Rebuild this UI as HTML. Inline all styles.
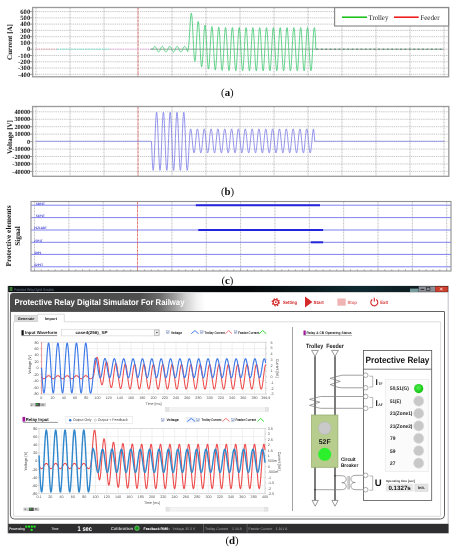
<!DOCTYPE html>
<html><head><meta charset="utf-8"><title>Protective Relay Figure</title>
<style>html,body{margin:0;padding:0;background:#fff;}body{width:455px;height:550px;overflow:hidden;}svg{display:block;}</style></head><body>
<svg width="455" height="550" viewBox="0 0 455 550" text-rendering="geometricPrecision">
<line x1="36" y1="7.5" x2="36" y2="76.8" stroke="#9a9a9a" stroke-width="0.6" stroke-dasharray="2 1"/>
<line x1="70" y1="7.5" x2="70" y2="76.8" stroke="#9a9a9a" stroke-width="0.6" stroke-dasharray="2 1"/>
<line x1="104" y1="7.5" x2="104" y2="76.8" stroke="#9a9a9a" stroke-width="0.6" stroke-dasharray="2 1"/>
<line x1="138" y1="7.5" x2="138" y2="76.8" stroke="#9a9a9a" stroke-width="0.6" stroke-dasharray="2 1"/>
<line x1="172" y1="7.5" x2="172" y2="76.8" stroke="#9a9a9a" stroke-width="0.6" stroke-dasharray="2 1"/>
<line x1="206" y1="7.5" x2="206" y2="76.8" stroke="#9a9a9a" stroke-width="0.6" stroke-dasharray="2 1"/>
<line x1="240" y1="7.5" x2="240" y2="76.8" stroke="#9a9a9a" stroke-width="0.6" stroke-dasharray="2 1"/>
<line x1="274" y1="7.5" x2="274" y2="76.8" stroke="#9a9a9a" stroke-width="0.6" stroke-dasharray="2 1"/>
<line x1="308" y1="7.5" x2="308" y2="76.8" stroke="#9a9a9a" stroke-width="0.6" stroke-dasharray="2 1"/>
<line x1="342" y1="7.5" x2="342" y2="76.8" stroke="#9a9a9a" stroke-width="0.6" stroke-dasharray="2 1"/>
<line x1="376" y1="7.5" x2="376" y2="76.8" stroke="#9a9a9a" stroke-width="0.6" stroke-dasharray="2 1"/>
<line x1="410" y1="7.5" x2="410" y2="76.8" stroke="#9a9a9a" stroke-width="0.6" stroke-dasharray="2 1"/>
<line x1="444" y1="7.5" x2="444" y2="76.8" stroke="#9a9a9a" stroke-width="0.6" stroke-dasharray="2 1"/>
<line x1="32.6" y1="11.6" x2="448.6" y2="11.6" stroke="#a2a2a2" stroke-width="0.6" stroke-dasharray="1.3 0.8"/>
<line x1="32.6" y1="17.87" x2="448.6" y2="17.87" stroke="#a2a2a2" stroke-width="0.6" stroke-dasharray="1.3 0.8"/>
<line x1="32.6" y1="24.14" x2="448.6" y2="24.14" stroke="#a2a2a2" stroke-width="0.6" stroke-dasharray="1.3 0.8"/>
<line x1="32.6" y1="30.41" x2="448.6" y2="30.41" stroke="#a2a2a2" stroke-width="0.6" stroke-dasharray="1.3 0.8"/>
<line x1="32.6" y1="36.68" x2="448.6" y2="36.68" stroke="#a2a2a2" stroke-width="0.6" stroke-dasharray="1.3 0.8"/>
<line x1="32.6" y1="42.95" x2="448.6" y2="42.95" stroke="#a2a2a2" stroke-width="0.6" stroke-dasharray="1.3 0.8"/>
<line x1="32.6" y1="49.22" x2="448.6" y2="49.22" stroke="#a2a2a2" stroke-width="0.6" stroke-dasharray="1.3 0.8"/>
<line x1="32.6" y1="55.49" x2="448.6" y2="55.49" stroke="#a2a2a2" stroke-width="0.6" stroke-dasharray="1.3 0.8"/>
<line x1="32.6" y1="61.76" x2="448.6" y2="61.76" stroke="#a2a2a2" stroke-width="0.6" stroke-dasharray="1.3 0.8"/>
<line x1="32.6" y1="68.03" x2="448.6" y2="68.03" stroke="#a2a2a2" stroke-width="0.6" stroke-dasharray="1.3 0.8"/>
<line x1="32.6" y1="74.3" x2="448.6" y2="74.3" stroke="#a2a2a2" stroke-width="0.6" stroke-dasharray="1.3 0.8"/>
<line x1="30" y1="11.6" x2="32.6" y2="11.6" stroke="#555" stroke-width="0.6" />
<line x1="30" y1="17.87" x2="32.6" y2="17.87" stroke="#555" stroke-width="0.6" />
<line x1="30" y1="24.14" x2="32.6" y2="24.14" stroke="#555" stroke-width="0.6" />
<line x1="30" y1="30.41" x2="32.6" y2="30.41" stroke="#555" stroke-width="0.6" />
<line x1="30" y1="36.68" x2="32.6" y2="36.68" stroke="#555" stroke-width="0.6" />
<line x1="30" y1="42.95" x2="32.6" y2="42.95" stroke="#555" stroke-width="0.6" />
<line x1="30" y1="49.22" x2="32.6" y2="49.22" stroke="#555" stroke-width="0.6" />
<line x1="30" y1="55.49" x2="32.6" y2="55.49" stroke="#555" stroke-width="0.6" />
<line x1="30" y1="61.76" x2="32.6" y2="61.76" stroke="#555" stroke-width="0.6" />
<line x1="30" y1="68.03" x2="32.6" y2="68.03" stroke="#555" stroke-width="0.6" />
<line x1="30" y1="74.3" x2="32.6" y2="74.3" stroke="#555" stroke-width="0.6" />
<text x="30.2" y="13.8" font-size="6.6" text-anchor="end" font-weight="bold" fill="#222" font-family="'Liberation Serif', 'DejaVu Serif', serif" >600</text>
<text x="30.2" y="20.07" font-size="6.6" text-anchor="end" font-weight="bold" fill="#222" font-family="'Liberation Serif', 'DejaVu Serif', serif" >500</text>
<text x="30.2" y="26.34" font-size="6.6" text-anchor="end" font-weight="bold" fill="#222" font-family="'Liberation Serif', 'DejaVu Serif', serif" >400</text>
<text x="30.2" y="32.61" font-size="6.6" text-anchor="end" font-weight="bold" fill="#222" font-family="'Liberation Serif', 'DejaVu Serif', serif" >300</text>
<text x="30.2" y="38.88" font-size="6.6" text-anchor="end" font-weight="bold" fill="#222" font-family="'Liberation Serif', 'DejaVu Serif', serif" >200</text>
<text x="30.2" y="45.15" font-size="6.6" text-anchor="end" font-weight="bold" fill="#222" font-family="'Liberation Serif', 'DejaVu Serif', serif" >100</text>
<text x="30.2" y="51.42" font-size="6.6" text-anchor="end" font-weight="bold" fill="#222" font-family="'Liberation Serif', 'DejaVu Serif', serif" >0</text>
<text x="30.2" y="57.69" font-size="6.6" text-anchor="end" font-weight="bold" fill="#222" font-family="'Liberation Serif', 'DejaVu Serif', serif" >-100</text>
<text x="30.2" y="63.96" font-size="6.6" text-anchor="end" font-weight="bold" fill="#222" font-family="'Liberation Serif', 'DejaVu Serif', serif" >-200</text>
<text x="30.2" y="70.23" font-size="6.6" text-anchor="end" font-weight="bold" fill="#222" font-family="'Liberation Serif', 'DejaVu Serif', serif" >-300</text>
<text x="30.2" y="76.5" font-size="6.6" text-anchor="end" font-weight="bold" fill="#222" font-family="'Liberation Serif', 'DejaVu Serif', serif" >-400</text>
<text x="0" y="0" font-size="7" text-anchor="middle" font-weight="bold" fill="#111" font-family="'Liberation Serif', 'DejaVu Serif', serif" transform="translate(12.2 42) rotate(-90)">Current [A]</text>
<line x1="150" y1="49.2" x2="444" y2="49.2" stroke="#8c8c8c" stroke-width="0.7" />
<line x1="138" y1="7.5" x2="138" y2="76.8" stroke="#ee6060" stroke-width="0.75" stroke-dasharray="3 1"/>
<line x1="36" y1="49.2" x2="57" y2="49.2" stroke="#e890a0" stroke-width="0.8" stroke-dasharray="1.5 1"/>
<line x1="57" y1="49.2" x2="110" y2="49.2" stroke="#70e0c8" stroke-width="0.9" stroke-dasharray="2 0.8"/>
<line x1="110" y1="49.2" x2="151" y2="49.2" stroke="#f0a0e8" stroke-width="0.8" stroke-dasharray="1.5 1"/>
<path d="M151 49.2L151.2 49.2L151.4 49.2L151.6 49.2L151.8 49.2L152 49.2L152.2 49.2L152.4 49.2L152.6 49.2L152.8 49.2L153 49.2L153.2 48.73L153.4 48.27L153.6 47.84L153.8 47.45L154 47.11L154.2 46.83L154.4 46.61L154.6 46.47L154.8 46.4L155 46.42L155.2 46.51L155.4 46.68L155.6 46.92L155.8 47.23L156 47.59L156.2 48L156.4 48.44L156.6 48.91L156.8 49.38L157 49.84L157.2 50.29L157.4 50.71L157.6 51.08L157.8 51.4L158 51.66L158.2 51.85L158.4 51.97L158.6 52L158.8 51.96L159 51.83L159.2 51.63L159.4 51.37L159.6 51.04L159.8 50.66L160 50.24L160.2 49.79L160.4 49.32L160.6 48.85L160.8 48.39L161 47.95L161.2 47.54L161.4 47.19L161.6 46.89L161.8 46.66L162 46.5L162.2 46.41L162.4 46.41L162.6 46.48L162.8 46.63L163 46.86L163.2 47.15L163.4 47.5L163.6 47.89L163.8 48.33L164 48.79L164.2 49.26L164.4 49.73L164.6 50.18L164.8 50.61L165 50.99L165.2 51.33L165.4 51.6L165.6 51.81L165.8 51.94L166 52L166.2 51.97L166.4 51.87L166.6 51.69L166.8 51.44L167 51.13L167.2 50.76L167.4 50.35L167.6 49.9L167.8 49.44L168 48.96L168.2 48.5L168.4 48.05L168.6 47.64L168.8 47.27L169 46.96L169.2 46.71L169.4 46.53L169.6 46.43L169.8 46.4L170 46.46L170.2 46.59L170.4 46.8L170.6 47.07L170.8 47.41L171 47.79L171.2 48.22L171.4 48.67L171.6 49.14L171.8 49.61L172 50.07L172.2 50.51L172.4 50.9L172.6 51.25L172.8 51.54L173 51.77L173.2 51.92L173.4 51.99L173.6 51.99L173.8 51.9L174 51.74L174.2 51.51L174.4 51.21L174.6 50.86L174.8 50.45L175 50.01L175.2 49.55L175.4 49.08L175.6 48.61L175.8 48.16L176 47.74L176.2 47.36L176.4 47.03L176.6 46.77L176.8 46.57L177 46.44L177.2 46.4L177.4 46.43L177.6 46.55L177.8 46.74L178 47L178.2 47.32L178.4 47.69L178.6 48.11L178.8 48.56L179 49.02L179.2 49.49L179.4 49.96L179.6 50.4L179.8 50.81L180 51.17L180.2 51.48L180.4 51.72L180.6 51.89L180.8 51.98L181 52L181.2 51.93L181.4 51.79L181.6 51.57L181.8 51.29L182 50.95L182.2 50.56L182.4 50.13L182.6 49.67L182.8 49.2L183 48.73L183.2 48.27L183.4 47.84L183.6 47.45L183.8 47.11L184 46.83L184.2 46.61L184.4 46.47L184.6 46.4L184.8 46.42L185 46.51L185.2 46.68L185.4 46.92L185.6 47.23L185.8 47.59L186 48L186.2 48.44L186.4 48.91L186.6 49.38L186.8 49.84L187 50.29L187.2 50.71L187.4 51.08L187.6 51.4L187.8 51.66L188 48.8L188.2 48.92L188.4 48.32L188.6 47.02L188.8 45.1L189 42.63L189.2 39.72L189.4 36.47L189.6 33.02L189.8 29.5L190 26.04L190.2 22.77L190.4 19.82L190.6 17.29L190.8 15.3L191 13.93L191.2 13.22L191.4 13.22L191.6 13.94L191.8 15.36L192 17.46L192.2 20.18L192.4 23.42L192.6 27.1L192.8 31.1L193 35.29L193.2 39.55L193.4 43.74L193.6 47.73L193.8 51.39L194 54.62L194.2 57.3L194.4 59.36L194.6 60.74L194.8 61.39L195 61.32L195.2 60.51L195.4 59.02L195.6 56.9L195.8 54.22L196 51.09L196.2 47.62L196.4 43.93L196.6 40.15L196.8 36.42L197 32.87L197.2 29.63L197.4 26.8L197.6 24.5L197.8 22.81L198 21.78L198.2 21.46L198.4 21.87L198.6 22.99L198.8 24.8L199 27.23L199.2 30.22L199.4 33.66L199.6 37.44L199.8 41.44L200 45.53L200.2 49.58L200.4 53.45L200.6 57.01L200.8 60.15L201 62.78L201.2 64.79L201.4 66.13L201.6 66.76L201.8 66.66L202 65.84L202.2 64.32L202.4 62.16L202.6 59.44L202.8 56.25L203 52.71L203.2 48.93L203.4 45.05L203.6 41.19L203.8 37.5L204 34.1L204.2 31.11L204.4 28.63L204.6 26.74L204.8 25.52L205 25.01L205.2 25.22L205.4 26.15L205.6 27.77L205.8 30.04L206 32.87L206.2 36.17L206.4 39.83L206.6 43.73L206.8 47.75L207 51.74L207.2 55.57L207.4 59.12L207.6 62.27L207.8 64.92L208 66.96L208.2 68.35L208.4 69.03L208.6 68.98L208.8 68.21L209 66.74L209.2 64.62L209.4 61.92L209.6 58.75L209.8 55.2L210 51.4L210.2 47.48L210.4 43.57L210.6 39.8L210.8 36.31L211 33.2L211.2 30.6L211.4 28.58L211.6 27.21L211.8 26.55L212 26.62L212.2 27.4L212.4 28.89L212.6 31.03L212.8 33.75L213 36.95L213.2 40.53L213.4 44.38L213.6 48.35L213.8 52.33L214 56.16L214.2 59.74L214.4 62.93L214.6 65.62L214.8 67.74L215 69.2L215.2 69.97L215.4 70L215.6 69.31L215.8 67.92L216 65.87L216.2 63.24L216.4 60.1L216.6 56.59L216.8 52.79L217 48.86L217.2 44.92L217.4 41.1L217.6 37.54L217.8 34.35L218 31.65L218.2 29.52L218.4 28.04L218.6 27.25L218.8 27.19L219 27.86L219.2 29.23L219.4 31.26L219.6 33.88L219.8 37L220 40.52L220.2 44.32L220.4 48.27L220.6 52.24L220.8 56.09L221 59.7L221.2 62.94L221.4 65.71L221.6 67.91L221.8 69.46L222 70.32L222.2 70.46L222.4 69.86L222.6 68.56L222.8 66.6L223 64.04L223.2 60.97L223.4 57.49L223.6 53.72L223.8 49.79L224 45.84L224.2 41.99L224.4 38.37L224.6 35.11L224.8 32.32L225 30.09L225.2 28.5L225.4 27.6L225.6 27.42L225.8 27.97L226 29.23L226.2 31.16L226.4 33.69L226.6 36.74L226.8 40.2L227 43.96L227.2 47.89L227.4 51.86L227.6 55.74L227.8 59.39L228 62.68L228.2 65.52L228.4 67.81L228.6 69.46L228.8 70.42L229 70.66L229.2 70.17L229.4 68.97L229.6 67.1L229.8 64.62L230 61.61L230.2 58.18L230.4 54.45L230.6 50.53L230.8 46.57L231 42.69L231.2 39.03L231.4 35.7L231.6 32.83L231.8 30.51L232 28.82L232.2 27.81L232.4 27.52L232.6 27.96L232.8 29.11L233 30.94L233.2 33.38L233.4 36.36L233.6 39.76L233.8 43.48L234 47.39L234.2 51.36L234.4 55.26L234.6 58.95L234.8 62.3L235 65.21L235.2 67.58L235.4 69.33L235.6 70.4L235.8 70.74L236 70.36L236.2 69.26L236.4 67.49L236.6 65.09L236.8 62.16L237 58.79L237.2 55.09L237.4 51.19L237.6 47.22L237.8 43.32L238 39.61L238.2 36.23L238.4 33.28L238.6 30.87L238.8 29.08L239 27.96L239.2 27.56L239.4 27.89L239.6 28.94L239.8 30.67L240 33.02L240.2 35.92L240.4 39.27L240.6 42.95L240.8 46.84L241 50.81L241.2 54.72L241.4 58.45L241.6 61.86L241.8 64.85L242 67.3L242.2 69.14L242.4 70.31L242.6 70.77L242.8 70.5L243 69.5L243.2 67.83L243.4 65.52L243.6 62.66L243.8 59.34L244 55.68L244.2 51.81L244.4 47.84L244.6 43.92L244.8 40.18L245 36.74L245.2 33.72L245.4 31.22L245.6 29.33L245.8 28.11L246 27.6L246.2 27.82L246.4 28.76L246.6 30.39L246.8 32.65L247 35.48L247.2 38.76L247.4 42.4L247.6 46.27L247.8 50.23L248 54.16L248.2 57.92L248.4 61.39L248.6 64.44L248.8 66.98L249 68.92L249.2 70.2L249.4 70.76L249.6 70.6L249.8 69.71L250 68.13L250.2 65.91L250.4 63.13L250.6 59.88L250.8 56.26L251 52.41L251.2 48.45L251.4 44.51L251.6 40.73L251.8 37.24L252 34.15L252.2 31.57L252.4 29.58L252.6 28.26L252.8 27.64L253 27.75L253.2 28.58L253.4 30.11L253.6 32.28L253.8 35.03L254 38.25L254.2 41.84L254.4 45.68L254.6 49.64L254.8 53.59L255 57.38L255.2 60.9L255.4 64.02L255.6 66.65L255.8 68.68L256 70.06L256.2 70.73L256.4 70.67L256.6 69.9L256.8 68.42L257 66.29L257.2 63.59L257.4 60.4L257.6 56.83L257.8 53L258 49.05L258.2 45.1L258.4 41.29L258.6 37.74L258.8 34.59L259 31.92L259.2 29.84L259.4 28.41L259.6 27.69L259.8 27.69L260 28.41L260.2 29.84L260.4 31.92L260.6 34.59L260.8 37.74L261 41.29L261.2 45.1L261.4 49.05L261.6 53L261.8 56.83L262 60.4L262.2 63.59L262.4 66.29L262.6 68.42L262.8 69.9L263 70.68L263.2 70.73L263.4 70.06L263.6 68.68L263.8 66.65L264 64.03L264.2 60.9L264.4 57.38L264.6 53.59L264.8 49.65L265 45.69L265.2 41.85L265.4 38.26L265.6 35.03L265.8 32.29L266 30.12L266.2 28.59L266.4 27.75L266.6 27.64L266.8 28.26L267 29.59L267.2 31.57L267.4 34.16L267.6 37.25L267.8 40.74L268 44.52L268.2 48.45L268.4 52.42L268.6 56.27L268.8 59.88L269 63.14L269.2 65.92L269.4 68.14L269.6 69.72L269.8 70.61L270 70.77L270.2 70.21L270.4 68.93L270.6 67L270.8 64.46L271 61.4L271.2 57.93L271.4 54.17L271.6 50.24L271.8 46.28L272 42.41L272.2 38.77L272.4 35.49L272.6 32.67L272.8 30.4L273 28.77L273.2 27.83L273.4 27.61L273.6 28.12L273.8 29.34L274 31.24L274.2 33.73L274.4 36.75L274.6 40.19L274.8 43.94L275 47.86L275.2 51.83L275.4 55.7L275.6 59.36L275.8 62.68L276 65.54L276.2 67.85L276.4 69.53L276.6 70.52L276.8 70.79L277 70.34L277.2 69.17L277.4 67.33L277.6 64.87L277.8 61.89L278 58.48L278.2 54.75L278.4 50.84L278.6 46.87L278.8 42.98L279 39.3L279.2 35.96L279.4 33.06L279.6 30.7L279.8 28.98L280 27.93L280.2 27.6L280.4 28L280.6 29.12L280.8 30.91L281 33.32L281.2 36.27L281.4 39.66L281.6 43.36L281.8 47.27L282 51.23L282.2 55.13L282.4 58.83L282.6 62.21L282.8 65.14L283 67.54L283.2 69.32L283.4 70.42L283.6 70.8L283.8 70.45L284 69.39L284.2 67.64L284.4 65.28L284.6 62.37L284.8 59.01L285 55.32L285.2 51.43L285.4 47.46L285.6 43.55L285.8 39.83L286 36.43L286.2 33.46L286.4 31.02L286.6 29.19L286.8 28.04L287 27.6L287.2 27.9L287.4 28.91L287.6 30.6L287.8 32.93L288 35.8L288.2 39.12L288.4 42.79L288.6 46.67L288.8 50.64L289 54.56L289.2 58.3L289.4 61.73L289.6 64.73L289.8 67.22L290 69.09L290.2 70.3L290.4 70.79L290.6 70.55L290.8 69.59L291 67.95L291.2 65.67L291.4 62.83L291.6 59.54L291.8 55.89L292 52.02L292.2 48.06L292.4 44.13L292.6 40.38L292.8 36.92L293 33.87L293.2 31.35L293.4 29.42L293.6 28.17L293.8 27.62L294 27.81L294.2 28.71L294.4 30.31L294.6 32.54L294.8 35.34L295 38.6L295.2 42.22L295.4 46.08L295.6 50.04L295.8 53.98L296 57.75L296.2 61.24L296.4 64.31L296.6 66.88L296.8 68.85L297 70.16L297.2 70.76L297.4 70.63L297.6 69.78L297.8 68.24L298 66.05L298.2 63.29L298.4 60.06L298.6 56.46L298.8 52.61L299 48.65L299.2 44.71L299.4 40.92L299.6 37.41L299.8 34.3L300 31.69L300.2 29.67L300.4 28.31L300.6 27.66L300.8 27.73L301 28.53L301.2 30.02L301.4 32.17L301.6 34.89L301.8 38.09L302 41.66L302.2 45.49L302.4 49.45L302.6 53.4L302.8 57.2L303 60.74L303.2 63.88L303.4 66.53L303.6 68.6L303.8 70.01L304 70.72L304.2 70.7L304.4 69.96L304.6 68.51L304.8 66.41L305 63.74L305.2 60.57L305.4 57.02L305.6 53.2L305.8 49.25L306 45.3L306.2 41.48L306.4 37.92L306.6 34.74L306.8 32.05L307 29.93L307.2 28.47L307.4 27.71L307.6 27.67L307.8 28.36L308 29.76L308.2 31.81L308.4 34.44L308.6 37.58L308.8 41.11L309 44.91L309.2 48.85L309.4 52.81L309.6 56.64L309.8 60.23L310 63.44L310.2 66.17L310.4 68.33L310.6 69.84L310.8 70.66L311 70.75L311.2 70.11L311.4 68.77L311.6 66.77L311.8 64.17L312 61.07L312.2 57.57L312.4 53.78L312.6 49.85L312.8 45.88L313 42.04L313.2 38.43L313.4 35.19L313.6 32.41L313.8 30.21L314 28.65L314.2 27.78L314.4 27.63L314.6 28.21L314.8 29.51L315 31.46L315.2 34.01L315.4 37.08L315.6 40.56L315.8 49.2L316 49.2L316.2 49.2L316.4 49.2L316.6 49.2" fill="none" stroke="#30c466" stroke-width="0.75"/>
<line x1="316.5" y1="49.2" x2="444" y2="49.2" stroke="#3a8a5a" stroke-width="1" stroke-dasharray="1.8 2.6"/>
<rect x="32.6" y="7.5" width="416" height="69.3" fill="none" stroke="#999999" stroke-width="1.3" />
<rect x="334.6" y="7.6" width="114" height="18.4" fill="#fff" stroke="#8c8c8c" stroke-width="1.2" />
<line x1="342" y1="17.2" x2="367" y2="17.2" stroke="#10c010" stroke-width="1.5" />
<text x="368.5" y="19.8" font-size="7.4" text-anchor="start" font-weight="normal" fill="#222" font-family="'Liberation Serif', 'DejaVu Serif', serif"  textLength="19.8" lengthAdjust="spacingAndGlyphs">Trolley</text>
<line x1="394" y1="17.2" x2="418.7" y2="17.2" stroke="#ee1010" stroke-width="1.5" />
<text x="420.3" y="19.8" font-size="7.4" text-anchor="start" font-weight="normal" fill="#222" font-family="'Liberation Serif', 'DejaVu Serif', serif"  textLength="19.2" lengthAdjust="spacingAndGlyphs">Feeder</text>
<text x="227.4" y="95.9" font-size="10.8" text-anchor="middle" font-weight="normal" fill="#111" font-family="'Liberation Serif', 'DejaVu Serif', serif" >(<tspan font-weight="bold">a</tspan>)</text>
<line x1="36" y1="106.5" x2="36" y2="176.3" stroke="#9a9a9a" stroke-width="0.6" stroke-dasharray="2 1"/>
<line x1="70" y1="106.5" x2="70" y2="176.3" stroke="#9a9a9a" stroke-width="0.6" stroke-dasharray="2 1"/>
<line x1="104" y1="106.5" x2="104" y2="176.3" stroke="#9a9a9a" stroke-width="0.6" stroke-dasharray="2 1"/>
<line x1="138" y1="106.5" x2="138" y2="176.3" stroke="#9a9a9a" stroke-width="0.6" stroke-dasharray="2 1"/>
<line x1="172" y1="106.5" x2="172" y2="176.3" stroke="#9a9a9a" stroke-width="0.6" stroke-dasharray="2 1"/>
<line x1="206" y1="106.5" x2="206" y2="176.3" stroke="#9a9a9a" stroke-width="0.6" stroke-dasharray="2 1"/>
<line x1="240" y1="106.5" x2="240" y2="176.3" stroke="#9a9a9a" stroke-width="0.6" stroke-dasharray="2 1"/>
<line x1="274" y1="106.5" x2="274" y2="176.3" stroke="#9a9a9a" stroke-width="0.6" stroke-dasharray="2 1"/>
<line x1="308" y1="106.5" x2="308" y2="176.3" stroke="#9a9a9a" stroke-width="0.6" stroke-dasharray="2 1"/>
<line x1="342" y1="106.5" x2="342" y2="176.3" stroke="#9a9a9a" stroke-width="0.6" stroke-dasharray="2 1"/>
<line x1="376" y1="106.5" x2="376" y2="176.3" stroke="#9a9a9a" stroke-width="0.6" stroke-dasharray="2 1"/>
<line x1="410" y1="106.5" x2="410" y2="176.3" stroke="#9a9a9a" stroke-width="0.6" stroke-dasharray="2 1"/>
<line x1="444" y1="106.5" x2="444" y2="176.3" stroke="#9a9a9a" stroke-width="0.6" stroke-dasharray="2 1"/>
<line x1="32.6" y1="111.8" x2="448.8" y2="111.8" stroke="#a2a2a2" stroke-width="0.6" stroke-dasharray="1.3 0.8"/>
<line x1="30" y1="111.8" x2="32.6" y2="111.8" stroke="#555" stroke-width="0.6" />
<line x1="32.6" y1="119.25" x2="448.8" y2="119.25" stroke="#a2a2a2" stroke-width="0.6" stroke-dasharray="1.3 0.8"/>
<line x1="30" y1="119.25" x2="32.6" y2="119.25" stroke="#555" stroke-width="0.6" />
<line x1="32.6" y1="126.7" x2="448.8" y2="126.7" stroke="#a2a2a2" stroke-width="0.6" stroke-dasharray="1.3 0.8"/>
<line x1="30" y1="126.7" x2="32.6" y2="126.7" stroke="#555" stroke-width="0.6" />
<line x1="32.6" y1="134.15" x2="448.8" y2="134.15" stroke="#a2a2a2" stroke-width="0.6" stroke-dasharray="1.3 0.8"/>
<line x1="30" y1="134.15" x2="32.6" y2="134.15" stroke="#555" stroke-width="0.6" />
<line x1="32.6" y1="141.6" x2="448.8" y2="141.6" stroke="#a2a2a2" stroke-width="0.6" stroke-dasharray="1.3 0.8"/>
<line x1="30" y1="141.6" x2="32.6" y2="141.6" stroke="#555" stroke-width="0.6" />
<line x1="32.6" y1="149.05" x2="448.8" y2="149.05" stroke="#a2a2a2" stroke-width="0.6" stroke-dasharray="1.3 0.8"/>
<line x1="30" y1="149.05" x2="32.6" y2="149.05" stroke="#555" stroke-width="0.6" />
<line x1="32.6" y1="156.5" x2="448.8" y2="156.5" stroke="#a2a2a2" stroke-width="0.6" stroke-dasharray="1.3 0.8"/>
<line x1="30" y1="156.5" x2="32.6" y2="156.5" stroke="#555" stroke-width="0.6" />
<line x1="32.6" y1="163.95" x2="448.8" y2="163.95" stroke="#a2a2a2" stroke-width="0.6" stroke-dasharray="1.3 0.8"/>
<line x1="30" y1="163.95" x2="32.6" y2="163.95" stroke="#555" stroke-width="0.6" />
<line x1="32.6" y1="171.4" x2="448.8" y2="171.4" stroke="#a2a2a2" stroke-width="0.6" stroke-dasharray="1.3 0.8"/>
<line x1="30" y1="171.4" x2="32.6" y2="171.4" stroke="#555" stroke-width="0.6" />
<text x="30.2" y="113.9" font-size="6.3" text-anchor="end" font-weight="bold" fill="#222" font-family="'Liberation Serif', 'DejaVu Serif', serif" >40000</text>
<text x="30.2" y="121.35" font-size="6.3" text-anchor="end" font-weight="bold" fill="#222" font-family="'Liberation Serif', 'DejaVu Serif', serif" >30000</text>
<text x="30.2" y="128.8" font-size="6.3" text-anchor="end" font-weight="bold" fill="#222" font-family="'Liberation Serif', 'DejaVu Serif', serif" >20000</text>
<text x="30.2" y="136.25" font-size="6.3" text-anchor="end" font-weight="bold" fill="#222" font-family="'Liberation Serif', 'DejaVu Serif', serif" >10000</text>
<text x="30.2" y="143.7" font-size="6.3" text-anchor="end" font-weight="bold" fill="#222" font-family="'Liberation Serif', 'DejaVu Serif', serif" >0</text>
<text x="30.2" y="151.15" font-size="6.3" text-anchor="end" font-weight="bold" fill="#222" font-family="'Liberation Serif', 'DejaVu Serif', serif" >-10000</text>
<text x="30.2" y="158.6" font-size="6.3" text-anchor="end" font-weight="bold" fill="#222" font-family="'Liberation Serif', 'DejaVu Serif', serif" >-20000</text>
<text x="30.2" y="166.05" font-size="6.3" text-anchor="end" font-weight="bold" fill="#222" font-family="'Liberation Serif', 'DejaVu Serif', serif" >-30000</text>
<text x="30.2" y="173.5" font-size="6.3" text-anchor="end" font-weight="bold" fill="#222" font-family="'Liberation Serif', 'DejaVu Serif', serif" >-40000</text>
<text x="0" y="0" font-size="7" text-anchor="middle" font-weight="bold" fill="#111" font-family="'Liberation Serif', 'DejaVu Serif', serif" transform="translate(12.2 137) rotate(-90)">Voltage [V]</text>
<line x1="138" y1="106.5" x2="138" y2="176.3" stroke="#ee6060" stroke-width="0.75" stroke-dasharray="3 1"/>
<path d="M36 141.3L36.2 141.3L36.4 141.3L36.6 141.3L36.8 141.3L37 141.3L37.2 141.3L37.4 141.3L37.6 141.3L37.8 141.3L38 141.3L38.2 141.3L38.4 141.3L38.6 141.3L38.8 141.3L39 141.3L39.2 141.3L39.4 141.3L39.6 141.3L39.8 141.3L40 141.3L40.2 141.3L40.4 141.3L40.6 141.3L40.8 141.3L41 141.3L41.2 141.3L41.4 141.3L41.6 141.3L41.8 141.3L42 141.3L42.2 141.3L42.4 141.3L42.6 141.3L42.8 141.3L43 141.3L43.2 141.3L43.4 141.3L43.6 141.3L43.8 141.3L44 141.3L44.2 141.3L44.4 141.3L44.6 141.3L44.8 141.3L45 141.3L45.2 141.3L45.4 141.3L45.6 141.3L45.8 141.3L46 141.3L46.2 141.3L46.4 141.3L46.6 141.3L46.8 141.3L47 141.3L47.2 141.3L47.4 141.3L47.6 141.3L47.8 141.3L48 141.3L48.2 141.3L48.4 141.3L48.6 141.3L48.8 141.3L49 141.3L49.2 141.3L49.4 141.3L49.6 141.3L49.8 141.3L50 141.3L50.2 141.3L50.4 141.3L50.6 141.3L50.8 141.3L51 141.3L51.2 141.3L51.4 141.3L51.6 141.3L51.8 141.3L52 141.3L52.2 141.3L52.4 141.3L52.6 141.3L52.8 141.3L53 141.3L53.2 141.3L53.4 141.3L53.6 141.3L53.8 141.3L54 141.3L54.2 141.3L54.4 141.3L54.6 141.3L54.8 141.3L55 141.3L55.2 141.3L55.4 141.3L55.6 141.3L55.8 141.3L56 141.3L56.2 141.3L56.4 141.3L56.6 141.3L56.8 141.3L57 141.3L57.2 141.3L57.4 141.3L57.6 141.3L57.8 141.3L58 141.3L58.2 141.3L58.4 141.3L58.6 141.3L58.8 141.3L59 141.3L59.2 141.3L59.4 141.3L59.6 141.3L59.8 141.3L60 141.3L60.2 141.3L60.4 141.3L60.6 141.3L60.8 141.3L61 141.3L61.2 141.3L61.4 141.3L61.6 141.3L61.8 141.3L62 141.3L62.2 141.3L62.4 141.3L62.6 141.3L62.8 141.3L63 141.3L63.2 141.3L63.4 141.3L63.6 141.3L63.8 141.3L64 141.3L64.2 141.3L64.4 141.3L64.6 141.3L64.8 141.3L65 141.3L65.2 141.3L65.4 141.3L65.6 141.3L65.8 141.3L66 141.3L66.2 141.3L66.4 141.3L66.6 141.3L66.8 141.3L67 141.3L67.2 141.3L67.4 141.3L67.6 141.3L67.8 141.3L68 141.3L68.2 141.3L68.4 141.3L68.6 141.3L68.8 141.3L69 141.3L69.2 141.3L69.4 141.3L69.6 141.3L69.8 141.3L70 141.3L70.2 141.3L70.4 141.3L70.6 141.3L70.8 141.3L71 141.3L71.2 141.3L71.4 141.3L71.6 141.3L71.8 141.3L72 141.3L72.2 141.3L72.4 141.3L72.6 141.3L72.8 141.3L73 141.3L73.2 141.3L73.4 141.3L73.6 141.3L73.8 141.3L74 141.3L74.2 141.3L74.4 141.3L74.6 141.3L74.8 141.3L75 141.3L75.2 141.3L75.4 141.3L75.6 141.3L75.8 141.3L76 141.3L76.2 141.3L76.4 141.3L76.6 141.3L76.8 141.3L77 141.3L77.2 141.3L77.4 141.3L77.6 141.3L77.8 141.3L78 141.3L78.2 141.3L78.4 141.3L78.6 141.3L78.8 141.3L79 141.3L79.2 141.3L79.4 141.3L79.6 141.3L79.8 141.3L80 141.3L80.2 141.3L80.4 141.3L80.6 141.3L80.8 141.3L81 141.3L81.2 141.3L81.4 141.3L81.6 141.3L81.8 141.3L82 141.3L82.2 141.3L82.4 141.3L82.6 141.3L82.8 141.3L83 141.3L83.2 141.3L83.4 141.3L83.6 141.3L83.8 141.3L84 141.3L84.2 141.3L84.4 141.3L84.6 141.3L84.8 141.3L85 141.3L85.2 141.3L85.4 141.3L85.6 141.3L85.8 141.3L86 141.3L86.2 141.3L86.4 141.3L86.6 141.3L86.8 141.3L87 141.3L87.2 141.3L87.4 141.3L87.6 141.3L87.8 141.3L88 141.3L88.2 141.3L88.4 141.3L88.6 141.3L88.8 141.3L89 141.3L89.2 141.3L89.4 141.3L89.6 141.3L89.8 141.3L90 141.3L90.2 141.3L90.4 141.3L90.6 141.3L90.8 141.3L91 141.3L91.2 141.3L91.4 141.3L91.6 141.3L91.8 141.3L92 141.3L92.2 141.3L92.4 141.3L92.6 141.3L92.8 141.3L93 141.3L93.2 141.3L93.4 141.3L93.6 141.3L93.8 141.3L94 141.3L94.2 141.3L94.4 141.3L94.6 141.3L94.8 141.3L95 141.3L95.2 141.3L95.4 141.3L95.6 141.3L95.8 141.3L96 141.3L96.2 141.3L96.4 141.3L96.6 141.3L96.8 141.3L97 141.3L97.2 141.3L97.4 141.3L97.6 141.3L97.8 141.3L98 141.3L98.2 141.3L98.4 141.3L98.6 141.3L98.8 141.3L99 141.3L99.2 141.3L99.4 141.3L99.6 141.3L99.8 141.3L100 141.3L100.2 141.3L100.4 141.3L100.6 141.3L100.8 141.3L101 141.3L101.2 141.3L101.4 141.3L101.6 141.3L101.8 141.3L102 141.3L102.2 141.3L102.4 141.3L102.6 141.3L102.8 141.3L103 141.3L103.2 141.3L103.4 141.3L103.6 141.3L103.8 141.3L104 141.3L104.2 141.3L104.4 141.3L104.6 141.3L104.8 141.3L105 141.3L105.2 141.3L105.4 141.3L105.6 141.3L105.8 141.3L106 141.3L106.2 141.3L106.4 141.3L106.6 141.3L106.8 141.3L107 141.3L107.2 141.3L107.4 141.3L107.6 141.3L107.8 141.3L108 141.3L108.2 141.3L108.4 141.3L108.6 141.3L108.8 141.3L109 141.3L109.2 141.3L109.4 141.3L109.6 141.3L109.8 141.3L110 141.3L110.2 141.3L110.4 141.3L110.6 141.3L110.8 141.3L111 141.3L111.2 141.3L111.4 141.3L111.6 141.3L111.8 141.3L112 141.3L112.2 141.3L112.4 141.3L112.6 141.3L112.8 141.3L113 141.3L113.2 141.3L113.4 141.3L113.6 141.3L113.8 141.3L114 141.3L114.2 141.3L114.4 141.3L114.6 141.3L114.8 141.3L115 141.3L115.2 141.3L115.4 141.3L115.6 141.3L115.8 141.3L116 141.3L116.2 141.3L116.4 141.3L116.6 141.3L116.8 141.3L117 141.3L117.2 141.3L117.4 141.3L117.6 141.3L117.8 141.3L118 141.3L118.2 141.3L118.4 141.3L118.6 141.3L118.8 141.3L119 141.3L119.2 141.3L119.4 141.3L119.6 141.3L119.8 141.3L120 141.3L120.2 141.3L120.4 141.3L120.6 141.3L120.8 141.3L121 141.3L121.2 141.3L121.4 141.3L121.6 141.3L121.8 141.3L122 141.3L122.2 141.3L122.4 141.3L122.6 141.3L122.8 141.3L123 141.3L123.2 141.3L123.4 141.3L123.6 141.3L123.8 141.3L124 141.3L124.2 141.3L124.4 141.3L124.6 141.3L124.8 141.3L125 141.3L125.2 141.3L125.4 141.3L125.6 141.3L125.8 141.3L126 141.3L126.2 141.3L126.4 141.3L126.6 141.3L126.8 141.3L127 141.3L127.2 141.3L127.4 141.3L127.6 141.3L127.8 141.3L128 141.3L128.2 141.3L128.4 141.3L128.6 141.3L128.8 141.3L129 141.3L129.2 141.3L129.4 141.3L129.6 141.3L129.8 141.3L130 141.3L130.2 141.3L130.4 141.3L130.6 141.3L130.8 141.3L131 141.3L131.2 141.3L131.4 141.3L131.6 141.3L131.8 141.3L132 141.3L132.2 141.3L132.4 141.3L132.6 141.3L132.8 141.3L133 141.3L133.2 141.3L133.4 141.3L133.6 141.3L133.8 141.3L134 141.3L134.2 141.3L134.4 141.3L134.6 141.3L134.8 141.3L135 141.3L135.2 141.3L135.4 141.3L135.6 141.3L135.8 141.3L136 141.3L136.2 141.3L136.4 141.3L136.6 141.3L136.8 141.3L137 141.3L137.2 141.3L137.4 141.3L137.6 141.3L137.8 141.3L138 141.3L138.2 141.3L138.4 141.3L138.6 141.3L138.8 141.3L139 141.3L139.2 141.3L139.4 141.3L139.6 141.3L139.8 141.3L140 141.3L140.2 141.3L140.4 141.3L140.6 141.3L140.8 141.3L141 141.3L141.2 141.3L141.4 141.3L141.6 141.3L141.8 141.3L142 141.3L142.2 141.3L142.4 141.3L142.6 141.3L142.8 141.3L143 141.3L143.2 141.3L143.4 141.3L143.6 141.3L143.8 141.3L144 141.3L144.2 141.3L144.4 141.3L144.6 141.3L144.8 141.3L145 141.3L145.2 141.3L145.4 141.3L145.6 141.3L145.8 141.3L146 141.3L146.2 141.3L146.4 141.3L146.6 141.3L146.8 141.3L147 141.3L147.2 141.3L147.4 141.3L147.6 141.3L147.8 141.3L148 141.3L148.2 141.3L148.4 141.3L148.6 141.3L148.8 141.3L149 141.3L149.2 141.3L149.4 141.3L149.6 141.3L149.8 141.3L150 141.3L150.2 141.3L150.4 141.3L150.6 141.3L150.8 141.3L151 141.3L151.2 141.3L151.4 141.3L151.6 143.98L151.8 149.24L152 154.23L152.2 158.78L152.4 162.73L152.6 165.96L152.8 168.34L153 169.81L153.2 170.3L153.4 169.81L153.6 168.34L153.8 165.96L154 162.73L154.2 158.78L154.4 154.23L154.6 149.24L154.8 143.98L155 138.62L155.2 133.36L155.4 128.37L155.6 123.82L155.8 119.87L156 116.64L156.2 114.26L156.4 112.79L156.6 112.3L156.8 112.79L157 114.26L157.2 116.64L157.4 119.87L157.6 123.82L157.8 128.37L158 133.36L158.2 138.62L158.4 143.98L158.6 149.24L158.8 154.23L159 158.78L159.2 162.73L159.4 165.96L159.6 168.34L159.8 169.81L160 170.3L160.2 169.81L160.4 168.34L160.6 165.96L160.8 162.73L161 158.78L161.2 154.23L161.4 149.24L161.6 143.98L161.8 138.62L162 133.36L162.2 128.37L162.4 123.82L162.6 119.87L162.8 116.64L163 114.26L163.2 112.79L163.4 112.3L163.6 112.79L163.8 114.26L164 116.64L164.2 119.87L164.4 123.82L164.6 128.37L164.8 133.36L165 138.62L165.2 143.98L165.4 149.24L165.6 154.23L165.8 158.78L166 162.73L166.2 165.96L166.4 168.34L166.6 169.81L166.8 170.3L167 169.81L167.2 168.34L167.4 165.96L167.6 162.73L167.8 158.78L168 154.23L168.2 149.24L168.4 143.98L168.6 138.62L168.8 133.36L169 128.37L169.2 123.82L169.4 119.87L169.6 116.64L169.8 114.26L170 112.79L170.2 112.3L170.4 112.79L170.6 114.26L170.8 116.64L171 119.87L171.2 123.82L171.4 128.37L171.6 133.36L171.8 138.62L172 143.98L172.2 149.24L172.4 154.23L172.6 158.78L172.8 162.73L173 165.96L173.2 168.34L173.4 169.81L173.6 170.3L173.8 169.81L174 168.34L174.2 165.96L174.4 162.73L174.6 158.78L174.8 154.23L175 149.24L175.2 143.98L175.4 138.62L175.6 133.36L175.8 128.37L176 123.82L176.2 119.87L176.4 116.64L176.6 114.26L176.8 112.79L177 112.3L177.2 112.79L177.4 114.26L177.6 116.64L177.8 119.87L178 123.82L178.2 128.37L178.4 133.36L178.6 138.62L178.8 143.98L179 149.24L179.2 154.23L179.4 158.78L179.6 162.73L179.8 165.96L180 168.34L180.2 169.81L180.4 170.3L180.6 169.81L180.8 168.34L181 165.96L181.2 162.73L181.4 158.78L181.6 154.23L181.8 149.24L182 143.98L182.2 138.62L182.4 133.36L182.6 128.37L182.8 123.82L183 119.87L183.2 116.64L183.4 114.26L183.6 112.79L183.8 112.3L184 112.79L184.2 114.26L184.4 116.64L184.6 119.87L184.8 123.82L185 128.37L185.2 133.36L185.4 138.62L185.6 143.98L185.8 149.24L186 154.23L186.2 158.78L186.4 162.73L186.6 165.96L186.8 168.34L187 169.81L187.2 170.3L187.4 169.95L187.6 168.9L187.8 167.2L188 164.9L188.2 162.07L188.4 158.83L188.6 155.26L188.8 151.51L189 147.69L189.2 143.94L189.4 140.37L189.6 137.13L189.8 134.3L190 132L190.2 130.3L190.4 129.25L190.6 128.9L190.8 129.1L191 129.7L191.2 130.68L191.4 132L191.6 133.62L191.8 135.49L192 137.54L192.2 139.7L192.4 141.91L192.6 144.07L192.8 146.14L193 148.02L193.2 149.67L193.4 151.02L193.6 152.03L193.8 152.66L194 152.9L194.2 152.73L194.4 152.17L194.6 151.22L194.8 149.93L195 148.33L195.2 146.48L195.4 144.45L195.6 142.29L195.8 140.09L196 137.91L196.2 135.84L196.4 133.93L196.6 132.26L196.8 130.89L197 129.85L197.2 129.18L197.4 128.91L197.6 129.04L197.8 129.57L198 130.48L198.2 131.75L198.4 133.32L198.6 135.15L198.8 137.17L199 139.32L199.2 141.52L199.4 143.7L199.6 145.79L199.8 147.71L200 149.4L200.2 150.81L200.4 151.88L200.6 152.58L200.8 152.89L201 152.79L201.2 152.29L201.4 151.41L201.6 150.18L201.8 148.63L202 146.82L202.2 144.81L202.4 142.67L202.6 140.47L202.8 138.29L203 136.19L203.2 134.25L203.4 132.54L203.6 131.11L203.8 130L204 129.27L204.2 128.92L204.4 128.99L204.6 129.45L204.8 130.3L205 131.5L205.2 133.02L205.4 134.81L205.6 136.81L205.8 138.94L206 141.13L206.2 143.32L206.4 145.43L206.6 147.39L206.8 149.12L207 150.58L207.2 151.72L207.4 152.48L207.6 152.86L207.8 152.84L208 152.41L208.2 151.59L208.4 150.42L208.6 148.92L208.8 147.15L209 145.18L209.2 143.05L209.4 140.86L209.6 138.67L209.8 136.55L210 134.58L210.2 132.82L210.4 131.33L210.6 130.17L210.8 129.37L211 128.96L211.2 128.95L211.4 129.34L211.6 130.12L211.8 131.27L212 132.74L212.2 134.48L212.4 136.45L212.6 138.56L212.8 140.75L213 142.94L213.2 145.07L213.4 147.06L213.6 148.84L213.8 150.35L214 151.54L214.2 152.38L214.4 152.82L214.6 152.87L214.8 152.51L215 151.76L215.2 150.65L215.4 149.2L215.6 147.48L215.8 145.53L216 143.43L216.2 141.24L216.4 139.05L216.6 136.91L216.8 134.91L217 133.11L217.2 131.57L217.4 130.35L217.6 129.48L217.8 129L218 128.92L218.2 129.24L218.4 129.96L218.6 131.04L218.8 132.46L219 134.16L219.2 136.09L219.4 138.18L219.6 140.36L219.8 142.56L220 144.71L220.2 146.72L220.4 148.54L220.6 150.11L220.8 151.36L221 152.26L221.2 152.77L221.4 152.89L221.6 152.6L221.8 151.92L222 150.87L222.2 149.48L222.4 147.8L222.6 145.89L222.8 143.81L223 141.63L223.2 139.43L223.4 137.28L223.6 135.25L223.8 133.41L224 131.82L224.2 130.54L224.4 129.61L224.6 129.05L224.8 128.9L225 129.16L225.2 129.8L225.4 130.83L225.6 132.19L225.8 133.84L226 135.74L226.2 137.81L226.4 139.98L226.6 142.18L226.8 144.34L227 146.38L227.2 148.24L227.4 149.85L227.6 151.16L227.8 152.13L228 152.71L228.2 152.9L228.4 152.68L228.6 152.07L228.8 151.08L229 149.74L229.2 148.11L229.4 146.24L229.6 144.18L229.8 142.02L230 139.81L230.2 137.65L230.4 135.59L230.6 133.71L230.8 132.08L231 130.74L231.2 129.74L231.4 129.12L231.6 128.9L231.8 129.08L232 129.66L232.2 130.62L232.4 131.93L232.6 133.54L232.8 135.39L233 137.43L233.2 139.59L233.4 141.8L233.6 143.97L233.8 146.04L234 147.93L234.2 149.59L234.4 150.96L234.6 151.99L234.8 152.64L235 152.9L235.2 152.75L235.4 152.2L235.6 151.28L235.8 150L236 148.42L236.2 146.58L236.4 144.55L236.6 142.4L236.8 140.2L237 138.02L237.2 135.94L237.4 134.02L237.6 132.34L237.8 130.95L238 129.89L238.2 129.2L238.4 128.91L238.6 129.02L238.8 129.53L239 130.43L239.2 131.68L239.4 133.23L239.6 135.05L239.8 137.07L240 139.21L240.2 141.41L240.4 143.59L240.6 145.69L240.8 147.62L241 149.32L241.2 150.74L241.4 151.83L241.6 152.55L241.8 152.88L242 152.8L242.2 152.33L242.4 151.46L242.6 150.25L242.8 148.71L243 146.92L243.2 144.92L243.4 142.78L243.6 140.58L243.8 138.4L244 136.29L244.2 134.34L244.4 132.62L244.6 131.17L244.8 130.05L245 129.3L245.2 128.93L245.4 128.97L245.6 129.42L245.8 130.25L246 131.43L246.2 132.94L246.4 134.72L246.6 136.7L246.8 138.83L247 141.02L247.2 143.22L247.4 145.33L247.6 147.29L247.8 149.04L248 150.52L248.2 151.67L248.4 152.45L248.6 152.85L248.8 152.85L249 152.44L249.2 151.64L249.4 150.48L249.6 149L249.8 147.25L250 145.28L250.2 143.16L250.4 140.97L250.6 138.77L250.8 136.65L251 134.67L251.2 132.9L251.4 131.4L251.6 130.22L251.8 129.4L252 128.97L252.2 128.94L252.4 129.31L252.6 130.07L252.8 131.2L253 132.66L253.2 134.39L253.4 136.34L253.6 138.45L253.8 140.64L254 142.84L254.2 144.97L254.4 146.96L254.6 148.75L254.8 150.28L255 151.49L255.2 152.34L255.4 152.81L255.6 152.88L255.8 152.54L256 151.81L256.2 150.71L256.4 149.28L256.6 147.57L256.8 145.64L257 143.54L257.2 141.35L257.4 139.16L257.6 137.01L257.8 135L258 133.19L258.2 131.64L258.4 130.4L258.6 129.52L258.8 129.01L259 128.91L259.2 129.22L259.4 129.91L259.6 130.98L259.8 132.38L260 134.07L260.2 135.99L260.4 138.07L260.6 140.25L260.8 142.45L261 144.6L261.2 146.63L261.4 148.46L261.6 150.04L261.8 151.3L262 152.22L262.2 152.76L262.4 152.89L262.6 152.63L262.8 151.96L263 150.93L263.2 149.55L263.4 147.89L263.6 145.99L263.8 143.91L264 141.74L264.2 139.54L264.4 137.38L264.6 135.34L264.8 133.49L265 131.89L265.2 130.59L265.4 129.64L265.6 129.07L265.8 128.9L266 129.13L266.2 129.76L266.4 130.77L266.6 132.11L266.8 133.76L267 135.64L267.2 137.7L267.4 139.87L267.6 142.07L267.8 144.23L268 146.29L268.2 148.15L268.4 149.78L268.6 151.11L268.8 152.09L269 152.69L269.2 152.9L269.4 152.7L269.6 152.11L269.8 151.13L270 149.82L270.2 148.2L270.4 146.33L270.6 144.29L270.8 142.13L271 139.92L271.2 137.75L271.4 135.69L271.6 133.8L271.8 132.15L272 130.8L272.2 129.78L272.4 129.14L272.6 128.9L272.8 129.06L273 129.62L273.2 130.57L273.4 131.85L273.6 133.45L273.8 135.29L274 137.33L274.2 139.48L274.4 141.69L274.6 143.86L274.8 145.94L275 147.84L275.2 149.52L275.4 150.9L275.6 151.94L275.8 152.62L276 152.89L276.2 152.77L276.4 152.24L276.6 151.33L276.8 150.07L277 148.5L277.2 146.68L277.4 144.66L277.6 142.51L277.8 140.31L278 138.13L278.2 136.04L278.4 134.11L278.6 132.42L278.8 131.01L279 129.93L279.2 129.23L279.4 128.92L279.6 129.01L279.8 129.5L280 130.37L280.2 131.61L280.4 133.15L280.6 134.96L280.8 136.96L281 139.1L281.2 141.3L281.4 143.49L281.6 145.58L281.8 147.53L282 149.24L282.2 150.68L282.4 151.79L282.6 152.53L282.8 152.87L283 152.82L283.2 152.36L283.4 151.52L283.6 150.32L283.8 148.8L284 147.01L284.2 145.02L284.4 142.89L284.6 140.69L284.8 138.5L285 136.39L285.2 134.44L285.4 132.7L285.6 131.23L285.8 130.1L286 129.32L286.2 128.94L286.4 128.96L286.6 129.38L286.8 130.19L287 131.37L287.2 132.86L287.4 134.62L287.6 136.6L287.8 138.72L288 140.91L288.2 143.11L288.4 145.23L288.6 147.2L288.8 148.96L289 150.45L289.2 151.62L289.4 152.42L289.6 152.84L289.8 152.86L290 152.47L290.2 151.69L290.4 150.55L290.6 149.08L290.8 147.34L291 145.38L291.2 143.27L291.4 141.08L291.6 138.88L291.8 136.75L292 134.77L292.2 132.98L292.4 131.47L292.6 130.27L292.8 129.43L293 128.98L293.2 128.93L293.4 129.28L293.6 130.03L293.8 131.14L294 132.58L294.2 134.3L294.4 136.24L294.6 138.34L294.8 140.53L295 142.73L295.2 144.86L295.4 146.87L295.6 148.67L295.8 150.21L296 151.44L296.2 152.31L296.4 152.8L296.6 152.88L296.8 152.57L297 151.85L297.2 150.77L297.4 149.36L297.6 147.66L297.8 145.74L298 143.65L298.2 141.47L298.4 139.26L298.6 137.12L298.8 135.1L299 133.28L299.2 131.71L299.4 130.46L299.6 129.55L299.8 129.03L300 128.91L300.2 129.19L300.4 129.87L300.6 130.92L300.8 132.3L301 133.98L301.2 135.89L301.4 137.97L301.6 140.14L301.8 142.34L302 144.5L302.2 146.53L302.4 148.37L302.6 149.96L302.8 151.25L303 152.18L303.2 152.74L303.4 152.9L303.6 152.65L303.8 152.01L304 150.99L304.2 149.63L304.4 147.98L304.6 146.09L304.8 144.02L305 141.85L305.2 139.65L305.4 137.49L305.6 135.44L305.8 133.58L306 131.96L306.2 130.65L306.4 129.68L306.6 129.09L306.8 128.9L307 129.11L307.2 129.72L307.4 130.71L307.6 132.04L307.8 133.67L308 135.54L308.2 137.59L308.4 139.76L308.6 141.96L308.8 144.13L309 146.19L309.2 148.07L309.4 149.71L309.6 151.05L309.8 152.05L310 152.67L310.2 152.9L310.4 152.72L310.6 152.15L310.8 151.19L311 149.89L311.2 148.29L311.4 146.43L311.6 144.39L311.8 142.23L312 140.03L312.2 137.86L312.4 135.79L312.6 133.89L312.8 132.23L313 130.86L313.2 129.83L313.4 129.17L313.6 128.9L313.8 130.97L314 133.03L314.2 135.1L314.4 137.17L314.6 139.23L314.8 141.3L315 141.3L315.2 141.3L315.4 141.3L315.6 141.3L315.8 141.3L316 141.3L316.2 141.3L316.4 141.3L316.6 141.3L316.8 141.3L317 141.3L317.2 141.3L317.4 141.3L317.6 141.3L317.8 141.3L318 141.3L318.2 141.3L318.4 141.3L318.6 141.3L318.8 141.3L319 141.3L319.2 141.3L319.4 141.3L319.6 141.3L319.8 141.3L320 141.3L320.2 141.3L320.4 141.3L320.6 141.3L320.8 141.3L321 141.3L321.2 141.3L321.4 141.3L321.6 141.3L321.8 141.3L322 141.3L322.2 141.3L322.4 141.3L322.6 141.3L322.8 141.3L323 141.3L323.2 141.3L323.4 141.3L323.6 141.3L323.8 141.3L324 141.3L324.2 141.3L324.4 141.3L324.6 141.3L324.8 141.3L325 141.3L325.2 141.3L325.4 141.3L325.6 141.3L325.8 141.3L326 141.3L326.2 141.3L326.4 141.3L326.6 141.3L326.8 141.3L327 141.3L327.2 141.3L327.4 141.3L327.6 141.3L327.8 141.3L328 141.3L328.2 141.3L328.4 141.3L328.6 141.3L328.8 141.3L329 141.3L329.2 141.3L329.4 141.3L329.6 141.3L329.8 141.3L330 141.3L330.2 141.3L330.4 141.3L330.6 141.3L330.8 141.3L331 141.3L331.2 141.3L331.4 141.3L331.6 141.3L331.8 141.3L332 141.3L332.2 141.3L332.4 141.3L332.6 141.3L332.8 141.3L333 141.3L333.2 141.3L333.4 141.3L333.6 141.3L333.8 141.3L334 141.3L334.2 141.3L334.4 141.3L334.6 141.3L334.8 141.3L335 141.3L335.2 141.3L335.4 141.3L335.6 141.3L335.8 141.3L336 141.3L336.2 141.3L336.4 141.3L336.6 141.3L336.8 141.3L337 141.3L337.2 141.3L337.4 141.3L337.6 141.3L337.8 141.3L338 141.3L338.2 141.3L338.4 141.3L338.6 141.3L338.8 141.3L339 141.3L339.2 141.3L339.4 141.3L339.6 141.3L339.8 141.3L340 141.3L340.2 141.3L340.4 141.3L340.6 141.3L340.8 141.3L341 141.3L341.2 141.3L341.4 141.3L341.6 141.3L341.8 141.3L342 141.3L342.2 141.3L342.4 141.3L342.6 141.3L342.8 141.3L343 141.3L343.2 141.3L343.4 141.3L343.6 141.3L343.8 141.3L344 141.3L344.2 141.3L344.4 141.3L344.6 141.3L344.8 141.3L345 141.3L345.2 141.3L345.4 141.3L345.6 141.3L345.8 141.3L346 141.3L346.2 141.3L346.4 141.3L346.6 141.3L346.8 141.3L347 141.3L347.2 141.3L347.4 141.3L347.6 141.3L347.8 141.3L348 141.3L348.2 141.3L348.4 141.3L348.6 141.3L348.8 141.3L349 141.3L349.2 141.3L349.4 141.3L349.6 141.3L349.8 141.3L350 141.3L350.2 141.3L350.4 141.3L350.6 141.3L350.8 141.3L351 141.3L351.2 141.3L351.4 141.3L351.6 141.3L351.8 141.3L352 141.3L352.2 141.3L352.4 141.3L352.6 141.3L352.8 141.3L353 141.3L353.2 141.3L353.4 141.3L353.6 141.3L353.8 141.3L354 141.3L354.2 141.3L354.4 141.3L354.6 141.3L354.8 141.3L355 141.3L355.2 141.3L355.4 141.3L355.6 141.3L355.8 141.3L356 141.3L356.2 141.3L356.4 141.3L356.6 141.3L356.8 141.3L357 141.3L357.2 141.3L357.4 141.3L357.6 141.3L357.8 141.3L358 141.3L358.2 141.3L358.4 141.3L358.6 141.3L358.8 141.3L359 141.3L359.2 141.3L359.4 141.3L359.6 141.3L359.8 141.3L360 141.3L360.2 141.3L360.4 141.3L360.6 141.3L360.8 141.3L361 141.3L361.2 141.3L361.4 141.3L361.6 141.3L361.8 141.3L362 141.3L362.2 141.3L362.4 141.3L362.6 141.3L362.8 141.3L363 141.3L363.2 141.3L363.4 141.3L363.6 141.3L363.8 141.3L364 141.3L364.2 141.3L364.4 141.3L364.6 141.3L364.8 141.3L365 141.3L365.2 141.3L365.4 141.3L365.6 141.3L365.8 141.3L366 141.3L366.2 141.3L366.4 141.3L366.6 141.3L366.8 141.3L367 141.3L367.2 141.3L367.4 141.3L367.6 141.3L367.8 141.3L368 141.3L368.2 141.3L368.4 141.3L368.6 141.3L368.8 141.3L369 141.3L369.2 141.3L369.4 141.3L369.6 141.3L369.8 141.3L370 141.3L370.2 141.3L370.4 141.3L370.6 141.3L370.8 141.3L371 141.3L371.2 141.3L371.4 141.3L371.6 141.3L371.8 141.3L372 141.3L372.2 141.3L372.4 141.3L372.6 141.3L372.8 141.3L373 141.3L373.2 141.3L373.4 141.3L373.6 141.3L373.8 141.3L374 141.3L374.2 141.3L374.4 141.3L374.6 141.3L374.8 141.3L375 141.3L375.2 141.3L375.4 141.3L375.6 141.3L375.8 141.3L376 141.3L376.2 141.3L376.4 141.3L376.6 141.3L376.8 141.3L377 141.3L377.2 141.3L377.4 141.3L377.6 141.3L377.8 141.3L378 141.3L378.2 141.3L378.4 141.3L378.6 141.3L378.8 141.3L379 141.3L379.2 141.3L379.4 141.3L379.6 141.3L379.8 141.3L380 141.3L380.2 141.3L380.4 141.3L380.6 141.3L380.8 141.3L381 141.3L381.2 141.3L381.4 141.3L381.6 141.3L381.8 141.3L382 141.3L382.2 141.3L382.4 141.3L382.6 141.3L382.8 141.3L383 141.3L383.2 141.3L383.4 141.3L383.6 141.3L383.8 141.3L384 141.3L384.2 141.3L384.4 141.3L384.6 141.3L384.8 141.3L385 141.3L385.2 141.3L385.4 141.3L385.6 141.3L385.8 141.3L386 141.3L386.2 141.3L386.4 141.3L386.6 141.3L386.8 141.3L387 141.3L387.2 141.3L387.4 141.3L387.6 141.3L387.8 141.3L388 141.3L388.2 141.3L388.4 141.3L388.6 141.3L388.8 141.3L389 141.3L389.2 141.3L389.4 141.3L389.6 141.3L389.8 141.3L390 141.3L390.2 141.3L390.4 141.3L390.6 141.3L390.8 141.3L391 141.3L391.2 141.3L391.4 141.3L391.6 141.3L391.8 141.3L392 141.3L392.2 141.3L392.4 141.3L392.6 141.3L392.8 141.3L393 141.3L393.2 141.3L393.4 141.3L393.6 141.3L393.8 141.3L394 141.3L394.2 141.3L394.4 141.3L394.6 141.3L394.8 141.3L395 141.3L395.2 141.3L395.4 141.3L395.6 141.3L395.8 141.3L396 141.3L396.2 141.3L396.4 141.3L396.6 141.3L396.8 141.3L397 141.3L397.2 141.3L397.4 141.3L397.6 141.3L397.8 141.3L398 141.3L398.2 141.3L398.4 141.3L398.6 141.3L398.8 141.3L399 141.3L399.2 141.3L399.4 141.3L399.6 141.3L399.8 141.3L400 141.3L400.2 141.3L400.4 141.3L400.6 141.3L400.8 141.3L401 141.3L401.2 141.3L401.4 141.3L401.6 141.3L401.8 141.3L402 141.3L402.2 141.3L402.4 141.3L402.6 141.3L402.8 141.3L403 141.3L403.2 141.3L403.4 141.3L403.6 141.3L403.8 141.3L404 141.3L404.2 141.3L404.4 141.3L404.6 141.3L404.8 141.3L405 141.3L405.2 141.3L405.4 141.3L405.6 141.3L405.8 141.3L406 141.3L406.2 141.3L406.4 141.3L406.6 141.3L406.8 141.3L407 141.3L407.2 141.3L407.4 141.3L407.6 141.3L407.8 141.3L408 141.3L408.2 141.3L408.4 141.3L408.6 141.3L408.8 141.3L409 141.3L409.2 141.3L409.4 141.3L409.6 141.3L409.8 141.3L410 141.3L410.2 141.3L410.4 141.3L410.6 141.3L410.8 141.3L411 141.3L411.2 141.3L411.4 141.3L411.6 141.3L411.8 141.3L412 141.3L412.2 141.3L412.4 141.3L412.6 141.3L412.8 141.3L413 141.3L413.2 141.3L413.4 141.3L413.6 141.3L413.8 141.3L414 141.3L414.2 141.3L414.4 141.3L414.6 141.3L414.8 141.3L415 141.3L415.2 141.3L415.4 141.3L415.6 141.3L415.8 141.3L416 141.3L416.2 141.3L416.4 141.3L416.6 141.3L416.8 141.3L417 141.3L417.2 141.3L417.4 141.3L417.6 141.3L417.8 141.3L418 141.3L418.2 141.3L418.4 141.3L418.6 141.3L418.8 141.3L419 141.3L419.2 141.3L419.4 141.3L419.6 141.3L419.8 141.3L420 141.3L420.2 141.3L420.4 141.3L420.6 141.3L420.8 141.3L421 141.3L421.2 141.3L421.4 141.3L421.6 141.3L421.8 141.3L422 141.3L422.2 141.3L422.4 141.3L422.6 141.3L422.8 141.3L423 141.3L423.2 141.3L423.4 141.3L423.6 141.3L423.8 141.3L424 141.3L424.2 141.3L424.4 141.3L424.6 141.3L424.8 141.3L425 141.3L425.2 141.3L425.4 141.3L425.6 141.3L425.8 141.3L426 141.3L426.2 141.3L426.4 141.3L426.6 141.3L426.8 141.3L427 141.3L427.2 141.3L427.4 141.3L427.6 141.3L427.8 141.3L428 141.3L428.2 141.3L428.4 141.3L428.6 141.3L428.8 141.3L429 141.3L429.2 141.3L429.4 141.3L429.6 141.3L429.8 141.3L430 141.3L430.2 141.3L430.4 141.3L430.6 141.3L430.8 141.3L431 141.3L431.2 141.3L431.4 141.3L431.6 141.3L431.8 141.3L432 141.3L432.2 141.3L432.4 141.3L432.6 141.3L432.8 141.3L433 141.3L433.2 141.3L433.4 141.3L433.6 141.3L433.8 141.3L434 141.3L434.2 141.3L434.4 141.3L434.6 141.3L434.8 141.3L435 141.3L435.2 141.3L435.4 141.3L435.6 141.3L435.8 141.3L436 141.3L436.2 141.3L436.4 141.3L436.6 141.3L436.8 141.3L437 141.3L437.2 141.3L437.4 141.3L437.6 141.3L437.8 141.3L438 141.3L438.2 141.3L438.4 141.3L438.6 141.3L438.8 141.3L439 141.3L439.2 141.3L439.4 141.3L439.6 141.3L439.8 141.3L440 141.3L440.2 141.3L440.4 141.3L440.6 141.3L440.8 141.3L441 141.3L441.2 141.3L441.4 141.3L441.6 141.3L441.8 141.3L442 141.3L442.2 141.3L442.4 141.3L442.6 141.3L442.8 141.3L443 141.3L443.2 141.3L443.4 141.3L443.6 141.3L443.8 141.3L444 141.3L444.2 141.3L444.4 141.3" fill="none" stroke="#7070e6" stroke-width="0.75"/>
<rect x="32.6" y="106.5" width="416.2" height="69.8" fill="none" stroke="#999999" stroke-width="1.3" />
<text x="227.5" y="194.8" font-size="10.8" text-anchor="middle" font-weight="normal" fill="#111" font-family="'Liberation Serif', 'DejaVu Serif', serif" >(<tspan font-weight="bold">b</tspan>)</text>
<line x1="34.5" y1="201.5" x2="34.5" y2="271" stroke="#9a9a9a" stroke-width="0.6" stroke-dasharray="2 1"/>
<line x1="68.85" y1="201.5" x2="68.85" y2="271" stroke="#9a9a9a" stroke-width="0.6" stroke-dasharray="2 1"/>
<line x1="103.2" y1="201.5" x2="103.2" y2="271" stroke="#9a9a9a" stroke-width="0.6" stroke-dasharray="2 1"/>
<line x1="137.55" y1="201.5" x2="137.55" y2="271" stroke="#9a9a9a" stroke-width="0.6" stroke-dasharray="2 1"/>
<line x1="171.9" y1="201.5" x2="171.9" y2="271" stroke="#9a9a9a" stroke-width="0.6" stroke-dasharray="2 1"/>
<line x1="206.25" y1="201.5" x2="206.25" y2="271" stroke="#9a9a9a" stroke-width="0.6" stroke-dasharray="2 1"/>
<line x1="240.6" y1="201.5" x2="240.6" y2="271" stroke="#9a9a9a" stroke-width="0.6" stroke-dasharray="2 1"/>
<line x1="274.95" y1="201.5" x2="274.95" y2="271" stroke="#9a9a9a" stroke-width="0.6" stroke-dasharray="2 1"/>
<line x1="309.3" y1="201.5" x2="309.3" y2="271" stroke="#9a9a9a" stroke-width="0.6" stroke-dasharray="2 1"/>
<line x1="343.65" y1="201.5" x2="343.65" y2="271" stroke="#9a9a9a" stroke-width="0.6" stroke-dasharray="2 1"/>
<line x1="378" y1="201.5" x2="378" y2="271" stroke="#9a9a9a" stroke-width="0.6" stroke-dasharray="2 1"/>
<line x1="412.35" y1="201.5" x2="412.35" y2="271" stroke="#9a9a9a" stroke-width="0.6" stroke-dasharray="2 1"/>
<line x1="446.7" y1="201.5" x2="446.7" y2="271" stroke="#9a9a9a" stroke-width="0.6" stroke-dasharray="2 1"/>
<line x1="31" y1="205.2" x2="451" y2="205.2" stroke="#8080f0" stroke-width="1" />
<text x="36.1" y="204.5" font-size="3.3" text-anchor="start" font-weight="bold" fill="#3030d0" font-family="'Liberation Sans', 'DejaVu Sans', sans-serif"  textLength="8.8" lengthAdjust="spacingAndGlyphs">50P1T</text>
<line x1="31" y1="217.6" x2="451" y2="217.6" stroke="#8080f0" stroke-width="1" />
<text x="36.1" y="216.9" font-size="3.3" text-anchor="start" font-weight="bold" fill="#3030d0" font-family="'Liberation Sans', 'DejaVu Sans', sans-serif"  textLength="8.8" lengthAdjust="spacingAndGlyphs">51P1T</text>
<line x1="31" y1="230" x2="451" y2="230" stroke="#8080f0" stroke-width="1" />
<text x="34" y="229.3" font-size="3.3" text-anchor="start" font-weight="bold" fill="#3030d0" font-family="'Liberation Sans', 'DejaVu Sans', sans-serif"  textLength="12.7" lengthAdjust="spacingAndGlyphs">21Z1ABT</text>
<line x1="31" y1="242.3" x2="451" y2="242.3" stroke="#8080f0" stroke-width="1" />
<text x="34" y="241.6" font-size="3.3" text-anchor="start" font-weight="bold" fill="#3030d0" font-family="'Liberation Sans', 'DejaVu Sans', sans-serif"  textLength="8.6" lengthAdjust="spacingAndGlyphs">27P1T</text>
<line x1="31" y1="254.4" x2="451" y2="254.4" stroke="#8080f0" stroke-width="1" />
<text x="34.5" y="253.7" font-size="3.3" text-anchor="start" font-weight="bold" fill="#3030d0" font-family="'Liberation Sans', 'DejaVu Sans', sans-serif"  textLength="6.8" lengthAdjust="spacingAndGlyphs">59P1</text>
<line x1="31" y1="266.8" x2="451" y2="266.8" stroke="#8080f0" stroke-width="1" />
<text x="34.5" y="266.1" font-size="3.3" text-anchor="start" font-weight="bold" fill="#3030d0" font-family="'Liberation Sans', 'DejaVu Sans', sans-serif"  textLength="8.6" lengthAdjust="spacingAndGlyphs">52P1T</text>
<line x1="137.5" y1="201.5" x2="137.5" y2="271" stroke="#ee6060" stroke-width="0.75" stroke-dasharray="3 1"/>
<line x1="34.5" y1="269.4" x2="34.5" y2="271" stroke="#555" stroke-width="0.5" />
<line x1="41.37" y1="269.4" x2="41.37" y2="271" stroke="#555" stroke-width="0.5" />
<line x1="48.24" y1="269.4" x2="48.24" y2="271" stroke="#555" stroke-width="0.5" />
<line x1="55.11" y1="269.4" x2="55.11" y2="271" stroke="#555" stroke-width="0.5" />
<line x1="61.98" y1="269.4" x2="61.98" y2="271" stroke="#555" stroke-width="0.5" />
<line x1="68.85" y1="269.4" x2="68.85" y2="271" stroke="#555" stroke-width="0.5" />
<line x1="75.72" y1="269.4" x2="75.72" y2="271" stroke="#555" stroke-width="0.5" />
<line x1="82.59" y1="269.4" x2="82.59" y2="271" stroke="#555" stroke-width="0.5" />
<line x1="89.46" y1="269.4" x2="89.46" y2="271" stroke="#555" stroke-width="0.5" />
<line x1="96.33" y1="269.4" x2="96.33" y2="271" stroke="#555" stroke-width="0.5" />
<line x1="103.2" y1="269.4" x2="103.2" y2="271" stroke="#555" stroke-width="0.5" />
<line x1="110.07" y1="269.4" x2="110.07" y2="271" stroke="#555" stroke-width="0.5" />
<line x1="116.94" y1="269.4" x2="116.94" y2="271" stroke="#555" stroke-width="0.5" />
<line x1="123.81" y1="269.4" x2="123.81" y2="271" stroke="#555" stroke-width="0.5" />
<line x1="130.68" y1="269.4" x2="130.68" y2="271" stroke="#555" stroke-width="0.5" />
<line x1="137.55" y1="269.4" x2="137.55" y2="271" stroke="#555" stroke-width="0.5" />
<line x1="144.42" y1="269.4" x2="144.42" y2="271" stroke="#555" stroke-width="0.5" />
<line x1="151.29" y1="269.4" x2="151.29" y2="271" stroke="#555" stroke-width="0.5" />
<line x1="158.16" y1="269.4" x2="158.16" y2="271" stroke="#555" stroke-width="0.5" />
<line x1="165.03" y1="269.4" x2="165.03" y2="271" stroke="#555" stroke-width="0.5" />
<line x1="171.9" y1="269.4" x2="171.9" y2="271" stroke="#555" stroke-width="0.5" />
<line x1="178.77" y1="269.4" x2="178.77" y2="271" stroke="#555" stroke-width="0.5" />
<line x1="185.64" y1="269.4" x2="185.64" y2="271" stroke="#555" stroke-width="0.5" />
<line x1="192.51" y1="269.4" x2="192.51" y2="271" stroke="#555" stroke-width="0.5" />
<line x1="199.38" y1="269.4" x2="199.38" y2="271" stroke="#555" stroke-width="0.5" />
<line x1="206.25" y1="269.4" x2="206.25" y2="271" stroke="#555" stroke-width="0.5" />
<line x1="213.12" y1="269.4" x2="213.12" y2="271" stroke="#555" stroke-width="0.5" />
<line x1="219.99" y1="269.4" x2="219.99" y2="271" stroke="#555" stroke-width="0.5" />
<line x1="226.86" y1="269.4" x2="226.86" y2="271" stroke="#555" stroke-width="0.5" />
<line x1="233.73" y1="269.4" x2="233.73" y2="271" stroke="#555" stroke-width="0.5" />
<line x1="240.6" y1="269.4" x2="240.6" y2="271" stroke="#555" stroke-width="0.5" />
<line x1="247.47" y1="269.4" x2="247.47" y2="271" stroke="#555" stroke-width="0.5" />
<line x1="254.34" y1="269.4" x2="254.34" y2="271" stroke="#555" stroke-width="0.5" />
<line x1="261.21" y1="269.4" x2="261.21" y2="271" stroke="#555" stroke-width="0.5" />
<line x1="268.08" y1="269.4" x2="268.08" y2="271" stroke="#555" stroke-width="0.5" />
<line x1="274.95" y1="269.4" x2="274.95" y2="271" stroke="#555" stroke-width="0.5" />
<line x1="281.82" y1="269.4" x2="281.82" y2="271" stroke="#555" stroke-width="0.5" />
<line x1="288.69" y1="269.4" x2="288.69" y2="271" stroke="#555" stroke-width="0.5" />
<line x1="295.56" y1="269.4" x2="295.56" y2="271" stroke="#555" stroke-width="0.5" />
<line x1="302.43" y1="269.4" x2="302.43" y2="271" stroke="#555" stroke-width="0.5" />
<line x1="309.3" y1="269.4" x2="309.3" y2="271" stroke="#555" stroke-width="0.5" />
<line x1="316.17" y1="269.4" x2="316.17" y2="271" stroke="#555" stroke-width="0.5" />
<line x1="323.04" y1="269.4" x2="323.04" y2="271" stroke="#555" stroke-width="0.5" />
<line x1="329.91" y1="269.4" x2="329.91" y2="271" stroke="#555" stroke-width="0.5" />
<line x1="336.78" y1="269.4" x2="336.78" y2="271" stroke="#555" stroke-width="0.5" />
<line x1="343.65" y1="269.4" x2="343.65" y2="271" stroke="#555" stroke-width="0.5" />
<line x1="350.52" y1="269.4" x2="350.52" y2="271" stroke="#555" stroke-width="0.5" />
<line x1="357.39" y1="269.4" x2="357.39" y2="271" stroke="#555" stroke-width="0.5" />
<line x1="364.26" y1="269.4" x2="364.26" y2="271" stroke="#555" stroke-width="0.5" />
<line x1="371.13" y1="269.4" x2="371.13" y2="271" stroke="#555" stroke-width="0.5" />
<line x1="378" y1="269.4" x2="378" y2="271" stroke="#555" stroke-width="0.5" />
<line x1="384.87" y1="269.4" x2="384.87" y2="271" stroke="#555" stroke-width="0.5" />
<line x1="391.74" y1="269.4" x2="391.74" y2="271" stroke="#555" stroke-width="0.5" />
<line x1="398.61" y1="269.4" x2="398.61" y2="271" stroke="#555" stroke-width="0.5" />
<line x1="405.48" y1="269.4" x2="405.48" y2="271" stroke="#555" stroke-width="0.5" />
<line x1="412.35" y1="269.4" x2="412.35" y2="271" stroke="#555" stroke-width="0.5" />
<line x1="419.22" y1="269.4" x2="419.22" y2="271" stroke="#555" stroke-width="0.5" />
<line x1="426.09" y1="269.4" x2="426.09" y2="271" stroke="#555" stroke-width="0.5" />
<line x1="432.96" y1="269.4" x2="432.96" y2="271" stroke="#555" stroke-width="0.5" />
<line x1="439.83" y1="269.4" x2="439.83" y2="271" stroke="#555" stroke-width="0.5" />
<line x1="446.7" y1="269.4" x2="446.7" y2="271" stroke="#555" stroke-width="0.5" />
<line x1="195.8" y1="205.2" x2="320" y2="205.2" stroke="#2424dc" stroke-width="2" />
<line x1="198.3" y1="230" x2="323.1" y2="230" stroke="#2424dc" stroke-width="2" />
<line x1="310.8" y1="242.3" x2="323.1" y2="242.3" stroke="#2424dc" stroke-width="2" />
<rect x="31" y="201.5" width="420" height="69.5" fill="none" stroke="#909090" stroke-width="1.1" />
<text x="0" y="0" font-size="7.4" text-anchor="middle" font-weight="bold" fill="#111" font-family="'Liberation Serif', 'DejaVu Serif', serif" transform="translate(11 236) rotate(-90)">Protective elements</text>
<text x="0" y="0" font-size="7.4" text-anchor="middle" font-weight="bold" fill="#111" font-family="'Liberation Serif', 'DejaVu Serif', serif" transform="translate(20 236) rotate(-90)">Signal</text>
<text x="227.4" y="283.6" font-size="10.8" text-anchor="middle" font-weight="normal" fill="#111" font-family="'Liberation Serif', 'DejaVu Serif', serif" >(<tspan font-weight="bold">c</tspan>)</text>
<defs><linearGradient id="hdr" x1="0" y1="0" x2="1" y2="0"><stop offset="0" stop-color="#484848"/><stop offset="0.30" stop-color="#4e4e4e"/><stop offset="0.345" stop-color="#6a6a6a"/><stop offset="0.38" stop-color="#a0a0a0"/><stop offset="0.405" stop-color="#d0d0d0"/><stop offset="0.43" stop-color="#f2f2f2"/><stop offset="0.45" stop-color="#ffffff"/><stop offset="1" stop-color="#ffffff"/></linearGradient><linearGradient id="tb" x1="0" y1="0" x2="1" y2="0"><stop offset="0" stop-color="#0c1014"/><stop offset="0.55" stop-color="#05080a"/><stop offset="0.8" stop-color="#0e2a30"/><stop offset="1" stop-color="#101418"/></linearGradient><radialGradient id="ledg" cx="0.45" cy="0.4" r="0.6"><stop offset="0" stop-color="#50f050"/><stop offset="1" stop-color="#10c010"/></radialGradient></defs>
<rect x="8.2" y="286.2" width="440" height="247" fill="#ffffff" stroke="#c6cad0" stroke-width="1.2" />
<line x1="8.3" y1="286" x2="8.3" y2="533" stroke="#9a9a9a" stroke-width="1.3" />
<rect x="8.2" y="291.8" width="440" height="1.4" fill="#d6d6d6" stroke="none" stroke-width="1" />
<rect x="8.2" y="286" width="440" height="6" fill="url(#tb)" stroke="none" stroke-width="1" />
<rect x="9.6" y="287" width="2.8" height="4" fill="#3a7a30" stroke="none" stroke-width="1" />
<text x="14.2" y="290.8" font-size="4" text-anchor="start" font-weight="normal" fill="#6c7a90" font-family="'Liberation Sans', 'DejaVu Sans', sans-serif"  textLength="40" lengthAdjust="spacingAndGlyphs">Protective Relay Digital Simulator</text>
<rect x="410" y="288.6" width="8.5" height="3.4" fill="#8fbcbc" stroke="none" stroke-width="1" opacity="0.8"/>
<rect x="418.7" y="286.4" width="16.5" height="5.4" fill="#8c9096" stroke="none" stroke-width="1" />
<rect x="420.6" y="288.9" width="3.6" height="0.9" fill="#222" stroke="none" stroke-width="1" />
<rect x="426.6" y="287.6" width="3.4" height="2.8" fill="none" stroke="#222" stroke-width="0.6" />
<rect x="435.2" y="286.4" width="12.6" height="5.4" fill="#cf3f2e" stroke="none" stroke-width="1" />
<path d="M440 287.7 L442.6 290.4 M442.6 287.7 L440 290.4" stroke="#fff" stroke-width="0.7"/>
<path d="M10.4 311.5 L10.4 515 Q10.4 519 14.4 519 L440.5 519 Q444.5 519 444.5 515 L444.5 311.5" fill="none" stroke="#505050" stroke-width="0.9"/>
<path d="M10 311.6 L10 296 Q10 293 13 293 L441.5 293 Q444.5 293 444.5 296 L444.5 311.6 Z" fill="url(#hdr)"/>
<line x1="10" y1="311.5" x2="444.5" y2="311.5" stroke="#505050" stroke-width="0.9" />
<text x="14.5" y="305.2" font-size="8.4" text-anchor="start" font-weight="bold" fill="#ffffff" font-family="'Liberation Sans', 'DejaVu Sans', sans-serif"  textLength="170" lengthAdjust="spacingAndGlyphs">Protective Relay Digital Simulator For Railway</text>
<circle cx="275.8" cy="302.2" r="3.4" fill="none" stroke="#d42a2a" stroke-width="1.6" stroke-dasharray="1.3 1.37"/>
<circle cx="275.8" cy="302.2" r="2.6" fill="none" stroke="#d42a2a" stroke-width="1.1"/>
<circle cx="275.8" cy="302.2" r="0.9" fill="#d42a2a"/>
<text x="283" y="304" font-size="4.6" text-anchor="start" font-weight="bold" fill="#d42a2a" font-family="'Liberation Sans', 'DejaVu Sans', sans-serif"  textLength="14" lengthAdjust="spacingAndGlyphs">Setting</text>
<path d="M305 296.6 L312.4 302.1 L305 307.6 Z" fill="#d42a2a"/>
<text x="313.6" y="304" font-size="4.6" text-anchor="start" font-weight="bold" fill="#d42a2a" font-family="'Liberation Sans', 'DejaVu Sans', sans-serif"  textLength="10.1" lengthAdjust="spacingAndGlyphs">Start</text>
<rect x="337.4" y="298.5" width="8.3" height="7.2" fill="#f0b4b4" stroke="none" stroke-width="1" />
<text x="347.4" y="304" font-size="4.6" text-anchor="start" font-weight="bold" fill="#e07070" font-family="'Liberation Sans', 'DejaVu Sans', sans-serif"  textLength="9.6" lengthAdjust="spacingAndGlyphs">Stop</text>
<path d="M372.3 299.5 A3.5 3.5 0 1 0 376.3 299.5" fill="none" stroke="#d42a2a" stroke-width="1.1"/>
<line x1="374.3" y1="297.8" x2="374.3" y2="301.5" stroke="#d42a2a" stroke-width="1.1" />
<text x="380.3" y="304" font-size="4.6" text-anchor="start" font-weight="bold" fill="#d42a2a" font-family="'Liberation Sans', 'DejaVu Sans', sans-serif"  textLength="7.7" lengthAdjust="spacingAndGlyphs">Exit</text>
<path d="M13.5 321.8 L13.5 516.3 L440.6 516.3 L440.6 321.8" fill="none" stroke="#d4d4d4" stroke-width="0.8"/>
<line x1="64.3" y1="321.8" x2="440.6" y2="321.8" stroke="#d4d4d4" stroke-width="0.8" />
<rect x="14.6" y="315.4" width="23" height="6.4" fill="#dedede" stroke="#c4c4c4" stroke-width="0.5" />
<text x="26.1" y="320.2" font-size="3.9" text-anchor="middle" font-weight="bold" fill="#222" font-family="'Liberation Sans', 'DejaVu Sans', sans-serif" >Generate</text>
<path d="M37.6 322 L37.6 314.2 L64.3 314.2 L64.3 322" fill="#fff" stroke="#c4c4c4" stroke-width="0.6"/>
<text x="51" y="319.6" font-size="3.9" text-anchor="middle" font-weight="bold" fill="#222" font-family="'Liberation Sans', 'DejaVu Sans', sans-serif" >Import</text>
<line x1="41.3" y1="342.2" x2="41.3" y2="394.1" stroke="#e2e2e2" stroke-width="0.5" />
<line x1="52.52" y1="342.2" x2="52.52" y2="394.1" stroke="#e2e2e2" stroke-width="0.5" />
<line x1="63.75" y1="342.2" x2="63.75" y2="394.1" stroke="#e2e2e2" stroke-width="0.5" />
<line x1="74.97" y1="342.2" x2="74.97" y2="394.1" stroke="#e2e2e2" stroke-width="0.5" />
<line x1="86.2" y1="342.2" x2="86.2" y2="394.1" stroke="#e2e2e2" stroke-width="0.5" />
<line x1="97.42" y1="342.2" x2="97.42" y2="394.1" stroke="#e2e2e2" stroke-width="0.5" />
<line x1="108.65" y1="342.2" x2="108.65" y2="394.1" stroke="#e2e2e2" stroke-width="0.5" />
<line x1="119.88" y1="342.2" x2="119.88" y2="394.1" stroke="#e2e2e2" stroke-width="0.5" />
<line x1="131.1" y1="342.2" x2="131.1" y2="394.1" stroke="#e2e2e2" stroke-width="0.5" />
<line x1="142.32" y1="342.2" x2="142.32" y2="394.1" stroke="#e2e2e2" stroke-width="0.5" />
<line x1="153.55" y1="342.2" x2="153.55" y2="394.1" stroke="#e2e2e2" stroke-width="0.5" />
<line x1="164.77" y1="342.2" x2="164.77" y2="394.1" stroke="#e2e2e2" stroke-width="0.5" />
<line x1="176" y1="342.2" x2="176" y2="394.1" stroke="#e2e2e2" stroke-width="0.5" />
<line x1="187.23" y1="342.2" x2="187.23" y2="394.1" stroke="#e2e2e2" stroke-width="0.5" />
<line x1="198.45" y1="342.2" x2="198.45" y2="394.1" stroke="#e2e2e2" stroke-width="0.5" />
<line x1="209.68" y1="342.2" x2="209.68" y2="394.1" stroke="#e2e2e2" stroke-width="0.5" />
<line x1="220.9" y1="342.2" x2="220.9" y2="394.1" stroke="#e2e2e2" stroke-width="0.5" />
<line x1="232.12" y1="342.2" x2="232.12" y2="394.1" stroke="#e2e2e2" stroke-width="0.5" />
<line x1="243.35" y1="342.2" x2="243.35" y2="394.1" stroke="#e2e2e2" stroke-width="0.5" />
<line x1="254.57" y1="342.2" x2="254.57" y2="394.1" stroke="#e2e2e2" stroke-width="0.5" />
<line x1="265.8" y1="342.2" x2="265.8" y2="394.1" stroke="#e2e2e2" stroke-width="0.5" />
<line x1="41.3" y1="342.2" x2="265.8" y2="342.2" stroke="#e2e2e2" stroke-width="0.5" />
<text x="38.5" y="343.5" font-size="3.7" text-anchor="end" font-weight="normal" fill="#444" font-family="'Liberation Sans', 'DejaVu Sans', sans-serif" >80</text>
<line x1="40.1" y1="342.2" x2="41.3" y2="342.2" stroke="#999" stroke-width="0.4" />
<line x1="41.3" y1="348.69" x2="265.8" y2="348.69" stroke="#e2e2e2" stroke-width="0.5" />
<text x="38.5" y="349.99" font-size="3.7" text-anchor="end" font-weight="normal" fill="#444" font-family="'Liberation Sans', 'DejaVu Sans', sans-serif" >60</text>
<line x1="40.1" y1="348.69" x2="41.3" y2="348.69" stroke="#999" stroke-width="0.4" />
<line x1="41.3" y1="355.18" x2="265.8" y2="355.18" stroke="#e2e2e2" stroke-width="0.5" />
<text x="38.5" y="356.48" font-size="3.7" text-anchor="end" font-weight="normal" fill="#444" font-family="'Liberation Sans', 'DejaVu Sans', sans-serif" >40</text>
<line x1="40.1" y1="355.18" x2="41.3" y2="355.18" stroke="#999" stroke-width="0.4" />
<line x1="41.3" y1="361.66" x2="265.8" y2="361.66" stroke="#e2e2e2" stroke-width="0.5" />
<text x="38.5" y="362.96" font-size="3.7" text-anchor="end" font-weight="normal" fill="#444" font-family="'Liberation Sans', 'DejaVu Sans', sans-serif" >20</text>
<line x1="40.1" y1="361.66" x2="41.3" y2="361.66" stroke="#999" stroke-width="0.4" />
<line x1="41.3" y1="368.15" x2="265.8" y2="368.15" stroke="#e2e2e2" stroke-width="0.5" />
<text x="38.5" y="369.45" font-size="3.7" text-anchor="end" font-weight="normal" fill="#444" font-family="'Liberation Sans', 'DejaVu Sans', sans-serif" >0</text>
<line x1="40.1" y1="368.15" x2="41.3" y2="368.15" stroke="#999" stroke-width="0.4" />
<line x1="41.3" y1="374.64" x2="265.8" y2="374.64" stroke="#e2e2e2" stroke-width="0.5" />
<text x="38.5" y="375.94" font-size="3.7" text-anchor="end" font-weight="normal" fill="#444" font-family="'Liberation Sans', 'DejaVu Sans', sans-serif" >-20</text>
<line x1="40.1" y1="374.64" x2="41.3" y2="374.64" stroke="#999" stroke-width="0.4" />
<line x1="41.3" y1="381.12" x2="265.8" y2="381.12" stroke="#e2e2e2" stroke-width="0.5" />
<text x="38.5" y="382.43" font-size="3.7" text-anchor="end" font-weight="normal" fill="#444" font-family="'Liberation Sans', 'DejaVu Sans', sans-serif" >-40</text>
<line x1="40.1" y1="381.12" x2="41.3" y2="381.12" stroke="#999" stroke-width="0.4" />
<line x1="41.3" y1="387.61" x2="265.8" y2="387.61" stroke="#e2e2e2" stroke-width="0.5" />
<text x="38.5" y="388.91" font-size="3.7" text-anchor="end" font-weight="normal" fill="#444" font-family="'Liberation Sans', 'DejaVu Sans', sans-serif" >-60</text>
<line x1="40.1" y1="387.61" x2="41.3" y2="387.61" stroke="#999" stroke-width="0.4" />
<line x1="41.3" y1="394.1" x2="265.8" y2="394.1" stroke="#e2e2e2" stroke-width="0.5" />
<text x="38.5" y="395.4" font-size="3.7" text-anchor="end" font-weight="normal" fill="#444" font-family="'Liberation Sans', 'DejaVu Sans', sans-serif" >-80</text>
<line x1="40.1" y1="394.1" x2="41.3" y2="394.1" stroke="#999" stroke-width="0.4" />
<text x="270.4" y="343.5" font-size="3.7" text-anchor="start" font-weight="normal" fill="#555" font-family="'Liberation Sans', 'DejaVu Sans', sans-serif" >6</text>
<line x1="265.8" y1="342.2" x2="267" y2="342.2" stroke="#999" stroke-width="0.4" />
<text x="270.4" y="349.27" font-size="3.7" text-anchor="start" font-weight="normal" fill="#555" font-family="'Liberation Sans', 'DejaVu Sans', sans-serif" >5</text>
<line x1="265.8" y1="347.97" x2="267" y2="347.97" stroke="#999" stroke-width="0.4" />
<text x="270.4" y="355.03" font-size="3.7" text-anchor="start" font-weight="normal" fill="#555" font-family="'Liberation Sans', 'DejaVu Sans', sans-serif" >4</text>
<line x1="265.8" y1="353.73" x2="267" y2="353.73" stroke="#999" stroke-width="0.4" />
<text x="270.4" y="360.8" font-size="3.7" text-anchor="start" font-weight="normal" fill="#555" font-family="'Liberation Sans', 'DejaVu Sans', sans-serif" >3</text>
<line x1="265.8" y1="359.5" x2="267" y2="359.5" stroke="#999" stroke-width="0.4" />
<text x="270.4" y="366.57" font-size="3.7" text-anchor="start" font-weight="normal" fill="#555" font-family="'Liberation Sans', 'DejaVu Sans', sans-serif" >2</text>
<line x1="265.8" y1="365.27" x2="267" y2="365.27" stroke="#999" stroke-width="0.4" />
<text x="270.4" y="372.33" font-size="3.7" text-anchor="start" font-weight="normal" fill="#555" font-family="'Liberation Sans', 'DejaVu Sans', sans-serif" >1</text>
<line x1="265.8" y1="371.03" x2="267" y2="371.03" stroke="#999" stroke-width="0.4" />
<text x="270.4" y="378.1" font-size="3.7" text-anchor="start" font-weight="normal" fill="#555" font-family="'Liberation Sans', 'DejaVu Sans', sans-serif" >0</text>
<line x1="265.8" y1="376.8" x2="267" y2="376.8" stroke="#999" stroke-width="0.4" />
<text x="270.4" y="383.87" font-size="3.7" text-anchor="start" font-weight="normal" fill="#555" font-family="'Liberation Sans', 'DejaVu Sans', sans-serif" >-1</text>
<line x1="265.8" y1="382.57" x2="267" y2="382.57" stroke="#999" stroke-width="0.4" />
<text x="270.4" y="389.63" font-size="3.7" text-anchor="start" font-weight="normal" fill="#555" font-family="'Liberation Sans', 'DejaVu Sans', sans-serif" >-2</text>
<line x1="265.8" y1="388.33" x2="267" y2="388.33" stroke="#999" stroke-width="0.4" />
<text x="270.4" y="395.4" font-size="3.7" text-anchor="start" font-weight="normal" fill="#555" font-family="'Liberation Sans', 'DejaVu Sans', sans-serif" >-3</text>
<line x1="265.8" y1="394.1" x2="267" y2="394.1" stroke="#999" stroke-width="0.4" />
<text x="41.3" y="399.1" font-size="3.7" text-anchor="middle" font-weight="normal" fill="#555" font-family="'Liberation Sans', 'DejaVu Sans', sans-serif" >0</text>
<text x="52.52" y="399.1" font-size="3.7" text-anchor="middle" font-weight="normal" fill="#555" font-family="'Liberation Sans', 'DejaVu Sans', sans-serif" >20</text>
<text x="63.75" y="399.1" font-size="3.7" text-anchor="middle" font-weight="normal" fill="#555" font-family="'Liberation Sans', 'DejaVu Sans', sans-serif" >40</text>
<text x="74.97" y="399.1" font-size="3.7" text-anchor="middle" font-weight="normal" fill="#555" font-family="'Liberation Sans', 'DejaVu Sans', sans-serif" >60</text>
<text x="86.2" y="399.1" font-size="3.7" text-anchor="middle" font-weight="normal" fill="#555" font-family="'Liberation Sans', 'DejaVu Sans', sans-serif" >80</text>
<text x="97.42" y="399.1" font-size="3.7" text-anchor="middle" font-weight="normal" fill="#555" font-family="'Liberation Sans', 'DejaVu Sans', sans-serif" >100</text>
<text x="108.65" y="399.1" font-size="3.7" text-anchor="middle" font-weight="normal" fill="#555" font-family="'Liberation Sans', 'DejaVu Sans', sans-serif" >120</text>
<text x="119.88" y="399.1" font-size="3.7" text-anchor="middle" font-weight="normal" fill="#555" font-family="'Liberation Sans', 'DejaVu Sans', sans-serif" >140</text>
<text x="131.1" y="399.1" font-size="3.7" text-anchor="middle" font-weight="normal" fill="#555" font-family="'Liberation Sans', 'DejaVu Sans', sans-serif" >160</text>
<text x="142.32" y="399.1" font-size="3.7" text-anchor="middle" font-weight="normal" fill="#555" font-family="'Liberation Sans', 'DejaVu Sans', sans-serif" >180</text>
<text x="153.55" y="399.1" font-size="3.7" text-anchor="middle" font-weight="normal" fill="#555" font-family="'Liberation Sans', 'DejaVu Sans', sans-serif" >200</text>
<text x="164.77" y="399.1" font-size="3.7" text-anchor="middle" font-weight="normal" fill="#555" font-family="'Liberation Sans', 'DejaVu Sans', sans-serif" >220</text>
<text x="176" y="399.1" font-size="3.7" text-anchor="middle" font-weight="normal" fill="#555" font-family="'Liberation Sans', 'DejaVu Sans', sans-serif" >240</text>
<text x="187.23" y="399.1" font-size="3.7" text-anchor="middle" font-weight="normal" fill="#555" font-family="'Liberation Sans', 'DejaVu Sans', sans-serif" >260</text>
<text x="198.45" y="399.1" font-size="3.7" text-anchor="middle" font-weight="normal" fill="#555" font-family="'Liberation Sans', 'DejaVu Sans', sans-serif" >280</text>
<text x="209.68" y="399.1" font-size="3.7" text-anchor="middle" font-weight="normal" fill="#555" font-family="'Liberation Sans', 'DejaVu Sans', sans-serif" >300</text>
<text x="220.9" y="399.1" font-size="3.7" text-anchor="middle" font-weight="normal" fill="#555" font-family="'Liberation Sans', 'DejaVu Sans', sans-serif" >320</text>
<text x="232.12" y="399.1" font-size="3.7" text-anchor="middle" font-weight="normal" fill="#555" font-family="'Liberation Sans', 'DejaVu Sans', sans-serif" >340</text>
<text x="243.35" y="399.1" font-size="3.7" text-anchor="middle" font-weight="normal" fill="#555" font-family="'Liberation Sans', 'DejaVu Sans', sans-serif" >360</text>
<text x="254.57" y="399.1" font-size="3.7" text-anchor="middle" font-weight="normal" fill="#555" font-family="'Liberation Sans', 'DejaVu Sans', sans-serif" >380</text>
<text x="265.8" y="399.1" font-size="3.7" text-anchor="middle" font-weight="normal" fill="#555" font-family="'Liberation Sans', 'DejaVu Sans', sans-serif" >399.9</text>
<rect x="41.3" y="342.2" width="224.5" height="51.9" fill="none" stroke="#c8c8c8" stroke-width="0.5" />
<line x1="41.6" y1="342.2" x2="41.6" y2="394.1" stroke="#f07a7a" stroke-width="0.7" />
<path d="M41.3 376.87L41.5 377.07L41.7 377.28L41.9 377.48L42.1 377.67L42.3 377.86L42.5 378.04L42.7 378.2L42.9 378.34L43.1 378.46L43.3 378.56L43.5 378.63L43.7 378.68L43.9 378.7L44.1 378.69L44.3 378.66L44.5 378.6L44.7 378.51L44.9 378.4L45.1 378.27L45.3 378.12L45.5 377.95L45.7 377.77L45.9 377.58L46.1 377.38L46.3 377.17L46.5 376.97L46.7 376.78L46.9 376.59L47.1 376.41L47.3 376.24L47.5 376.1L47.7 375.97L47.9 375.86L48.1 375.78L48.3 375.73L48.5 375.7L48.7 375.7L48.9 375.73L49.1 375.78L49.3 375.86L49.5 375.97L49.7 376.1L49.9 376.24L50.1 376.41L50.3 376.59L50.5 376.78L50.7 376.97L50.9 377.17L51.1 377.38L51.3 377.58L51.5 377.77L51.7 377.95L51.9 378.12L52.1 378.27L52.3 378.4L52.5 378.51L52.7 378.6L52.9 378.66L53.1 378.69L53.3 378.7L53.5 378.68L53.7 378.63L53.9 378.56L54.1 378.46L54.3 378.34L54.5 378.2L54.7 378.04L54.9 377.86L55.1 377.67L55.3 377.48L55.5 377.28L55.7 377.07L55.9 376.87L56.1 376.68L56.3 376.49L56.5 376.32L56.7 376.17L56.9 376.03L57.1 375.91L57.3 375.82L57.5 375.75L57.7 375.71L57.9 375.7L58.1 375.71L58.3 375.75L58.5 375.82L58.7 375.91L58.9 376.03L59.1 376.17L59.3 376.32L59.5 376.49L59.7 376.68L59.9 376.87L60.1 377.07L60.3 377.28L60.5 377.48L60.7 377.67L60.9 377.86L61.1 378.04L61.3 378.2L61.5 378.34L61.7 378.46L61.9 378.56L62.1 378.63L62.3 378.68L62.5 378.7L62.7 378.69L62.9 378.66L63.1 378.6L63.3 378.51L63.5 378.4L63.7 378.27L63.9 378.12L64.1 377.95L64.3 377.77L64.5 377.58L64.7 377.38L64.9 377.17L65.1 376.97L65.3 376.78L65.5 376.59L65.7 376.41L65.9 376.24L66.1 376.1L66.3 375.97L66.5 375.86L66.7 375.78L66.9 375.73L67.1 375.7L67.3 375.7L67.5 375.73L67.7 375.78L67.9 375.86L68.1 375.97L68.3 376.1L68.5 376.24L68.7 376.41L68.9 376.59L69.1 376.78L69.3 376.97L69.5 377.17L69.7 377.38L69.9 377.58L70.1 377.77L70.3 377.95L70.5 378.12L70.7 378.27L70.9 378.4L71.1 378.51L71.3 378.6L71.5 378.66L71.7 378.69L71.9 378.7L72.1 378.68L72.3 378.63L72.5 378.56L72.7 378.46L72.9 378.34L73.1 378.2L73.3 378.04L73.5 377.86L73.7 377.67L73.9 377.48L74.1 377.28L74.3 377.07L74.5 376.87L74.7 376.68L74.9 376.49L75.1 376.32L75.3 376.17L75.5 376.03L75.7 375.91L75.9 375.82L76.1 375.75L76.3 375.71L76.5 375.7L76.7 375.71L76.9 375.75L77.1 375.82L77.3 375.91L77.5 376.03L77.7 376.17L77.9 376.32L78.1 376.49L78.3 376.68L78.5 376.87L78.7 377.07L78.9 377.28L79.1 377.48L79.3 377.67L79.5 377.86L79.7 378.04L79.9 378.2L80.1 378.34L80.3 378.46L80.5 378.56L80.7 378.63L80.9 378.68L81.1 378.7L81.3 378.69L81.5 378.66L81.7 378.6L81.9 378.51L82.1 378.4L82.3 378.27L82.5 378.12L82.7 377.95L82.9 377.77L83.1 377.58L83.3 377.38L83.5 377.17L83.7 376.97L83.9 376.78L84.1 376.59L84.3 376.41L84.5 376.24L84.7 376.1L84.9 375.97L85.1 375.86L85.3 375.78L85.5 375.73L85.7 375.7L85.9 375.7L86.1 375.73L86.3 375.78L86.5 375.86L86.7 375.97L86.9 376.1L87.1 376.24L87.3 376.41L87.5 376.59L87.7 376.78L87.9 376.97L88.1 377.17L88.3 377.38L88.5 377.58L88.7 377.77L88.9 377.95L89.1 378.12L89.3 378.27L89.5 378.4L89.7 378.51L89.9 378.6L90.1 378.66L90.3 378.69L90.5 378.7L90.7 378.68L90.9 378.63L91.1 378.56L91.3 378.46L91.5 378.34L91.7 378.2L91.9 378.04L92.1 377.86L92.3 377.67L92.5 377.47L92.7 377.34L92.9 377.3L93.1 377.11L93.3 376.62L93.5 375.93L93.7 375.05L93.9 374.02L94.1 372.85L94.3 371.57L94.5 370.2L94.7 368.78L94.9 367.33L95.1 365.88L95.3 364.46L95.5 363.11L95.7 361.84L95.9 360.68L96.1 359.67L96.3 358.81L96.5 358.14L96.7 357.65L96.9 357.38L97.1 357.31L97.3 357.46L97.5 357.83L97.7 358.41L97.9 359.2L98.1 360.18L98.3 361.34L98.5 362.67L98.7 364.13L98.9 365.7L99.1 367.37L99.3 369.1L99.5 370.86L99.7 372.62L99.9 374.36L100.1 376.05L100.3 377.65L100.5 379.14L100.7 380.5L100.9 381.7L101.1 382.72L101.3 383.55L101.5 384.17L101.7 384.58L101.9 384.77L102.1 384.73L102.3 384.48L102.5 384.01L102.7 383.33L102.9 382.47L103.1 381.43L103.3 380.23L103.5 378.91L103.7 377.48L103.9 375.98L104.1 374.42L104.3 372.85L104.5 371.28L104.7 369.75L104.9 368.29L105.1 366.93L105.3 365.68L105.5 364.58L105.7 363.64L105.9 362.89L106.1 362.34L106.3 361.99L106.5 361.86L106.7 361.95L106.9 362.26L107.1 362.78L107.3 363.51L107.5 364.43L107.7 365.53L107.9 366.79L108.1 368.19L108.3 369.7L108.5 371.29L108.7 372.95L108.9 374.64L109.1 376.33L109.3 377.99L109.5 379.59L109.7 381.11L109.9 382.51L110.1 383.78L110.3 384.89L110.5 385.82L110.7 386.56L110.9 387.09L111.1 387.41L111.3 387.5L111.5 387.37L111.7 387.03L111.9 386.47L112.1 385.71L112.3 384.77L112.5 383.65L112.7 382.39L112.9 381L113.1 379.51L113.3 377.95L113.5 376.34L113.7 374.72L113.9 373.11L114.1 371.55L114.3 370.06L114.5 368.67L114.7 367.4L114.9 366.29L115.1 365.34L115.3 364.57L115.5 364.01L115.7 363.66L115.9 363.53L116.1 363.61L116.3 363.92L116.5 364.44L116.7 365.17L116.9 366.08L117.1 367.18L117.3 368.43L117.5 369.81L117.7 371.31L117.9 372.89L118.1 374.53L118.3 376.19L118.5 377.85L118.7 379.47L118.9 381.04L119.1 382.52L119.3 383.88L119.5 385.1L119.7 386.16L119.9 387.04L120.1 387.72L120.3 388.2L120.5 388.46L120.7 388.5L120.9 388.32L121.1 387.92L121.3 387.31L121.5 386.5L121.7 385.51L121.9 384.36L122.1 383.05L122.3 381.63L122.5 380.11L122.7 378.52L122.9 376.89L123.1 375.25L123.3 373.64L123.5 372.07L123.7 370.57L123.9 369.18L124.1 367.92L124.3 366.82L124.5 365.88L124.7 365.13L124.9 364.59L125.1 364.25L125.3 364.14L125.5 364.25L125.7 364.57L125.9 365.11L126.1 365.86L126.3 366.79L126.5 367.9L126.7 369.16L126.9 370.55L127.1 372.05L127.3 373.63L127.5 375.26L127.7 376.91L127.9 378.56L128.1 380.17L128.3 381.71L128.5 383.16L128.7 384.5L128.9 385.69L129.1 386.71L129.3 387.55L129.5 388.2L129.7 388.64L129.9 388.85L130.1 388.85L130.3 388.63L130.5 388.19L130.7 387.55L130.9 386.71L131.1 385.68L131.3 384.49L131.5 383.16L131.7 381.72L131.9 380.18L132.1 378.58L132.3 376.94L132.5 375.3L132.7 373.68L132.9 372.11L133.1 370.62L133.3 369.25L133.5 368L133.7 366.91L133.9 366L134.1 365.28L134.3 364.76L134.5 364.45L134.7 364.37L134.9 364.5L135.1 364.86L135.3 365.42L135.5 366.19L135.7 367.15L135.9 368.28L136.1 369.55L136.3 370.96L136.5 372.47L136.7 374.05L136.9 375.69L137.1 377.34L137.3 378.98L137.5 380.57L137.7 382.1L137.9 383.53L138.1 384.84L138.3 386L138.5 387L138.7 387.81L138.9 388.42L139.1 388.82L139.3 389.01L139.5 388.97L139.7 388.71L139.9 388.24L140.1 387.56L140.3 386.69L140.5 385.63L140.7 384.42L140.9 383.07L141.1 381.61L141.3 380.05L141.5 378.44L141.7 376.8L141.9 375.16L142.1 373.54L142.3 371.98L142.5 370.51L142.7 369.15L142.9 367.92L143.1 366.86L143.3 365.97L143.5 365.28L143.7 364.79L143.9 364.51L144.1 364.46L144.3 364.62L144.5 365.01L144.7 365.6L144.9 366.4L145.1 367.38L145.3 368.53L145.5 369.83L145.7 371.25L145.9 372.77L146.1 374.36L146.3 376L146.5 377.65L146.7 379.28L146.9 380.87L147.1 382.38L147.3 383.8L147.5 385.08L147.7 386.22L147.9 387.19L148.1 387.97L148.3 388.55L148.5 388.92L148.7 389.07L148.9 389L149.1 388.7L149.3 388.2L149.5 387.49L149.7 386.59L149.9 385.51L150.1 384.27L150.3 382.9L150.5 381.42L150.7 379.86L150.9 378.24L151.1 376.59L151.3 374.95L151.5 373.34L151.7 371.79L151.9 370.33L152.1 368.99L152.3 367.79L152.5 366.75L152.7 365.89L152.9 365.22L153.1 364.76L153.3 364.52L153.5 364.5L153.7 364.7L153.9 365.11L154.1 365.74L154.3 366.56L154.5 367.57L154.7 368.74L154.9 370.06L155.1 371.5L155.3 373.03L155.5 374.63L155.7 376.27L155.9 377.92L156.1 379.55L156.3 381.12L156.5 382.62L156.7 384.02L156.9 385.29L157.1 386.4L157.3 387.34L157.5 388.09L157.7 388.64L157.9 388.97L158.1 389.09L158.3 388.98L158.5 388.66L158.7 388.12L158.9 387.38L159.1 386.45L159.3 385.35L159.5 384.09L159.7 382.7L159.9 381.21L160.1 379.63L160.3 378.01L160.5 376.36L160.7 374.72L160.9 373.12L161.1 371.58L161.3 370.14L161.5 368.81L161.7 367.63L161.9 366.62L162.1 365.79L162.3 365.15L162.5 364.72L162.7 364.52L162.9 364.53L163.1 364.76L163.3 365.21L163.5 365.86L163.7 366.71L163.9 367.75L164.1 368.94L164.3 370.28L164.5 371.73L164.7 373.28L164.9 374.88L165.1 376.53L165.3 378.17L165.5 379.8L165.7 381.36L165.9 382.85L166.1 384.23L166.3 385.47L166.5 386.56L166.7 387.47L166.9 388.19L167.1 388.71L167.3 389.01L167.5 389.09L167.7 388.96L167.9 388.6L168.1 388.03L168.3 387.26L168.5 386.3L168.7 385.17L168.9 383.9L169.1 382.49L169.3 380.98L169.5 379.4L169.7 377.76L169.9 376.12L170.1 374.48L170.3 372.89L170.5 371.36L170.7 369.94L170.9 368.63L171.1 367.48L171.3 366.49L171.5 365.68L171.7 365.08L171.9 364.68L172.1 364.51L172.3 364.55L172.5 364.82L172.7 365.3L172.9 365.98L173.1 366.86L173.3 367.92L173.5 369.14L173.7 370.49L173.9 371.96L174.1 373.52L174.3 375.13L174.5 376.78L174.7 378.42L174.9 380.04L175.1 381.6L175.3 383.07L175.5 384.43L175.7 385.65L175.9 386.71L176.1 387.6L176.3 388.29L176.5 388.77L176.7 389.04L176.9 389.09L177.1 388.92L177.3 388.53L177.5 387.93L177.7 387.13L177.9 386.15L178.1 384.99L178.3 383.69L178.5 382.27L178.7 380.75L178.9 379.16L179.1 377.52L179.3 375.87L179.5 374.24L179.7 372.65L179.9 371.14L180.1 369.73L180.3 368.45L180.5 367.32L180.7 366.36L180.9 365.58L181.1 365.01L181.3 364.65L181.5 364.5L181.7 364.58L181.9 364.88L182.1 365.39L182.3 366.1L182.5 367.01L182.7 368.09L182.9 369.33L183.1 370.71L183.3 372.19L183.5 373.76L183.7 375.38L183.9 377.03L184.1 378.67L184.3 380.28L184.5 381.82L184.7 383.28L184.9 384.62L185.1 385.82L185.3 386.86L185.5 387.71L185.7 388.37L185.9 388.83L186.1 389.06L186.3 389.08L186.5 388.88L186.7 388.45L186.9 387.82L187.1 387L187.3 385.99L187.5 384.81L187.7 383.49L187.9 382.05L188.1 380.51L188.3 378.91L188.5 377.27L188.7 375.63L188.9 374L189.1 372.42L189.3 370.93L189.5 369.53L189.7 368.27L189.9 367.16L190.1 366.23L190.3 365.48L190.5 364.94L190.7 364.61L190.9 364.5L191.1 364.61L191.3 364.94L191.5 365.48L191.7 366.23L191.9 367.16L192.1 368.27L192.3 369.53L192.5 370.93L192.7 372.42L192.9 374L193.1 375.63L193.3 377.27L193.5 378.91L193.7 380.51L193.9 382.05L194.1 383.49L194.3 384.81L194.5 385.99L194.7 387L194.9 387.82L195.1 388.46L195.3 388.88L195.5 389.08L195.7 389.06L195.9 388.83L196.1 388.37L196.3 387.71L196.5 386.86L196.7 385.82L196.9 384.62L197.1 383.28L197.3 381.82L197.5 380.28L197.7 378.67L197.9 377.03L198.1 375.38L198.3 373.76L198.5 372.19L198.7 370.71L198.9 369.34L199.1 368.1L199.3 367.01L199.5 366.1L199.7 365.39L199.9 364.88L200.1 364.58L200.3 364.5L200.5 364.65L200.7 365.01L200.9 365.58L201.1 366.36L201.3 367.32L201.5 368.45L201.7 369.73L201.9 371.14L202.1 372.66L202.3 374.24L202.5 375.87L202.7 377.52L202.9 379.16L203.1 380.75L203.3 382.27L203.5 383.7L203.7 385L203.9 386.15L204.1 387.13L204.3 387.93L204.5 388.53L204.7 388.92L204.9 389.09L205.1 389.04L205.3 388.77L205.5 388.29L205.7 387.6L205.9 386.71L206.1 385.65L206.3 384.43L206.5 383.07L206.7 381.6L206.9 380.04L207.1 378.42L207.3 376.78L207.5 375.13L207.7 373.52L207.9 371.96L208.1 370.5L208.3 369.14L208.5 367.92L208.7 366.86L208.9 365.98L209.1 365.3L209.3 364.82L209.5 364.55L209.7 364.51L209.9 364.69L210.1 365.08L210.3 365.69L210.5 366.49L210.7 367.48L210.9 368.64L211.1 369.94L211.3 371.37L211.5 372.89L211.7 374.48L211.9 376.12L212.1 377.77L212.3 379.4L212.5 380.98L212.7 382.49L212.9 383.9L213.1 385.18L213.3 386.31L213.5 387.27L213.7 388.04L213.9 388.6L214.1 388.96L214.3 389.1L214.5 389.02L214.7 388.71L214.9 388.2L215.1 387.48L215.3 386.56L215.5 385.48L215.7 384.23L215.9 382.85L216.1 381.37L216.3 379.8L216.5 378.18L216.7 376.53L216.9 374.89L217.1 373.28L217.3 371.74L217.5 370.28L217.7 368.95L217.9 367.75L218.1 366.72L218.3 365.87L218.5 365.21L218.7 364.76L218.9 364.53L219.1 364.52L219.3 364.73L219.5 365.16L219.7 365.79L219.9 366.63L220.1 367.64L220.3 368.82L220.5 370.15L220.7 371.59L220.9 373.12L221.1 374.73L221.3 376.37L221.5 378.01L221.7 379.64L221.9 381.21L222.1 382.71L222.3 384.1L222.5 385.36L222.7 386.46L222.9 387.39L223.1 388.13L223.3 388.67L223.5 388.99L223.7 389.1L223.9 388.98L224.1 388.65L224.3 388.1L224.5 387.35L224.7 386.41L224.9 385.3L225.1 384.03L225.3 382.64L225.5 381.14L225.7 379.56L225.9 377.93L226.1 376.28L226.3 374.65L226.5 373.05L226.7 371.51L226.9 370.08L227.1 368.76L227.3 367.59L227.5 366.58L227.7 365.76L227.9 365.13L228.1 364.72L228.3 364.52L228.5 364.54L228.7 364.78L228.9 365.24L229.1 365.91L229.3 366.77L229.5 367.81L229.7 369.01L229.9 370.35L230.1 371.81L230.3 373.36L230.5 374.97L230.7 376.61L230.9 378.26L231.1 379.88L231.3 381.45L231.5 382.93L231.7 384.3L231.9 385.53L232.1 386.61L232.3 387.52L232.5 388.23L232.7 388.73L232.9 389.02L233.1 389.1L233.3 388.95L233.5 388.58L233.7 388L233.9 387.22L234.1 386.25L234.3 385.12L234.5 383.83L234.7 382.42L234.9 380.91L235.1 379.32L235.3 377.69L235.5 376.04L235.7 374.4L235.9 372.81L236.1 371.29L236.3 369.87L236.5 368.57L236.7 367.42L236.9 366.44L237.1 365.65L237.3 365.06L237.5 364.67L237.7 364.51L237.9 364.56L238.1 364.84L238.3 365.33L238.5 366.02L238.7 366.91L238.9 367.98L239.1 369.2L239.3 370.57L239.5 372.04L239.7 373.6L239.9 375.22L240.1 376.86L240.3 378.51L240.5 380.12L240.7 381.67L240.9 383.14L241.1 384.49L241.3 385.71L241.5 386.76L241.7 387.64L241.9 388.32L242.1 388.79L242.3 389.05L242.5 389.09L242.7 388.91L242.9 388.51L243.1 387.9L243.3 387.09L243.5 386.09L243.7 384.93L243.9 383.63L244.1 382.2L244.3 380.67L244.5 379.08L244.7 377.44L244.9 375.79L245.1 374.16L245.3 372.58L245.5 371.07L245.7 369.67L245.9 368.39L246.1 367.27L246.3 366.31L246.5 365.55L246.7 364.98L246.9 364.63L247.1 364.5L247.3 364.59L247.5 364.9L247.7 365.42L247.9 366.14L248.1 367.06L248.3 368.15L248.5 369.4L248.7 370.78L248.9 372.27L249.1 373.84L249.3 375.46L249.5 377.11L249.7 378.75L249.9 380.36L250.1 381.9L250.3 383.35L250.5 384.68L250.7 385.88L250.9 386.9L251.1 387.75L251.3 388.4L251.5 388.84L251.7 389.07L251.9 389.08L252.1 388.86L252.3 388.43L252.5 387.79L252.7 386.95L252.9 385.93L253.1 384.75L253.3 383.42L253.5 381.97L253.7 380.44L253.9 378.83L254.1 377.19L254.3 375.54L254.5 373.92L254.7 372.35L254.9 370.85L255.1 369.47L255.3 368.21L255.5 367.11L255.7 366.19L255.9 365.45L256.1 364.92L256.3 364.6L256.5 364.5L256.7 364.62L256.9 364.96L257.1 365.51L257.3 366.27L257.5 367.21L257.7 368.33L257.9 369.6L258.1 371L258.3 372.5L258.5 374.08L258.7 375.71L258.9 377.36L259.1 378.99L259.3 380.59L259.5 382.12L259.7 383.56L259.9 384.87L260.1 386.04L260.3 387.04L260.5 387.86L260.7 388.48L260.9 388.89L261.1 389.08L261.3 389.06L261.5 388.81L261.7 388.35L261.9 387.67L262.1 386.81L262.3 385.76L262.5 384.56L262.7 383.21L262.9 381.75L263.1 380.2L263.3 378.59L263.5 376.94L263.7 375.3L263.9 373.68L264.1 372.12L264.3 370.64L264.5 369.27L264.7 368.04L264.9 366.96L265.1 366.06L265.3 365.36L265.5 364.86L265.7 364.57" fill="none" stroke="#ee4c4c" stroke-width="1.05" stroke-linejoin="round"/>
<path d="M41.3 368L41.5 368L41.7 369.69L41.9 373.03L42.1 376.29L42.3 379.39L42.5 382.28L42.7 384.92L42.9 387.24L43.1 389.22L43.3 390.8L43.5 391.98L43.7 392.71L43.9 393L44.1 392.83L44.3 392.2L44.5 391.14L44.7 389.65L44.9 387.77L45.1 385.53L45.3 382.97L45.5 380.13L45.7 377.08L45.9 373.86L46.1 370.53L46.3 367.16L46.5 363.8L46.7 360.52L46.9 357.37L47.1 354.42L47.3 351.72L47.5 349.31L47.7 347.24L47.9 345.55L48.1 344.28L48.3 343.43L48.5 343.03L48.7 343.09L48.9 343.6L49.1 344.56L49.3 345.94L49.5 347.73L49.7 349.88L49.9 352.37L50.1 355.14L50.3 358.14L50.5 361.33L50.7 364.63L50.9 368L51.1 371.37L51.3 374.67L51.5 377.86L51.7 380.86L51.9 383.63L52.1 386.12L52.3 388.27L52.5 390.06L52.7 391.44L52.9 392.4L53.1 392.91L53.3 392.97L53.5 392.57L53.7 391.72L53.9 390.45L54.1 388.76L54.3 386.69L54.5 384.28L54.7 381.58L54.9 378.63L55.1 375.48L55.3 372.2L55.5 368.84L55.7 365.47L55.9 362.14L56.1 358.92L56.3 355.87L56.5 353.03L56.7 350.47L56.9 348.23L57.1 346.35L57.3 344.86L57.5 343.8L57.7 343.17L57.9 343L58.1 343.29L58.3 344.02L58.5 345.2L58.7 346.78L58.9 348.76L59.1 351.08L59.3 353.72L59.5 356.61L59.7 359.71L59.9 362.97L60.1 366.31L60.3 369.69L60.5 373.03L60.7 376.29L60.9 379.39L61.1 382.28L61.3 384.92L61.5 387.24L61.7 389.22L61.9 390.8L62.1 391.98L62.3 392.71L62.5 393L62.7 392.83L62.9 392.2L63.1 391.14L63.3 389.65L63.5 387.77L63.7 385.53L63.9 382.97L64.1 380.13L64.3 377.08L64.5 373.86L64.7 370.53L64.9 367.16L65.1 363.8L65.3 360.52L65.5 357.37L65.7 354.42L65.9 351.72L66.1 349.31L66.3 347.24L66.5 345.55L66.7 344.28L66.9 343.43L67.1 343.03L67.3 343.09L67.5 343.6L67.7 344.56L67.9 345.94L68.1 347.73L68.3 349.88L68.5 352.37L68.7 355.14L68.9 358.14L69.1 361.33L69.3 364.63L69.5 368L69.7 371.37L69.9 374.67L70.1 377.86L70.3 380.86L70.5 383.63L70.7 386.12L70.9 388.27L71.1 390.06L71.3 391.44L71.5 392.4L71.7 392.91L71.9 392.97L72.1 392.57L72.3 391.72L72.5 390.45L72.7 388.76L72.9 386.69L73.1 384.28L73.3 381.58L73.5 378.63L73.7 375.48L73.9 372.2L74.1 368.84L74.3 365.47L74.5 362.14L74.7 358.92L74.9 355.87L75.1 353.03L75.3 350.47L75.5 348.23L75.7 346.35L75.9 344.86L76.1 343.8L76.3 343.17L76.5 343L76.7 343.29L76.9 344.02L77.1 345.2L77.3 346.78L77.5 348.76L77.7 351.08L77.9 353.72L78.1 356.61L78.3 359.71L78.5 362.97L78.7 366.31L78.9 369.69L79.1 373.03L79.3 376.29L79.5 379.39L79.7 382.28L79.9 384.92L80.1 387.24L80.3 389.22L80.5 390.8L80.7 391.98L80.9 392.71L81.1 393L81.3 392.83L81.5 392.2L81.7 391.14L81.9 389.65L82.1 387.77L82.3 385.53L82.5 382.97L82.7 380.13L82.9 377.08L83.1 373.86L83.3 370.53L83.5 367.16L83.7 363.8L83.9 360.52L84.1 357.37L84.3 354.42L84.5 351.72L84.7 349.31L84.9 347.24L85.1 345.55L85.3 344.28L85.5 343.43L85.7 343.03L85.9 343.09L86.1 343.6L86.3 344.56L86.5 345.94L86.7 347.73L86.9 349.88L87.1 352.37L87.3 355.14L87.5 358.14L87.7 361.33L87.9 364.63L88.1 368L88.3 371.37L88.5 374.67L88.7 377.86L88.9 380.86L89.1 383.63L89.3 386.12L89.5 388.27L89.7 390.06L89.9 391.44L90.1 392.4L90.3 392.91L90.5 392.97L90.7 393.17L90.9 392.89L91.1 392.34L91.3 391.53L91.5 390.48L91.7 389.18L91.9 387.68L92.1 385.99L92.3 384.13L92.5 382.14L92.7 380.05L92.9 377.89L93.1 375.7L93.3 373.51L93.5 371.35L93.7 369.26L93.9 367.27L94.1 365.41L94.3 363.72L94.5 362.22L94.7 360.92L94.9 359.87L95.1 359.06L95.3 358.51L95.5 358.23L95.7 358.18L95.9 358.37L96.1 358.74L96.3 359.27L96.5 359.97L96.7 360.81L96.9 361.78L97.1 362.86L97.3 364.04L97.5 365.29L97.7 366.59L97.9 367.92L98.1 369.25L98.3 370.55L98.5 371.82L98.7 373.01L98.9 374.12L99.1 375.12L99.3 375.99L99.5 376.72L99.7 377.3L99.9 377.71L100.1 377.96L100.3 378.02L100.5 377.92L100.7 377.63L100.9 377.18L101.1 376.57L101.3 375.81L101.5 374.91L101.7 373.9L101.9 372.78L102.1 371.58L102.3 370.33L102.5 369.03L102.7 367.73L102.9 366.43L103.1 365.17L103.3 363.96L103.5 362.83L103.7 361.8L103.9 360.88L104.1 360.1L104.3 359.46L104.5 358.98L104.7 358.67L104.9 358.52L105.1 358.55L105.3 358.76L105.5 359.13L105.7 359.67L105.9 360.35L106.1 361.18L106.3 362.14L106.5 363.2L106.7 364.35L106.9 365.57L107.1 366.83L107.3 368.12L107.5 369.41L107.7 370.67L107.9 371.89L108.1 373.05L108.3 374.11L108.5 375.07L108.7 375.91L108.9 376.6L109.1 377.15L109.3 377.53L109.5 377.75L109.7 377.79L109.9 377.66L110.1 377.37L110.3 376.91L110.5 376.29L110.7 375.52L110.9 374.63L111.1 373.62L111.3 372.52L111.5 371.33L111.7 370.1L111.9 368.83L112.1 367.54L112.3 366.27L112.5 365.04L112.7 363.86L112.9 362.76L113.1 361.76L113.3 360.88L113.5 360.13L113.7 359.52L113.9 359.07L114.1 358.78L114.3 358.66L114.5 358.71L114.7 358.94L114.9 359.33L115.1 359.88L115.3 360.57L115.5 361.41L115.7 362.37L115.9 363.43L116.1 364.57L116.3 365.78L116.5 367.04L116.7 368.31L116.9 369.58L117.1 370.83L117.3 372.03L117.5 373.16L117.7 374.2L117.9 375.13L118.1 375.94L118.3 376.61L118.5 377.13L118.7 377.48L118.9 377.67L119.1 377.7L119.3 377.54L119.5 377.23L119.7 376.75L119.9 376.11L120.1 375.34L120.3 374.43L120.5 373.42L120.7 372.31L120.9 371.13L121.1 369.89L121.3 368.63L121.5 367.36L121.7 366.1L121.9 364.88L122.1 363.72L122.3 362.64L122.5 361.67L122.7 360.8L122.9 360.08L123.1 359.49L123.3 359.07L123.5 358.81L123.7 358.71L123.9 358.79L124.1 359.04L124.3 359.45L124.5 360.02L124.7 360.73L124.9 361.58L125.1 362.55L125.3 363.62L125.5 364.77L125.7 365.98L125.9 367.23L126.1 368.5L126.3 369.77L126.5 371L126.7 372.19L126.9 373.3L127.1 374.32L127.3 375.23L127.5 376.02L127.7 376.66L127.9 377.16L128.1 377.49L128.3 377.65L128.5 377.65L128.7 377.47L128.9 377.13L129.1 376.63L129.3 375.98L129.5 375.19L129.7 374.27L129.9 373.24L130.1 372.13L130.3 370.94L130.5 369.7L130.7 368.44L130.9 367.17L131.1 365.92L131.3 364.71L131.5 363.57L131.7 362.51L131.9 361.55L132.1 360.71L132.3 360L132.5 359.44L132.7 359.04L132.9 358.8L133.1 358.74L133.3 358.84L133.5 359.11L133.7 359.54L133.9 360.13L134.1 360.87L134.3 361.73L134.5 362.71L134.7 363.79L134.9 364.95L135.1 366.17L135.3 367.42L135.5 368.69L135.7 369.95L135.9 371.18L136.1 372.35L136.3 373.45L136.5 374.46L136.7 375.35L136.9 376.11L137.1 376.73L137.3 377.2L137.5 377.51L137.7 377.65L137.9 377.62L138.1 377.42L138.3 377.06L138.5 376.53L138.7 375.86L138.9 375.05L139.1 374.11L139.3 373.07L139.5 371.95L139.7 370.75L139.9 369.51L140.1 368.25L140.3 366.98L140.5 365.74L140.7 364.54L140.9 363.41L141.1 362.36L141.3 361.42L141.5 360.6L141.7 359.91L141.9 359.38L142.1 359L142.3 358.79L142.5 358.75L142.7 358.88L142.9 359.17L143.1 359.63L143.3 360.24L143.5 360.99L143.7 361.88L143.9 362.87L144.1 363.97L144.3 365.13L144.5 366.36L144.7 367.61L144.9 368.88L145.1 370.14L145.3 371.36L145.5 372.52L145.7 373.6L145.9 374.59L146.1 375.47L146.3 376.21L146.5 376.81L146.7 377.25L146.9 377.54L147.1 377.65L147.3 377.6L147.5 377.37L147.7 376.98L147.9 376.44L148.1 375.74L148.3 374.91L148.5 373.96L148.7 372.91L148.9 371.77L149.1 370.57L149.3 369.32L149.5 368.06L149.7 366.79L149.9 365.56L150.1 364.37L150.3 363.25L150.5 362.21L150.7 361.29L150.9 360.49L151.1 359.83L151.3 359.32L151.5 358.96L151.7 358.78L151.9 358.76L152.1 358.91L152.3 359.23L152.5 359.71L152.7 360.35L152.9 361.12L153.1 362.02L153.3 363.03L153.5 364.14L153.7 365.32L153.9 366.54L154.1 367.8L154.3 369.07L154.5 370.32L154.7 371.53L154.9 372.69L155.1 373.76L155.3 374.73L155.5 375.59L155.7 376.31L155.9 376.88L156.1 377.31L156.3 377.56L156.5 377.65L156.7 377.57L156.9 377.32L157.1 376.91L157.3 376.34L157.5 375.62L157.7 374.78L157.9 373.81L158.1 372.74L158.3 371.59L158.5 370.38L158.7 369.13L158.9 367.87L159.1 366.61L159.3 365.38L159.5 364.2L159.7 363.09L159.9 362.07L160.1 361.16L160.3 360.38L160.5 359.74L160.7 359.25L160.9 358.93L161.1 358.77L161.3 358.77L161.5 358.95L161.7 359.3L161.9 359.8L162.1 360.45L162.3 361.25L162.5 362.17L162.7 363.19L162.9 364.31L163.1 365.5L163.3 366.73L163.5 367.99L163.7 369.26L163.9 370.51L164.1 371.71L164.3 372.85L164.5 373.91L164.7 374.87L164.9 375.7L165.1 376.4L165.3 376.96L165.5 377.35L165.7 377.59L165.9 377.65L166.1 377.54L166.3 377.27L166.5 376.83L166.7 376.24L166.9 375.5L167.1 374.64L167.3 373.65L167.5 372.57L167.7 371.41L167.9 370.2L168.1 368.94L168.3 367.68L168.5 366.42L168.7 365.2L168.9 364.02L169.1 362.93L169.3 361.93L169.5 361.04L169.7 360.28L169.9 359.66L170.1 359.2L170.3 358.89L170.5 358.76L170.7 358.79L170.9 358.99L171.1 359.36L171.3 359.89L171.5 360.57L171.7 361.38L171.9 362.31L172.1 363.36L172.3 364.48L172.5 365.68L172.7 366.92L172.9 368.18L173.1 369.45L173.3 370.69L173.5 371.89L173.7 373.02L173.9 374.06L174.1 375L174.3 375.82L174.5 376.5L174.7 377.03L174.9 377.4L175.1 377.61L175.3 377.64L175.5 377.51L175.7 377.21L175.9 376.75L176.1 376.14L176.3 375.38L176.5 374.5L176.7 373.5L176.9 372.4L177.1 371.23L177.3 370.01L177.5 368.75L177.7 367.49L177.9 366.23L178.1 365.02L178.3 363.85L178.5 362.77L178.7 361.79L178.9 360.92L179.1 360.18L179.3 359.58L179.5 359.14L179.7 358.86L179.9 358.75L180.1 358.81L180.3 359.04L180.5 359.43L180.7 359.98L180.9 360.68L181.1 361.51L181.3 362.46L181.5 363.52L181.7 364.66L181.9 365.86L182.1 367.11L182.3 368.37L182.5 369.64L182.7 370.87L182.9 372.06L183.1 373.18L183.3 374.21L183.5 375.13L183.7 375.93L183.9 376.58L184.1 377.09L184.3 377.44L184.5 377.62L184.7 377.63L184.9 377.48L185.1 377.15L185.3 376.67L185.5 376.03L185.7 375.26L185.9 374.35L186.1 373.34L186.3 372.23L186.5 371.05L186.7 369.82L186.9 368.56L187.1 367.3L187.3 366.05L187.5 364.84L187.7 363.69L187.9 362.62L188.1 361.65L188.3 360.8L188.5 360.08L188.7 359.5L188.9 359.09L189.1 358.83L189.3 358.75L189.5 358.83L189.7 359.09L189.9 359.5L190.1 360.08L190.3 360.8L190.5 361.65L190.7 362.62L190.9 363.69L191.1 364.84L191.3 366.05L191.5 367.3L191.7 368.56L191.9 369.82L192.1 371.05L192.3 372.23L192.5 373.34L192.7 374.35L192.9 375.26L193.1 376.03L193.3 376.67L193.5 377.15L193.7 377.48L193.9 377.63L194.1 377.62L194.3 377.44L194.5 377.09L194.7 376.58L194.9 375.93L195.1 375.13L195.3 374.21L195.5 373.18L195.7 372.06L195.9 370.87L196.1 369.64L196.3 368.37L196.5 367.11L196.7 365.86L196.9 364.66L197.1 363.52L197.3 362.47L197.5 361.51L197.7 360.68L197.9 359.98L198.1 359.43L198.3 359.04L198.5 358.81L198.7 358.75L198.9 358.86L199.1 359.14L199.3 359.58L199.5 360.18L199.7 360.92L199.9 361.79L200.1 362.77L200.3 363.85L200.5 365.02L200.7 366.23L200.9 367.49L201.1 368.75L201.3 370.01L201.5 371.23L201.7 372.4L201.9 373.5L202.1 374.5L202.3 375.38L202.5 376.14L202.7 376.75L202.9 377.21L203.1 377.51L203.3 377.64L203.5 377.61L203.7 377.4L203.9 377.03L204.1 376.5L204.3 375.82L204.5 375L204.7 374.06L204.9 373.02L205.1 371.89L205.3 370.69L205.5 369.45L205.7 368.18L205.9 366.92L206.1 365.68L206.3 364.49L206.5 363.36L206.7 362.32L206.9 361.38L207.1 360.57L207.3 359.89L207.5 359.36L207.7 358.99L207.9 358.79L208.1 358.76L208.3 358.89L208.5 359.2L208.7 359.66L208.9 360.28L209.1 361.04L209.3 361.93L209.5 362.93L209.7 364.02L209.9 365.2L210.1 366.42L210.3 367.68L210.5 368.94L210.7 370.2L210.9 371.41L211.1 372.57L211.3 373.65L211.5 374.64L211.7 375.5L211.9 376.24L212.1 376.83L212.3 377.27L212.5 377.54L212.7 377.65L212.9 377.59L213.1 377.35L213.3 376.96L213.5 376.4L213.7 375.7L213.9 374.87L214.1 373.91L214.3 372.85L214.5 371.71L214.7 370.51L214.9 369.26L215.1 367.99L215.3 366.73L215.5 365.5L215.7 364.31L215.9 363.19L216.1 362.17L216.3 361.25L216.5 360.46L216.7 359.8L216.9 359.3L217.1 358.95L217.3 358.78L217.5 358.77L217.7 358.93L217.9 359.26L218.1 359.74L218.3 360.38L218.5 361.16L218.7 362.07L218.9 363.09L219.1 364.2L219.3 365.38L219.5 366.61L219.7 367.87L219.9 369.13L220.1 370.38L220.3 371.59L220.5 372.74L220.7 373.81L220.9 374.77L221.1 375.62L221.3 376.34L221.5 376.91L221.7 377.32L221.9 377.57L222.1 377.65L222.3 377.56L222.5 377.3L222.7 376.88L222.9 376.31L223.1 375.58L223.3 374.73L223.5 373.76L223.7 372.69L223.9 371.53L224.1 370.32L224.3 369.07L224.5 367.8L224.7 366.55L224.9 365.32L225.1 364.14L225.3 363.03L225.5 362.02L225.7 361.12L225.9 360.35L226.1 359.72L226.3 359.24L226.5 358.92L226.7 358.76L226.9 358.78L227.1 358.97L227.3 359.32L227.5 359.83L227.7 360.49L227.9 361.29L228.1 362.22L228.3 363.25L228.5 364.37L228.7 365.56L228.9 366.8L229.1 368.06L229.3 369.32L229.5 370.57L229.7 371.77L229.9 372.91L230.1 373.96L230.3 374.91L230.5 375.74L230.7 376.43L230.9 376.98L231.1 377.37L231.3 377.59L231.5 377.65L231.7 377.53L231.9 377.25L232.1 376.81L232.3 376.21L232.5 375.46L232.7 374.59L232.9 373.6L233.1 372.52L233.3 371.35L233.5 370.13L233.7 368.88L233.9 367.61L234.1 366.36L234.3 365.14L234.5 363.97L234.7 362.88L234.9 361.88L235.1 361L235.3 360.24L235.5 359.63L235.7 359.18L235.9 358.88L236.1 358.76L236.3 358.8L236.5 359.01L236.7 359.39L236.9 359.92L237.1 360.6L237.3 361.42L237.5 362.36L237.7 363.41L237.9 364.54L238.1 365.74L238.3 366.98L238.5 368.25L238.7 369.51L238.9 370.75L239.1 371.94L239.3 373.07L239.5 374.11L239.7 375.04L239.9 375.85L240.1 376.53L240.3 377.05L240.5 377.41L240.7 377.61L240.9 377.64L241.1 377.5L241.3 377.19L241.5 376.73L241.7 376.1L241.9 375.34L242.1 374.45L242.3 373.45L242.5 372.35L242.7 371.17L242.9 369.95L243.1 368.69L243.3 367.42L243.5 366.17L243.7 364.96L243.9 363.8L244.1 362.72L244.3 361.74L244.5 360.88L244.7 360.14L244.9 359.56L245.1 359.12L245.3 358.85L245.5 358.75L245.7 358.82L245.9 359.06L246.1 359.46L246.3 360.01L246.5 360.72L246.7 361.56L246.9 362.52L247.1 363.58L247.3 364.72L247.5 365.93L247.7 367.17L247.9 368.44L248.1 369.7L248.3 370.93L248.5 372.12L248.7 373.23L248.9 374.26L249.1 375.17L249.3 375.96L249.5 376.61L249.7 377.11L249.9 377.45L250.1 377.63L250.3 377.63L250.5 377.47L250.7 377.13L250.9 376.64L251.1 376L251.3 375.21L251.5 374.31L251.7 373.29L251.9 372.18L252.1 370.99L252.3 369.76L252.5 368.5L252.7 367.24L252.9 365.99L253.1 364.78L253.3 363.63L253.5 362.57L253.7 361.6L253.9 360.76L254.1 360.05L254.3 359.48L254.5 359.07L254.7 358.83L254.9 358.75L255.1 358.84L255.3 359.1L255.5 359.53L255.7 360.11L255.9 360.84L256.1 361.69L256.3 362.67L256.5 363.74L256.7 364.9L256.9 366.11L257.1 367.36L257.3 368.63L257.5 369.89L257.7 371.11L257.9 372.29L258.1 373.39L258.3 374.4L258.5 375.3L258.7 376.07L258.9 376.7L259.1 377.17L259.3 377.49L259.5 377.64L259.7 377.62L259.9 377.43L260.1 377.07L260.3 376.56L260.5 375.89L260.7 375.09L260.9 374.16L261.1 373.12L261.3 372L261.5 370.81L261.7 369.57L261.9 368.31L262.1 367.05L262.3 365.8L262.5 364.6L262.7 363.47L262.9 362.41L263.1 361.47L263.3 360.64L263.5 359.95L263.7 359.41L263.9 359.02L264.1 358.8L264.3 358.75L264.5 358.87L264.7 359.16L264.9 359.61L265.1 360.21L265.3 360.96L265.5 361.83L265.7 362.82" fill="none" stroke="#3f7ae8" stroke-width="1.15" stroke-linejoin="round"/>
<text x="0" y="0" font-size="3.9" text-anchor="middle" font-weight="normal" fill="#444" font-family="'Liberation Sans', 'DejaVu Sans', sans-serif" transform="translate(31.4 364.4) rotate(-90)">Voltage [V]</text>
<text x="0" y="0" font-size="4.2" text-anchor="middle" font-weight="normal" fill="#444" font-family="'Liberation Sans', 'DejaVu Sans', sans-serif" transform="translate(275.6 368.15) rotate(90)" textLength="18.5" lengthAdjust="spacingAndGlyphs">Current [kA]</text>
<text x="153.55" y="404.6" font-size="3.7" text-anchor="middle" font-weight="normal" fill="#555" font-family="'Liberation Sans', 'DejaVu Sans', sans-serif" >Time [ms]</text>
<line x1="39" y1="428.5" x2="39" y2="493.7" stroke="#e2e2e2" stroke-width="0.5" />
<line x1="50.3" y1="428.5" x2="50.3" y2="493.7" stroke="#e2e2e2" stroke-width="0.5" />
<line x1="61.6" y1="428.5" x2="61.6" y2="493.7" stroke="#e2e2e2" stroke-width="0.5" />
<line x1="72.9" y1="428.5" x2="72.9" y2="493.7" stroke="#e2e2e2" stroke-width="0.5" />
<line x1="84.2" y1="428.5" x2="84.2" y2="493.7" stroke="#e2e2e2" stroke-width="0.5" />
<line x1="95.5" y1="428.5" x2="95.5" y2="493.7" stroke="#e2e2e2" stroke-width="0.5" />
<line x1="106.8" y1="428.5" x2="106.8" y2="493.7" stroke="#e2e2e2" stroke-width="0.5" />
<line x1="118.1" y1="428.5" x2="118.1" y2="493.7" stroke="#e2e2e2" stroke-width="0.5" />
<line x1="129.4" y1="428.5" x2="129.4" y2="493.7" stroke="#e2e2e2" stroke-width="0.5" />
<line x1="140.7" y1="428.5" x2="140.7" y2="493.7" stroke="#e2e2e2" stroke-width="0.5" />
<line x1="152" y1="428.5" x2="152" y2="493.7" stroke="#e2e2e2" stroke-width="0.5" />
<line x1="163.3" y1="428.5" x2="163.3" y2="493.7" stroke="#e2e2e2" stroke-width="0.5" />
<line x1="174.6" y1="428.5" x2="174.6" y2="493.7" stroke="#e2e2e2" stroke-width="0.5" />
<line x1="185.9" y1="428.5" x2="185.9" y2="493.7" stroke="#e2e2e2" stroke-width="0.5" />
<line x1="197.2" y1="428.5" x2="197.2" y2="493.7" stroke="#e2e2e2" stroke-width="0.5" />
<line x1="208.5" y1="428.5" x2="208.5" y2="493.7" stroke="#e2e2e2" stroke-width="0.5" />
<line x1="219.8" y1="428.5" x2="219.8" y2="493.7" stroke="#e2e2e2" stroke-width="0.5" />
<line x1="231.1" y1="428.5" x2="231.1" y2="493.7" stroke="#e2e2e2" stroke-width="0.5" />
<line x1="242.4" y1="428.5" x2="242.4" y2="493.7" stroke="#e2e2e2" stroke-width="0.5" />
<line x1="253.7" y1="428.5" x2="253.7" y2="493.7" stroke="#e2e2e2" stroke-width="0.5" />
<line x1="265" y1="428.5" x2="265" y2="493.7" stroke="#e2e2e2" stroke-width="0.5" />
<line x1="39" y1="428.5" x2="265" y2="428.5" stroke="#e2e2e2" stroke-width="0.5" />
<text x="37.4" y="429.8" font-size="3.7" text-anchor="end" font-weight="normal" fill="#444" font-family="'Liberation Sans', 'DejaVu Sans', sans-serif" >80</text>
<line x1="37.8" y1="428.5" x2="39" y2="428.5" stroke="#999" stroke-width="0.4" />
<line x1="39" y1="436.65" x2="265" y2="436.65" stroke="#e2e2e2" stroke-width="0.5" />
<text x="37.4" y="437.95" font-size="3.7" text-anchor="end" font-weight="normal" fill="#444" font-family="'Liberation Sans', 'DejaVu Sans', sans-serif" >60</text>
<line x1="37.8" y1="436.65" x2="39" y2="436.65" stroke="#999" stroke-width="0.4" />
<line x1="39" y1="444.8" x2="265" y2="444.8" stroke="#e2e2e2" stroke-width="0.5" />
<text x="37.4" y="446.1" font-size="3.7" text-anchor="end" font-weight="normal" fill="#444" font-family="'Liberation Sans', 'DejaVu Sans', sans-serif" >40</text>
<line x1="37.8" y1="444.8" x2="39" y2="444.8" stroke="#999" stroke-width="0.4" />
<line x1="39" y1="452.95" x2="265" y2="452.95" stroke="#e2e2e2" stroke-width="0.5" />
<text x="37.4" y="454.25" font-size="3.7" text-anchor="end" font-weight="normal" fill="#444" font-family="'Liberation Sans', 'DejaVu Sans', sans-serif" >20</text>
<line x1="37.8" y1="452.95" x2="39" y2="452.95" stroke="#999" stroke-width="0.4" />
<line x1="39" y1="461.1" x2="265" y2="461.1" stroke="#e2e2e2" stroke-width="0.5" />
<text x="37.4" y="462.4" font-size="3.7" text-anchor="end" font-weight="normal" fill="#444" font-family="'Liberation Sans', 'DejaVu Sans', sans-serif" >0</text>
<line x1="37.8" y1="461.1" x2="39" y2="461.1" stroke="#999" stroke-width="0.4" />
<line x1="39" y1="469.25" x2="265" y2="469.25" stroke="#e2e2e2" stroke-width="0.5" />
<text x="37.4" y="470.55" font-size="3.7" text-anchor="end" font-weight="normal" fill="#444" font-family="'Liberation Sans', 'DejaVu Sans', sans-serif" >-20</text>
<line x1="37.8" y1="469.25" x2="39" y2="469.25" stroke="#999" stroke-width="0.4" />
<line x1="39" y1="477.4" x2="265" y2="477.4" stroke="#e2e2e2" stroke-width="0.5" />
<text x="37.4" y="478.7" font-size="3.7" text-anchor="end" font-weight="normal" fill="#444" font-family="'Liberation Sans', 'DejaVu Sans', sans-serif" >-40</text>
<line x1="37.8" y1="477.4" x2="39" y2="477.4" stroke="#999" stroke-width="0.4" />
<line x1="39" y1="485.55" x2="265" y2="485.55" stroke="#e2e2e2" stroke-width="0.5" />
<text x="37.4" y="486.85" font-size="3.7" text-anchor="end" font-weight="normal" fill="#444" font-family="'Liberation Sans', 'DejaVu Sans', sans-serif" >-60</text>
<line x1="37.8" y1="485.55" x2="39" y2="485.55" stroke="#999" stroke-width="0.4" />
<line x1="39" y1="493.7" x2="265" y2="493.7" stroke="#e2e2e2" stroke-width="0.5" />
<text x="37.4" y="495" font-size="3.7" text-anchor="end" font-weight="normal" fill="#444" font-family="'Liberation Sans', 'DejaVu Sans', sans-serif" >-80</text>
<line x1="37.8" y1="493.7" x2="39" y2="493.7" stroke="#999" stroke-width="0.4" />
<text x="267.8" y="429.8" font-size="3.7" text-anchor="start" font-weight="normal" fill="#555" font-family="'Liberation Sans', 'DejaVu Sans', sans-serif" >3.5</text>
<line x1="265" y1="428.5" x2="266.2" y2="428.5" stroke="#999" stroke-width="0.4" />
<text x="267.8" y="435.23" font-size="3.7" text-anchor="start" font-weight="normal" fill="#555" font-family="'Liberation Sans', 'DejaVu Sans', sans-serif" >3</text>
<line x1="265" y1="433.93" x2="266.2" y2="433.93" stroke="#999" stroke-width="0.4" />
<text x="267.8" y="440.67" font-size="3.7" text-anchor="start" font-weight="normal" fill="#555" font-family="'Liberation Sans', 'DejaVu Sans', sans-serif" >2.5</text>
<line x1="265" y1="439.37" x2="266.2" y2="439.37" stroke="#999" stroke-width="0.4" />
<text x="267.8" y="446.1" font-size="3.7" text-anchor="start" font-weight="normal" fill="#555" font-family="'Liberation Sans', 'DejaVu Sans', sans-serif" >2</text>
<line x1="265" y1="444.8" x2="266.2" y2="444.8" stroke="#999" stroke-width="0.4" />
<text x="267.8" y="451.53" font-size="3.7" text-anchor="start" font-weight="normal" fill="#555" font-family="'Liberation Sans', 'DejaVu Sans', sans-serif" >1.5</text>
<line x1="265" y1="450.23" x2="266.2" y2="450.23" stroke="#999" stroke-width="0.4" />
<text x="267.8" y="456.97" font-size="3.7" text-anchor="start" font-weight="normal" fill="#555" font-family="'Liberation Sans', 'DejaVu Sans', sans-serif" >1</text>
<line x1="265" y1="455.67" x2="266.2" y2="455.67" stroke="#999" stroke-width="0.4" />
<text x="267.8" y="462.4" font-size="3.7" text-anchor="start" font-weight="normal" fill="#555" font-family="'Liberation Sans', 'DejaVu Sans', sans-serif" >500m</text>
<line x1="265" y1="461.1" x2="266.2" y2="461.1" stroke="#999" stroke-width="0.4" />
<text x="267.8" y="467.83" font-size="3.7" text-anchor="start" font-weight="normal" fill="#555" font-family="'Liberation Sans', 'DejaVu Sans', sans-serif" >0</text>
<line x1="265" y1="466.53" x2="266.2" y2="466.53" stroke="#999" stroke-width="0.4" />
<text x="267.8" y="473.27" font-size="3.7" text-anchor="start" font-weight="normal" fill="#555" font-family="'Liberation Sans', 'DejaVu Sans', sans-serif" >-500m</text>
<line x1="265" y1="471.97" x2="266.2" y2="471.97" stroke="#999" stroke-width="0.4" />
<text x="267.8" y="478.7" font-size="3.7" text-anchor="start" font-weight="normal" fill="#555" font-family="'Liberation Sans', 'DejaVu Sans', sans-serif" >-1</text>
<line x1="265" y1="477.4" x2="266.2" y2="477.4" stroke="#999" stroke-width="0.4" />
<text x="267.8" y="484.13" font-size="3.7" text-anchor="start" font-weight="normal" fill="#555" font-family="'Liberation Sans', 'DejaVu Sans', sans-serif" >-1.5</text>
<line x1="265" y1="482.83" x2="266.2" y2="482.83" stroke="#999" stroke-width="0.4" />
<text x="267.8" y="489.57" font-size="3.7" text-anchor="start" font-weight="normal" fill="#555" font-family="'Liberation Sans', 'DejaVu Sans', sans-serif" >-2</text>
<line x1="265" y1="488.27" x2="266.2" y2="488.27" stroke="#999" stroke-width="0.4" />
<text x="267.8" y="495" font-size="3.7" text-anchor="start" font-weight="normal" fill="#555" font-family="'Liberation Sans', 'DejaVu Sans', sans-serif" >-2.5</text>
<line x1="265" y1="493.7" x2="266.2" y2="493.7" stroke="#999" stroke-width="0.4" />
<text x="39" y="497.9" font-size="3.7" text-anchor="middle" font-weight="normal" fill="#555" font-family="'Liberation Sans', 'DejaVu Sans', sans-serif" >0.1</text>
<text x="50.3" y="497.9" font-size="3.7" text-anchor="middle" font-weight="normal" fill="#555" font-family="'Liberation Sans', 'DejaVu Sans', sans-serif" >20</text>
<text x="61.6" y="497.9" font-size="3.7" text-anchor="middle" font-weight="normal" fill="#555" font-family="'Liberation Sans', 'DejaVu Sans', sans-serif" >40</text>
<text x="72.9" y="497.9" font-size="3.7" text-anchor="middle" font-weight="normal" fill="#555" font-family="'Liberation Sans', 'DejaVu Sans', sans-serif" >60</text>
<text x="84.2" y="497.9" font-size="3.7" text-anchor="middle" font-weight="normal" fill="#555" font-family="'Liberation Sans', 'DejaVu Sans', sans-serif" >80</text>
<text x="95.5" y="497.9" font-size="3.7" text-anchor="middle" font-weight="normal" fill="#555" font-family="'Liberation Sans', 'DejaVu Sans', sans-serif" >100</text>
<text x="106.8" y="497.9" font-size="3.7" text-anchor="middle" font-weight="normal" fill="#555" font-family="'Liberation Sans', 'DejaVu Sans', sans-serif" >120</text>
<text x="118.1" y="497.9" font-size="3.7" text-anchor="middle" font-weight="normal" fill="#555" font-family="'Liberation Sans', 'DejaVu Sans', sans-serif" >140</text>
<text x="129.4" y="497.9" font-size="3.7" text-anchor="middle" font-weight="normal" fill="#555" font-family="'Liberation Sans', 'DejaVu Sans', sans-serif" >160</text>
<text x="140.7" y="497.9" font-size="3.7" text-anchor="middle" font-weight="normal" fill="#555" font-family="'Liberation Sans', 'DejaVu Sans', sans-serif" >180</text>
<text x="152" y="497.9" font-size="3.7" text-anchor="middle" font-weight="normal" fill="#555" font-family="'Liberation Sans', 'DejaVu Sans', sans-serif" >200</text>
<text x="163.3" y="497.9" font-size="3.7" text-anchor="middle" font-weight="normal" fill="#555" font-family="'Liberation Sans', 'DejaVu Sans', sans-serif" >220</text>
<text x="174.6" y="497.9" font-size="3.7" text-anchor="middle" font-weight="normal" fill="#555" font-family="'Liberation Sans', 'DejaVu Sans', sans-serif" >240</text>
<text x="185.9" y="497.9" font-size="3.7" text-anchor="middle" font-weight="normal" fill="#555" font-family="'Liberation Sans', 'DejaVu Sans', sans-serif" >260</text>
<text x="197.2" y="497.9" font-size="3.7" text-anchor="middle" font-weight="normal" fill="#555" font-family="'Liberation Sans', 'DejaVu Sans', sans-serif" >280</text>
<text x="208.5" y="497.9" font-size="3.7" text-anchor="middle" font-weight="normal" fill="#555" font-family="'Liberation Sans', 'DejaVu Sans', sans-serif" >300</text>
<text x="219.8" y="497.9" font-size="3.7" text-anchor="middle" font-weight="normal" fill="#555" font-family="'Liberation Sans', 'DejaVu Sans', sans-serif" >320</text>
<text x="231.1" y="497.9" font-size="3.7" text-anchor="middle" font-weight="normal" fill="#555" font-family="'Liberation Sans', 'DejaVu Sans', sans-serif" >340</text>
<text x="242.4" y="497.9" font-size="3.7" text-anchor="middle" font-weight="normal" fill="#555" font-family="'Liberation Sans', 'DejaVu Sans', sans-serif" >360</text>
<text x="253.7" y="497.9" font-size="3.7" text-anchor="middle" font-weight="normal" fill="#555" font-family="'Liberation Sans', 'DejaVu Sans', sans-serif" >380</text>
<text x="265" y="497.9" font-size="3.7" text-anchor="middle" font-weight="normal" fill="#555" font-family="'Liberation Sans', 'DejaVu Sans', sans-serif" >400</text>
<rect x="39" y="428.5" width="226" height="65.2" fill="none" stroke="#c8c8c8" stroke-width="0.5" />
<path d="M39 465.53L39.2 465.87L39.4 466.22L39.6 466.57L39.8 466.9L40 467.22L40.2 467.51L40.4 467.78L40.6 468.02L40.8 468.22L41 468.38L41.2 468.5L41.4 468.57L41.6 468.6L41.8 468.58L42 468.51L42.2 468.4L42.4 468.25L42.6 468.05L42.8 467.82L43 467.56L43.2 467.26L43.4 466.95L43.6 466.62L43.8 466.27L44 465.93L44.2 465.58L44.4 465.24L44.6 464.91L44.8 464.61L45 464.33L45.2 464.08L45.4 463.86L45.6 463.68L45.8 463.54L46 463.45L46.2 463.41L46.4 463.41L46.6 463.45L46.8 463.54L47 463.68L47.2 463.86L47.4 464.08L47.6 464.33L47.8 464.61L48 464.91L48.2 465.24L48.4 465.58L48.6 465.93L48.8 466.27L49 466.62L49.2 466.95L49.4 467.26L49.6 467.56L49.8 467.82L50 468.05L50.2 468.25L50.4 468.4L50.6 468.51L50.8 468.58L51 468.6L51.2 468.57L51.4 468.5L51.6 468.38L51.8 468.22L52 468.02L52.2 467.78L52.4 467.51L52.6 467.22L52.8 466.9L53 466.57L53.2 466.22L53.4 465.87L53.6 465.53L53.8 465.19L54 464.87L54.2 464.56L54.4 464.29L54.6 464.04L54.8 463.83L55 463.66L55.2 463.53L55.4 463.44L55.6 463.4L55.8 463.41L56 463.46L56.2 463.56L56.4 463.71L56.6 463.89L56.8 464.11L57 464.37L57.2 464.65L57.4 464.96L57.6 465.29L57.8 465.63L58 465.98L58.2 466.33L58.4 466.67L58.6 467L58.8 467.31L59 467.6L59.2 467.86L59.4 468.08L59.6 468.27L59.8 468.42L60 468.53L60.2 468.59L60.4 468.6L60.6 468.56L60.8 468.49L61 468.36L61.2 468.19L61.4 467.99L61.6 467.75L61.8 467.47L62 467.17L62.2 466.85L62.4 466.52L62.6 466.17L62.8 465.82L63 465.48L63.2 465.14L63.4 464.82L63.6 464.52L63.8 464.25L64 464.01L64.2 463.8L64.4 463.64L64.6 463.51L64.8 463.43L65 463.4L65.2 463.41L65.4 463.48L65.6 463.58L65.8 463.73L66 463.92L66.2 464.15L66.4 464.41L66.6 464.7L66.8 465.01L67 465.34L67.2 465.68L67.4 466.03L67.6 466.38L67.8 466.72L68 467.05L68.2 467.35L68.4 467.64L68.6 467.89L68.8 468.12L69 468.3L69.2 468.44L69.4 468.54L69.6 468.59L69.8 468.6L70 468.56L70.2 468.47L70.4 468.34L70.6 468.17L70.8 467.95L71 467.71L71.2 467.43L71.4 467.13L71.6 466.8L71.8 466.46L72 466.12L72.2 465.77L72.4 465.43L72.6 465.09L72.8 464.77L73 464.48L73.2 464.21L73.4 463.97L73.6 463.77L73.8 463.61L74 463.5L74.2 463.43L74.4 463.4L74.6 463.42L74.8 463.49L75 463.6L75.2 463.76L75.4 463.95L75.6 464.18L75.8 464.45L76 464.74L76.2 465.06L76.4 465.39L76.6 465.73L76.8 466.08L77 466.43L77.2 466.77L77.4 467.09L77.6 467.4L77.8 467.68L78 467.93L78.2 468.15L78.4 468.32L78.6 468.46L78.8 468.55L79 468.59L79.2 468.59L79.4 468.55L79.6 468.45L79.8 468.31L80 468.14L80.2 467.92L80.4 467.67L80.6 467.38L80.8 467.08L81 466.75L81.2 466.41L81.4 466.07L81.6 465.72L81.8 465.37L82 465.04L82.2 464.73L82.4 464.44L82.6 464.17L82.8 463.94L83 463.75L83.2 463.59L83.4 463.48L83.6 463.42L83.8 463.4L84 463.43L84.2 463.5L84.4 463.62L84.6 463.78L84.8 463.98L85 464.22L85.2 464.49L85.4 464.79L85.6 465.11L85.8 465.44L86 465.79L86.2 466.14L86.4 466.48L86.6 466.82L86.8 467.14L87 467.44L87.2 467.72L87.4 467.96L87.6 468.17L87.8 468.35L88 468.47L88.2 468.56L88.4 468.6L88.6 468.59L88.8 468.53L89 468.43L89.2 468.29L89.4 468.11L89.6 467.88L89.8 467.63L90 467.34L90.2 466.97L90.4 466.56L90.6 465.96L90.8 464.95L91 463.57L91.2 461.98L91.4 460.12L91.6 458.01L91.8 455.7L92 453.25L92.2 450.69L92.4 448.09L92.6 445.49L92.8 442.96L93 440.53L93.2 438.27L93.4 436.21L93.6 434.39L93.8 432.87L94 431.67L94.2 430.81L94.4 430.32L94.6 430.21L94.8 430.49L95 431.16L95.2 432.21L95.4 433.63L95.6 435.39L95.8 437.48L96 439.86L96.2 442.48L96.4 445.31L96.6 448.31L96.8 451.42L97 454.59L97.2 457.76L97.4 460.9L97.6 463.94L97.8 466.83L98 469.52L98.2 471.98L98.4 474.16L98.6 476.03L98.8 477.55L99 478.71L99.2 479.48L99.4 479.85L99.6 479.83L99.8 479.41L100 478.6L100.2 477.43L100.4 475.92L100.6 474.09L100.8 471.98L101 469.64L101.2 467.1L101.4 464.42L101.6 461.65L101.8 458.83L102 456.02L102.2 453.27L102.4 450.64L102.6 448.18L102.8 445.92L103 443.92L103.2 442.2L103.4 440.82L103.6 439.78L103.8 439.11L104 438.83L104.2 438.94L104.4 439.44L104.6 440.32L104.8 441.58L105 443.19L105.2 445.12L105.4 447.35L105.6 449.82L105.8 452.51L106 455.37L106.2 458.33L106.4 461.36L106.6 464.41L106.8 467.41L107 470.32L107.2 473.08L107.4 475.66L107.6 477.99L107.8 480.06L108 481.81L108.2 483.21L108.4 484.26L108.6 484.92L108.8 485.18L109 485.05L109.2 484.53L109.4 483.62L109.6 482.35L109.8 480.74L110 478.82L110.2 476.62L110.4 474.18L110.6 471.56L110.8 468.79L111 465.92L111.2 463.02L111.4 460.13L111.6 457.3L111.8 454.59L112 452.05L112.2 449.72L112.4 447.64L112.6 445.85L112.8 444.39L113 443.28L113.2 442.54L113.4 442.19L113.6 442.23L113.8 442.67L114 443.49L114.2 444.69L114.4 446.24L114.6 448.11L114.8 450.27L115 452.69L115.2 455.32L115.4 458.12L115.6 461.03L115.8 464.01L116 467L116.2 469.95L116.4 472.81L116.6 475.53L116.8 478.05L117 480.34L117.2 482.36L117.4 484.06L117.6 485.42L117.8 486.42L118 487.04L118.2 487.26L118.4 487.09L118.6 486.53L118.8 485.58L119 484.28L119.2 482.63L119.4 480.66L119.6 478.43L119.8 475.96L120 473.3L120.2 470.49L120.4 467.6L120.6 464.66L120.8 461.74L121 458.88L121.2 456.14L121.4 453.56L121.6 451.2L121.8 449.09L122 447.28L122.2 445.79L122.4 444.65L122.6 443.88L122.8 443.51L123 443.52L123.2 443.93L123.4 444.73L123.6 445.9L123.8 447.43L124 449.27L124.2 451.42L124.4 453.81L124.6 456.42L124.8 459.2L125 462.09L125.2 465.05L125.4 468.02L125.6 470.95L125.8 473.79L126 476.48L126.2 478.99L126.4 481.26L126.6 483.26L126.8 484.94L127 486.29L127.2 487.27L127.4 487.87L127.6 488.08L127.8 487.89L128 487.31L128.2 486.35L128.4 485.03L128.6 483.36L128.8 481.39L129 479.14L129.2 476.65L129.4 473.98L129.6 471.16L129.8 468.25L130 465.3L130.2 462.36L130.4 459.49L130.6 456.74L130.8 454.15L131 451.78L131.2 449.66L131.4 447.83L131.6 446.33L131.8 445.18L132 444.41L132.2 444.02L132.4 444.03L132.6 444.43L132.8 445.22L133 446.38L133.2 447.89L133.4 449.73L133.6 451.86L133.8 454.25L134 456.85L134.2 459.62L134.4 462.5L134.6 465.45L134.8 468.41L135 471.34L135.2 474.17L135.4 476.86L135.6 479.35L135.8 481.62L136 483.61L136.2 485.29L136.4 486.63L136.6 487.6L136.8 488.19L137 488.4L137.2 488.2L137.4 487.62L137.6 486.65L137.8 485.32L138 483.65L138.2 481.67L138.4 479.41L138.6 476.92L138.8 474.24L139 471.42L139.2 468.5L139.4 465.55L139.6 462.61L139.8 459.73L140 456.98L140.2 454.38L140.4 452L140.6 449.88L140.8 448.05L141 446.54L141.2 445.39L141.4 444.61L141.6 444.22L141.8 444.22L142 444.62L142.2 445.4L142.4 446.56L142.6 448.07L142.8 449.91L143 452.04L143.2 454.42L143.4 457.02L143.6 459.78L143.8 462.66L144 465.61L144.2 468.57L144.4 471.49L144.6 474.32L144.8 477L145 479.5L145.2 481.76L145.4 483.75L145.6 485.42L145.8 486.76L146 487.73L146.2 488.32L146.4 488.52L146.6 488.32L146.8 487.74L147 486.77L147.2 485.43L147.4 483.76L147.6 481.78L147.8 479.52L148 477.03L148.2 474.34L148.4 471.52L148.6 468.6L148.8 465.65L149 462.7L149.2 459.83L149.4 457.07L149.6 454.47L149.8 452.09L150 449.97L150.2 448.13L150.4 446.63L150.6 445.47L150.8 444.69L151 444.3L151.2 444.3L151.4 444.7L151.6 445.48L151.8 446.63L152 448.14L152.2 449.98L152.4 452.11L152.6 454.49L152.8 457.08L153 459.85L153.2 462.73L153.4 465.67L153.6 468.63L153.8 471.55L154 474.37L154.2 477.06L154.4 479.55L154.6 481.81L154.8 483.8L155 485.47L155.2 486.81L155.4 487.78L155.6 488.37L155.8 488.57L156 488.37L156.2 487.78L156.4 486.81L156.6 485.48L156.8 483.81L157 481.82L157.2 479.56L157.4 477.07L157.6 474.38L157.8 471.56L158 468.64L158.2 465.69L158.4 462.74L158.6 459.86L158.8 457.1L159 454.51L159.2 452.13L159.4 450L159.6 448.17L159.8 446.66L160 445.51L160.2 444.72L160.4 444.33L160.6 444.33L160.8 444.72L161 445.51L161.2 446.66L161.4 448.17L161.6 450L161.8 452.13L162 454.51L162.2 457.11L162.4 459.87L162.6 462.75L162.8 465.69L163 468.65L163.2 471.57L163.4 474.4L163.6 477.08L163.8 479.57L164 481.83L164.2 483.82L164.4 485.49L164.6 486.83L164.8 487.8L165 488.39L165.2 488.59L165.4 488.39L165.6 487.8L165.8 486.83L166 485.5L166.2 483.82L166.4 481.84L166.6 479.58L166.8 477.08L167 474.4L167.2 471.57L167.4 468.66L167.6 465.7L167.8 462.76L168 459.88L168.2 457.12L168.4 454.52L168.6 452.14L168.8 450.01L169 448.18L169.2 446.67L169.4 445.52L169.6 444.74L169.8 444.34L170 444.34L170.2 444.74L170.4 445.52L170.6 446.67L170.8 448.18L171 450.02L171.2 452.14L171.4 454.52L171.6 457.12L171.8 459.88L172 462.76L172.2 465.7L172.4 468.66L172.6 471.58L172.8 474.41L173 477.09L173.2 479.58L173.4 481.84L173.6 483.83L173.8 485.5L174 486.84L174.2 487.81L174.4 488.4L174.6 488.6L174.8 488.4L175 487.81L175.2 486.84L175.4 485.5L175.6 483.83L175.8 481.84L176 479.58L176.2 477.09L176.4 474.41L176.6 471.58L176.8 468.66L177 465.71L177.2 462.76L177.4 459.88L177.6 457.12L177.8 454.53L178 452.15L178.2 450.02L178.4 448.19L178.6 446.68L178.8 445.52L179 444.74L179.2 444.35L179.4 444.35L179.6 444.74L179.8 445.52L180 446.68L180.2 448.19L180.4 450.02L180.6 452.15L180.8 454.53L181 457.12L181.2 459.89L181.4 462.76L181.6 465.71L181.8 468.66L182 471.58L182.2 474.41L182.4 477.09L182.6 479.59L182.8 481.85L183 483.83L183.2 485.51L183.4 486.84L183.6 487.81L183.8 488.4L184 488.6L184.2 488.4L184.4 487.81L184.6 486.84L184.8 485.51L185 483.83L185.2 481.85L185.4 479.59L185.6 477.09L185.8 474.41L186 471.58L186.2 468.67L186.4 465.71L186.6 462.76L186.8 459.89L187 457.12L187.2 454.53L187.4 452.15L187.6 450.02L187.8 448.19L188 446.68L188.2 445.52L188.4 444.74L188.6 444.35L188.8 444.35L189 444.74L189.2 445.52L189.4 446.68L189.6 448.19L189.8 450.02L190 452.15L190.2 454.53L190.4 457.13L190.6 459.89L190.8 462.76L191 465.71L191.2 468.67L191.4 471.58L191.6 474.41L191.8 477.09L192 479.59L192.2 481.85L192.4 483.83L192.6 485.51L192.8 486.84L193 487.81L193.2 488.4L193.4 488.6L193.6 488.4L193.8 487.81L194 486.84L194.2 485.51L194.4 483.83L194.6 481.85L194.8 479.59L195 477.09L195.2 474.41L195.4 471.58L195.6 468.67L195.8 465.71L196 462.77L196.2 459.89L196.4 457.13L196.6 454.53L196.8 452.15L197 450.02L197.2 448.19L197.4 446.68L197.6 445.53L197.8 444.74L198 444.35L198.2 444.35L198.4 444.74L198.6 445.53L198.8 446.68L199 448.19L199.2 450.02L199.4 452.15L199.6 454.53L199.8 457.13L200 459.89L200.2 462.77L200.4 465.71L200.6 468.67L200.8 471.58L201 474.41L201.2 477.09L201.4 479.59L201.6 481.85L201.8 483.83L202 485.51L202.2 486.84L202.4 487.81L202.6 488.4L202.8 488.6L203 488.4L203.2 487.81L203.4 486.84L203.6 485.51L203.8 483.83L204 481.85L204.2 479.59L204.4 477.09L204.6 474.41L204.8 471.58L205 468.67L205.2 465.71L205.4 462.77L205.6 459.89L205.8 457.13L206 454.53L206.2 452.15L206.4 450.02L206.6 448.19L206.8 446.68L207 445.53L207.2 444.74L207.4 444.35L207.6 444.35L207.8 444.74L208 445.53L208.2 446.68L208.4 448.19L208.6 450.02L208.8 452.15L209 454.53L209.2 457.13L209.4 459.89L209.6 462.77L209.8 465.71L210 468.67L210.2 471.58L210.4 474.41L210.6 477.09L210.8 479.59L211 481.85L211.2 483.83L211.4 485.51L211.6 486.84L211.8 487.81L212 488.4L212.2 488.6L212.4 488.4L212.6 487.81L212.8 486.84L213 485.51L213.2 483.83L213.4 481.85L213.6 479.59L213.8 477.09L214 474.41L214.2 471.58L214.4 468.67L214.6 465.71L214.8 462.77L215 459.89L215.2 457.13L215.4 454.53L215.6 452.15L215.8 450.02L216 448.19L216.2 446.68L216.4 445.53L216.6 444.74L216.8 444.35L217 444.35L217.2 444.74L217.4 445.53L217.6 446.68L217.8 448.19L218 450.02L218.2 452.15L218.4 454.53L218.6 457.13L218.8 459.89L219 462.77L219.2 465.71L219.4 468.67L219.6 471.58L219.8 474.41L220 477.09L220.2 479.59L220.4 481.85L220.6 483.83L220.8 485.51L221 486.84L221.2 487.81L221.4 488.4L221.6 488.6L221.8 488.4L222 487.81L222.2 486.84L222.4 485.51L222.6 483.83L222.8 481.85L223 479.59L223.2 477.09L223.4 474.41L223.6 471.58L223.8 468.67L224 465.71L224.2 462.77L224.4 459.89L224.6 457.13L224.8 454.53L225 452.15L225.2 450.02L225.4 448.19L225.6 446.68L225.8 445.53L226 444.74L226.2 444.35L226.4 444.35L226.6 444.74L226.8 445.53L227 446.68L227.2 448.19L227.4 450.02L227.6 452.15L227.8 454.53L228 457.13L228.2 459.89L228.4 462.77L228.6 465.71L228.8 468.67L229 471.58L229.2 474.41L229.4 477.09L229.6 479.59L229.8 481.85L230 483.83L230.2 485.51L230.4 486.84L230.6 487.81L230.8 488.4L231 488.6L231.2 488.4L231.4 487.81L231.6 486.84L231.8 485.51L232 483.83L232.2 481.85L232.4 479.59L232.6 477.09L232.8 474.41L233 471.58L233.2 468.67L233.4 465.71L233.6 462.77L233.8 459.89L234 457.13L234.2 454.53L234.4 452.15L234.6 450.02L234.8 448.19L235 446.68L235.2 445.53L235.4 444.74L235.6 444.35L235.8 444.35L236 444.74L236.2 445.53L236.4 446.68L236.6 448.19L236.8 450.02L237 452.15L237.2 454.53L237.4 457.13L237.6 459.89L237.8 462.77L238 465.71L238.2 468.67L238.4 471.58L238.6 474.41L238.8 477.09L239 479.59L239.2 481.85L239.4 483.83L239.6 485.51L239.8 486.84L240 487.81L240.2 488.4L240.4 488.6L240.6 488.4L240.8 487.81L241 486.84L241.2 485.51L241.4 483.83L241.6 481.85L241.8 479.59L242 477.09L242.2 474.41L242.4 471.58L242.6 468.67L242.8 465.71L243 462.77L243.2 459.89L243.4 457.13L243.6 454.53L243.8 452.15L244 450.02L244.2 448.19L244.4 446.68L244.6 445.53L244.8 444.74L245 444.35L245.2 444.35L245.4 444.74L245.6 445.53L245.8 446.68L246 448.19L246.2 450.02L246.4 452.15L246.6 454.53L246.8 457.13L247 459.89L247.2 462.77L247.4 465.71L247.6 468.67L247.8 471.58L248 474.41L248.2 477.09L248.4 479.59L248.6 481.85L248.8 483.83L249 485.51L249.2 486.84L249.4 487.81L249.6 488.4L249.8 488.6L250 488.4L250.2 487.81L250.4 486.84L250.6 485.51L250.8 483.83L251 481.85L251.2 479.59L251.4 477.09L251.6 474.41L251.8 471.58L252 468.67L252.2 465.71L252.4 462.77L252.6 459.89L252.8 457.13L253 454.53L253.2 452.15L253.4 450.02L253.6 448.19L253.8 446.68L254 445.53L254.2 444.74L254.4 444.35L254.6 444.35L254.8 444.74L255 445.53L255.2 446.68L255.4 448.19L255.6 450.02L255.8 452.15L256 454.53L256.2 457.13L256.4 459.89L256.6 462.77L256.8 465.71L257 468.67L257.2 471.58L257.4 474.41L257.6 477.09L257.8 479.59L258 481.85L258.2 483.83L258.4 485.51L258.6 486.84L258.8 487.81L259 488.4L259.2 488.6L259.4 488.4L259.6 487.81L259.8 486.84L260 485.51L260.2 483.83L260.4 481.85L260.6 479.59L260.8 477.09L261 474.41L261.2 471.58L261.4 468.67L261.6 465.71L261.8 462.77L262 459.89L262.2 457.13L262.4 454.53L262.6 452.15L262.8 450.02L263 448.19L263.2 446.68L263.4 445.53L263.6 444.74L263.8 444.35L264 444.35L264.2 444.74L264.4 445.53L264.6 446.68L264.8 448.19L265 450.02" fill="none" stroke="#ee4c4c" stroke-width="1.1" stroke-linejoin="round"/>
<path d="M39 455.37L39.2 459.49L39.4 463.65L39.6 467.75L39.8 471.74L40 475.53L40.2 479.06L40.4 482.27L40.6 485.09L40.8 487.48L41 489.4L41.2 490.81L41.4 491.68L41.6 492L41.8 491.76L42 490.97L42.2 489.65L42.4 487.8L42.6 485.48L42.8 482.72L43 479.56L43.2 476.08L43.4 472.32L43.6 468.36L43.8 464.27L44 460.12L44.2 455.98L44.4 451.94L44.6 448.05L44.8 444.4L45 441.05L45.2 438.06L45.4 435.48L45.6 433.35L45.8 431.73L46 430.63L46.2 430.07L46.4 430.07L46.6 430.63L46.8 431.73L47 433.35L47.2 435.48L47.4 438.06L47.6 441.05L47.8 444.4L48 448.05L48.2 451.94L48.4 455.98L48.6 460.12L48.8 464.27L49 468.36L49.2 472.32L49.4 476.08L49.6 479.56L49.8 482.72L50 485.48L50.2 487.8L50.4 489.65L50.6 490.97L50.8 491.76L51 492L51.2 491.68L51.4 490.81L51.6 489.4L51.8 487.48L52 485.09L52.2 482.27L52.4 479.06L52.6 475.53L52.8 471.74L53 467.75L53.2 463.65L53.4 459.49L53.6 455.37L53.8 451.34L54 447.49L54.2 443.88L54.4 440.58L54.6 437.64L54.8 435.13L55 433.08L55.2 431.53L55.4 430.51L55.6 430.03L55.8 430.12L56 430.76L56.2 431.94L56.4 433.64L56.6 435.84L56.8 438.48L57 441.53L57.2 444.93L57.4 448.62L57.6 452.53L57.8 456.6L58 460.74L58.2 464.89L58.4 468.96L58.6 472.9L58.8 476.62L59 480.06L59.2 483.16L59.4 485.86L59.6 488.11L59.8 489.88L60 491.13L60.2 491.83L60.4 491.99L60.6 491.58L60.8 490.63L61 489.15L61.2 487.16L61.4 484.7L61.6 481.81L61.8 478.55L62 474.98L62.2 471.15L62.4 467.14L62.6 463.03L62.8 458.87L63 454.75L63.2 450.75L63.4 446.93L63.6 443.36L63.8 440.11L64 437.24L64.2 434.79L64.4 432.81L64.6 431.34L64.8 430.4L65 430.01L65.2 430.18L65.4 430.9L65.6 432.16L65.8 433.94L66 436.2L66.2 438.91L66.4 442.02L66.6 445.47L66.8 449.2L67 453.14L67.2 457.22L67.4 461.36L67.6 465.51L67.8 469.57L68 473.47L68.2 477.16L68.4 480.55L68.6 483.59L68.8 486.23L69 488.41L69.2 490.1L69.4 491.27L69.6 491.89L69.8 491.96L70 491.47L70.2 490.44L70.4 488.88L70.6 486.82L70.8 484.29L71 481.34L71.2 478.03L71.4 474.42L71.6 470.56L71.8 466.53L72 462.4L72.2 458.25L72.4 454.15L72.6 450.16L72.8 446.38L73 442.85L73.2 439.66L73.4 436.84L73.6 434.46L73.8 432.56L74 431.16L74.2 430.31L74.4 430L74.6 430.25L74.8 431.05L75 432.39L75.2 434.25L75.4 436.58L75.6 439.36L75.8 442.52L76 446.01L76.2 449.78L76.4 453.74L76.6 457.84L76.8 461.99L77 466.12L77.2 470.16L77.4 474.04L77.6 477.68L77.8 481.03L78 484.01L78.2 486.58L78.4 488.69L78.6 490.31L78.8 491.4L79 491.94L79.2 491.92L79.4 491.35L79.6 490.24L79.8 488.6L80 486.46L80.2 483.87L80.4 480.87L80.6 477.51L80.8 473.85L81 469.96L81.2 465.92L81.4 461.78L81.6 457.63L81.8 453.54L82 449.58L82.2 445.83L82.4 442.35L82.6 439.21L82.8 436.46L83 434.14L83.2 432.32L83.4 431L83.6 430.23L83.8 430L84 430.34L84.2 431.22L84.4 432.64L84.6 434.57L84.8 436.97L85 439.81L85.2 443.02L85.4 446.56L85.6 450.36L85.8 454.35L86 458.46L86.2 462.61L86.4 466.74L86.6 470.76L86.8 474.6L87 478.21L87.2 481.5L87.4 484.43L87.6 486.93L87.8 488.97L88 490.51L88.2 491.51L88.4 491.97L88.6 491.75L88.8 491.36L89 490.59L89.2 489.45L89.4 487.96L89.6 486.14L89.8 484.04L90 481.68L90.2 479.12L90.4 476.39L90.6 473.54L90.8 470.63L91 467.71L91.2 464.82L91.4 462.03L91.6 459.38L91.8 456.91L92 454.68L92.2 452.71L92.4 451.06L92.6 449.74L92.8 448.78L93 448.2L93.2 449.2L93.4 449.3L93.6 449.61L93.8 450.12L94 450.82L94.2 451.7L94.4 452.74L94.6 453.92L94.8 455.23L95 456.63L95.2 458.11L95.4 459.64L95.6 461.19L95.8 462.73L96 464.24L96.2 465.68L96.4 467.04L96.6 468.29L96.8 469.4L97 470.36L97.2 471.15L97.4 471.76L97.6 472.17L97.8 472.37L98 472.37L98.2 472.17L98.4 471.76L98.6 471.15L98.8 470.36L99 469.4L99.2 468.29L99.4 467.04L99.6 465.68L99.8 464.24L100 462.73L100.2 461.19L100.4 459.64L100.6 458.11L100.8 456.63L101 455.23L101.2 453.92L101.4 452.74L101.6 451.7L101.8 450.82L102 450.12L102.2 449.61L102.4 449.3L102.6 449.2L102.8 449.3L103 449.61L103.2 450.12L103.4 450.82L103.6 451.7L103.8 452.74L104 453.92L104.2 455.23L104.4 456.63L104.6 458.11L104.8 459.64L105 461.19L105.2 462.73L105.4 464.24L105.6 465.68L105.8 467.04L106 468.29L106.2 469.4L106.4 470.36L106.6 471.15L106.8 471.76L107 472.17L107.2 472.37L107.4 472.37L107.6 472.17L107.8 471.76L108 471.15L108.2 470.36L108.4 469.4L108.6 468.29L108.8 467.04L109 465.68L109.2 464.24L109.4 462.73L109.6 461.19L109.8 459.64L110 458.11L110.2 456.63L110.4 455.23L110.6 453.92L110.8 452.74L111 451.7L111.2 450.82L111.4 450.12L111.6 449.61L111.8 449.3L112 449.2L112.2 449.3L112.4 449.61L112.6 450.12L112.8 450.82L113 451.7L113.2 452.74L113.4 453.92L113.6 455.23L113.8 456.63L114 458.11L114.2 459.64L114.4 461.19L114.6 462.73L114.8 464.24L115 465.68L115.2 467.04L115.4 468.29L115.6 469.4L115.8 470.36L116 471.15L116.2 471.76L116.4 472.17L116.6 472.37L116.8 472.37L117 472.17L117.2 471.76L117.4 471.15L117.6 470.36L117.8 469.4L118 468.29L118.2 467.04L118.4 465.68L118.6 464.24L118.8 462.73L119 461.19L119.2 459.64L119.4 458.11L119.6 456.63L119.8 455.23L120 453.92L120.2 452.74L120.4 451.7L120.6 450.82L120.8 450.12L121 449.61L121.2 449.3L121.4 449.2L121.6 449.3L121.8 449.61L122 450.12L122.2 450.82L122.4 451.7L122.6 452.74L122.8 453.92L123 455.23L123.2 456.63L123.4 458.11L123.6 459.64L123.8 461.19L124 462.73L124.2 464.24L124.4 465.68L124.6 467.04L124.8 468.29L125 469.4L125.2 470.36L125.4 471.15L125.6 471.76L125.8 472.17L126 472.37L126.2 472.37L126.4 472.17L126.6 471.76L126.8 471.15L127 470.36L127.2 469.4L127.4 468.29L127.6 467.04L127.8 465.68L128 464.24L128.2 462.73L128.4 461.19L128.6 459.64L128.8 458.11L129 456.63L129.2 455.23L129.4 453.92L129.6 452.74L129.8 451.7L130 450.82L130.2 450.12L130.4 449.61L130.6 449.3L130.8 449.2L131 449.3L131.2 449.61L131.4 450.12L131.6 450.82L131.8 451.7L132 452.74L132.2 453.92L132.4 455.23L132.6 456.63L132.8 458.11L133 459.64L133.2 461.19L133.4 462.73L133.6 464.24L133.8 465.68L134 467.04L134.2 468.29L134.4 469.4L134.6 470.36L134.8 471.15L135 471.76L135.2 472.17L135.4 472.37L135.6 472.37L135.8 472.17L136 471.76L136.2 471.15L136.4 470.36L136.6 469.4L136.8 468.29L137 467.04L137.2 465.68L137.4 464.24L137.6 462.73L137.8 461.19L138 459.64L138.2 458.11L138.4 456.63L138.6 455.23L138.8 453.92L139 452.74L139.2 451.7L139.4 450.82L139.6 450.12L139.8 449.61L140 449.3L140.2 449.2L140.4 449.3L140.6 449.61L140.8 450.12L141 450.82L141.2 451.7L141.4 452.74L141.6 453.92L141.8 455.23L142 456.63L142.2 458.11L142.4 459.64L142.6 461.19L142.8 462.73L143 464.24L143.2 465.68L143.4 467.04L143.6 468.29L143.8 469.4L144 470.36L144.2 471.15L144.4 471.76L144.6 472.17L144.8 472.37L145 472.37L145.2 472.17L145.4 471.76L145.6 471.15L145.8 470.36L146 469.4L146.2 468.29L146.4 467.04L146.6 465.68L146.8 464.24L147 462.73L147.2 461.19L147.4 459.64L147.6 458.11L147.8 456.63L148 455.23L148.2 453.92L148.4 452.74L148.6 451.7L148.8 450.82L149 450.12L149.2 449.61L149.4 449.3L149.6 449.2L149.8 449.3L150 449.61L150.2 450.12L150.4 450.82L150.6 451.7L150.8 452.74L151 453.92L151.2 455.23L151.4 456.63L151.6 458.11L151.8 459.64L152 461.19L152.2 462.73L152.4 464.24L152.6 465.68L152.8 467.04L153 468.29L153.2 469.4L153.4 470.36L153.6 471.15L153.8 471.76L154 472.17L154.2 472.37L154.4 472.37L154.6 472.17L154.8 471.76L155 471.15L155.2 470.36L155.4 469.4L155.6 468.29L155.8 467.04L156 465.68L156.2 464.24L156.4 462.73L156.6 461.19L156.8 459.64L157 458.11L157.2 456.63L157.4 455.23L157.6 453.92L157.8 452.74L158 451.7L158.2 450.82L158.4 450.12L158.6 449.61L158.8 449.3L159 449.2L159.2 449.3L159.4 449.61L159.6 450.12L159.8 450.82L160 451.7L160.2 452.74L160.4 453.92L160.6 455.23L160.8 456.63L161 458.11L161.2 459.64L161.4 461.19L161.6 462.73L161.8 464.24L162 465.68L162.2 467.04L162.4 468.29L162.6 469.4L162.8 470.36L163 471.15L163.2 471.76L163.4 472.17L163.6 472.37L163.8 472.37L164 472.17L164.2 471.76L164.4 471.15L164.6 470.36L164.8 469.4L165 468.29L165.2 467.04L165.4 465.68L165.6 464.24L165.8 462.73L166 461.19L166.2 459.64L166.4 458.11L166.6 456.63L166.8 455.23L167 453.92L167.2 452.74L167.4 451.7L167.6 450.82L167.8 450.12L168 449.61L168.2 449.3L168.4 449.2L168.6 449.3L168.8 449.61L169 450.12L169.2 450.82L169.4 451.7L169.6 452.74L169.8 453.92L170 455.23L170.2 456.63L170.4 458.11L170.6 459.64L170.8 461.19L171 462.73L171.2 464.24L171.4 465.68L171.6 467.04L171.8 468.29L172 469.4L172.2 470.36L172.4 471.15L172.6 471.76L172.8 472.17L173 472.37L173.2 472.37L173.4 472.17L173.6 471.76L173.8 471.15L174 470.36L174.2 469.4L174.4 468.29L174.6 467.04L174.8 465.68L175 464.24L175.2 462.73L175.4 461.19L175.6 459.64L175.8 458.11L176 456.63L176.2 455.23L176.4 453.92L176.6 452.74L176.8 451.7L177 450.82L177.2 450.12L177.4 449.61L177.6 449.3L177.8 449.2L178 449.3L178.2 449.61L178.4 450.12L178.6 450.82L178.8 451.7L179 452.74L179.2 453.92L179.4 455.23L179.6 456.63L179.8 458.11L180 459.64L180.2 461.19L180.4 462.73L180.6 464.24L180.8 465.68L181 467.04L181.2 468.29L181.4 469.4L181.6 470.36L181.8 471.15L182 471.76L182.2 472.17L182.4 472.37L182.6 472.37L182.8 472.17L183 471.76L183.2 471.15L183.4 470.36L183.6 469.4L183.8 468.29L184 467.04L184.2 465.68L184.4 464.24L184.6 462.73L184.8 461.19L185 459.64L185.2 458.11L185.4 456.63L185.6 455.23L185.8 453.92L186 452.74L186.2 451.7L186.4 450.82L186.6 450.12L186.8 449.61L187 449.3L187.2 449.2L187.4 449.3L187.6 449.61L187.8 450.12L188 450.82L188.2 451.7L188.4 452.74L188.6 453.92L188.8 455.23L189 456.63L189.2 458.11L189.4 459.64L189.6 461.19L189.8 462.73L190 464.24L190.2 465.68L190.4 467.04L190.6 468.29L190.8 469.4L191 470.36L191.2 471.15L191.4 471.76L191.6 472.17L191.8 472.37L192 472.37L192.2 472.17L192.4 471.76L192.6 471.15L192.8 470.36L193 469.4L193.2 468.29L193.4 467.04L193.6 465.68L193.8 464.24L194 462.73L194.2 461.19L194.4 459.64L194.6 458.11L194.8 456.63L195 455.23L195.2 453.92L195.4 452.74L195.6 451.7L195.8 450.82L196 450.12L196.2 449.61L196.4 449.3L196.6 449.2L196.8 449.3L197 449.61L197.2 450.12L197.4 450.82L197.6 451.7L197.8 452.74L198 453.92L198.2 455.23L198.4 456.63L198.6 458.11L198.8 459.64L199 461.19L199.2 462.73L199.4 464.24L199.6 465.68L199.8 467.04L200 468.29L200.2 469.4L200.4 470.36L200.6 471.15L200.8 471.76L201 472.17L201.2 472.37L201.4 472.37L201.6 472.17L201.8 471.76L202 471.15L202.2 470.36L202.4 469.4L202.6 468.29L202.8 467.04L203 465.68L203.2 464.24L203.4 462.73L203.6 461.19L203.8 459.64L204 458.11L204.2 456.63L204.4 455.23L204.6 453.92L204.8 452.74L205 451.7L205.2 450.82L205.4 450.12L205.6 449.61L205.8 449.3L206 449.2L206.2 449.3L206.4 449.61L206.6 450.12L206.8 450.82L207 451.7L207.2 452.74L207.4 453.92L207.6 455.23L207.8 456.63L208 458.11L208.2 459.64L208.4 461.19L208.6 462.73L208.8 464.24L209 465.68L209.2 467.04L209.4 468.29L209.6 469.4L209.8 470.36L210 471.15L210.2 471.76L210.4 472.17L210.6 472.37L210.8 472.37L211 472.17L211.2 471.76L211.4 471.15L211.6 470.36L211.8 469.4L212 468.29L212.2 467.04L212.4 465.68L212.6 464.24L212.8 462.73L213 461.19L213.2 459.64L213.4 458.11L213.6 456.63L213.8 455.23L214 453.92L214.2 452.74L214.4 451.7L214.6 450.82L214.8 450.12L215 449.61L215.2 449.3L215.4 449.2L215.6 449.3L215.8 449.61L216 450.12L216.2 450.82L216.4 451.7L216.6 452.74L216.8 453.92L217 455.23L217.2 456.63L217.4 458.11L217.6 459.64L217.8 461.19L218 462.73L218.2 464.24L218.4 465.68L218.6 467.04L218.8 468.29L219 469.4L219.2 470.36L219.4 471.15L219.6 471.76L219.8 472.17L220 472.37L220.2 472.37L220.4 472.17L220.6 471.76L220.8 471.15L221 470.36L221.2 469.4L221.4 468.29L221.6 467.04L221.8 465.68L222 464.24L222.2 462.73L222.4 461.19L222.6 459.64L222.8 458.11L223 456.63L223.2 455.23L223.4 453.92L223.6 452.74L223.8 451.7L224 450.82L224.2 450.12L224.4 449.61L224.6 449.3L224.8 449.2L225 449.3L225.2 449.61L225.4 450.12L225.6 450.82L225.8 451.7L226 452.74L226.2 453.92L226.4 455.23L226.6 456.63L226.8 458.11L227 459.64L227.2 461.19L227.4 462.73L227.6 464.24L227.8 465.68L228 467.04L228.2 468.29L228.4 469.4L228.6 470.36L228.8 471.15L229 471.76L229.2 472.17L229.4 472.37L229.6 472.37L229.8 472.17L230 471.76L230.2 471.15L230.4 470.36L230.6 469.4L230.8 468.29L231 467.04L231.2 465.68L231.4 464.24L231.6 462.73L231.8 461.19L232 459.64L232.2 458.11L232.4 456.63L232.6 455.23L232.8 453.92L233 452.74L233.2 451.7L233.4 450.82L233.6 450.12L233.8 449.61L234 449.3L234.2 449.2L234.4 449.3L234.6 449.61L234.8 450.12L235 450.82L235.2 451.7L235.4 452.74L235.6 453.92L235.8 455.23L236 456.63L236.2 458.11L236.4 459.64L236.6 461.19L236.8 462.73L237 464.24L237.2 465.68L237.4 467.04L237.6 468.29L237.8 469.4L238 470.36L238.2 471.15L238.4 471.76L238.6 472.17L238.8 472.37L239 472.37L239.2 472.17L239.4 471.76L239.6 471.15L239.8 470.36L240 469.4L240.2 468.29L240.4 467.04L240.6 465.68L240.8 464.24L241 462.73L241.2 461.19L241.4 459.64L241.6 458.11L241.8 456.63L242 455.23L242.2 453.92L242.4 452.74L242.6 451.7L242.8 450.82L243 450.12L243.2 449.61L243.4 449.3L243.6 449.2L243.8 449.3L244 449.61L244.2 450.12L244.4 450.82L244.6 451.7L244.8 452.74L245 453.92L245.2 455.23L245.4 456.63L245.6 458.11L245.8 459.64L246 461.19L246.2 462.73L246.4 464.24L246.6 465.68L246.8 467.04L247 468.29L247.2 469.4L247.4 470.36L247.6 471.15L247.8 471.76L248 472.17L248.2 472.37L248.4 472.37L248.6 472.17L248.8 471.76L249 471.15L249.2 470.36L249.4 469.4L249.6 468.29L249.8 467.04L250 465.68L250.2 464.24L250.4 462.73L250.6 461.19L250.8 459.64L251 458.11L251.2 456.63L251.4 455.23L251.6 453.92L251.8 452.74L252 451.7L252.2 450.82L252.4 450.12L252.6 449.61L252.8 449.3L253 449.2L253.2 449.3L253.4 449.61L253.6 450.12L253.8 450.82L254 451.7L254.2 452.74L254.4 453.92L254.6 455.23L254.8 456.63L255 458.11L255.2 459.64L255.4 461.19L255.6 462.73L255.8 464.24L256 465.68L256.2 467.04L256.4 468.29L256.6 469.4L256.8 470.36L257 471.15L257.2 471.76L257.4 472.17L257.6 472.37L257.8 472.37L258 472.17L258.2 471.76L258.4 471.15L258.6 470.36L258.8 469.4L259 468.29L259.2 467.04L259.4 465.68L259.6 464.24L259.8 462.73L260 461.19L260.2 459.64L260.4 458.11L260.6 456.63L260.8 455.23L261 453.92L261.2 452.74L261.4 451.7L261.6 450.82L261.8 450.12L262 449.61L262.2 449.3L262.4 449.2L262.6 449.3L262.8 449.61L263 450.12L263.2 450.82L263.4 451.7L263.6 452.74L263.8 453.92L264 455.23L264.2 456.63L264.4 458.11L264.6 459.64L264.8 461.19L265 462.73" fill="none" stroke="#3087cc" stroke-width="1.4" stroke-linejoin="round"/>
<text x="0" y="0" font-size="3.9" text-anchor="middle" font-weight="normal" fill="#444" font-family="'Liberation Sans', 'DejaVu Sans', sans-serif" transform="translate(27 461.1) rotate(-90)">Voltage [V]</text>
<text x="0" y="0" font-size="4.2" text-anchor="middle" font-weight="normal" fill="#444" font-family="'Liberation Sans', 'DejaVu Sans', sans-serif" transform="translate(277.6 461.1) rotate(90)" textLength="18.5" lengthAdjust="spacingAndGlyphs">Current [kA]</text>
<text x="152" y="503.6" font-size="3.7" text-anchor="middle" font-weight="normal" fill="#555" font-family="'Liberation Sans', 'DejaVu Sans', sans-serif" >Time [ms]</text>
<rect x="21.5" y="330.2" width="2.2" height="5" fill="#111" stroke="none" stroke-width="1" />
<text x="25" y="334.2" font-size="4.3" text-anchor="start" font-weight="bold" fill="#222" font-family="'Liberation Sans', 'DejaVu Sans', sans-serif" >Input Waveform</text>
<line x1="21.5" y1="335.6" x2="57.2" y2="335.6" stroke="#333" stroke-width="0.5" />
<rect x="61.2" y="329.2" width="98" height="6.7" fill="#fff" stroke="#c8c8c8" stroke-width="0.5" />
<text x="75.5" y="334.2" font-size="4.3" text-anchor="start" font-weight="bold" fill="#222" font-family="'Liberation Sans', 'DejaVu Sans', sans-serif"  textLength="32" lengthAdjust="spacingAndGlyphs">case4(256)_SP</text>
<rect x="154.7" y="330" width="4.3" height="5.2" fill="#eee" stroke="#888" stroke-width="0.4" />
<path d="M155.8 332 L158 332 L156.9 333.3 Z" fill="#333"/>
<rect x="22.5" y="416.9" width="2.7" height="4.7" fill="#a0189a" stroke="none" stroke-width="1" />
<text x="25.8" y="421.2" font-size="4.4" text-anchor="start" font-weight="bold" fill="#111" font-family="'Liberation Sans', 'DejaVu Sans', sans-serif"  textLength="23" lengthAdjust="spacingAndGlyphs">Relay Input</text>
<line x1="23" y1="422.4" x2="57.9" y2="422.4" stroke="#333" stroke-width="0.5" />
<rect x="65.9" y="416.6" width="66.8" height="7.1" fill="#fff" stroke="#dcdcdc" stroke-width="0.5" />
<circle cx="70.2" cy="420.2" r="1.2" fill="#2c6cc8"/>
<text x="73" y="421.4" font-size="3.7" text-anchor="start" font-weight="normal" fill="#444" font-family="'Liberation Sans', 'DejaVu Sans', sans-serif"  textLength="18.6" lengthAdjust="spacingAndGlyphs">Output Only</text>
<circle cx="95.3" cy="420.2" r="1.1" fill="#fff" stroke="#777" stroke-width="0.35"/>
<text x="97.8" y="421.4" font-size="3.7" text-anchor="start" font-weight="normal" fill="#444" font-family="'Liberation Sans', 'DejaVu Sans', sans-serif"  textLength="30" lengthAdjust="spacingAndGlyphs">Output + Feedback</text>
<rect x="166.3" y="330.8" width="2.8" height="2.8" fill="#dfe6f2" stroke="#8a9ab8" stroke-width="0.35" />
<path d="M166.8 332.3 l0.7 0.8 l1.2 -1.6" fill="none" stroke="#2a4aa0" stroke-width="0.4"/>
<text x="170.9" y="333.6" font-size="3.6" text-anchor="start" font-weight="bold" fill="#222" font-family="'Liberation Sans', 'DejaVu Sans', sans-serif"  textLength="11.1" lengthAdjust="spacingAndGlyphs">Voltage</text>
<path d="M191.2 333.7 L194.85 330.6 L198.5 333.7" fill="none" stroke="#2e6ee6" stroke-width="0.9" stroke-linejoin="round"/>
<rect x="200.3" y="330.8" width="2.8" height="2.8" fill="#dfe6f2" stroke="#8a9ab8" stroke-width="0.35" />
<path d="M200.8 332.3 l0.7 0.8 l1.2 -1.6" fill="none" stroke="#2a4aa0" stroke-width="0.4"/>
<text x="204.6" y="333.6" font-size="3.6" text-anchor="start" font-weight="bold" fill="#222" font-family="'Liberation Sans', 'DejaVu Sans', sans-serif"  textLength="20" lengthAdjust="spacingAndGlyphs">Trolley Current</text>
<path d="M225.4 333.7 L228.7 330.6 L232 333.7" fill="none" stroke="#f06a6a" stroke-width="0.9" stroke-linejoin="round"/>
<rect x="234.2" y="330.8" width="2.8" height="2.8" fill="#dfe6f2" stroke="#8a9ab8" stroke-width="0.35" />
<path d="M234.7 332.3 l0.7 0.8 l1.2 -1.6" fill="none" stroke="#2a4aa0" stroke-width="0.4"/>
<text x="238.2" y="333.6" font-size="3.6" text-anchor="start" font-weight="bold" fill="#222" font-family="'Liberation Sans', 'DejaVu Sans', sans-serif"  textLength="21" lengthAdjust="spacingAndGlyphs">Feeder Current</text>
<path d="M259.2 333.7 L262.7 330.6 L266.2 333.7" fill="none" stroke="#20d020" stroke-width="0.9" stroke-linejoin="round"/>
<rect x="161.3" y="418.6" width="2.8" height="2.8" fill="#dfe6f2" stroke="#8a9ab8" stroke-width="0.35" />
<path d="M161.8 420.1 l0.7 0.8 l1.2 -1.6" fill="none" stroke="#2a4aa0" stroke-width="0.4"/>
<text x="166.6" y="421.4" font-size="3.6" text-anchor="start" font-weight="bold" fill="#222" font-family="'Liberation Sans', 'DejaVu Sans', sans-serif"  textLength="12.1" lengthAdjust="spacingAndGlyphs">Voltage</text>
<rect x="186.7" y="417.2" width="9.1" height="5" fill="#eef3fb" stroke="#d6dde8" stroke-width="0.3" />
<path d="M187.3 421.5 L191.25 418.4 L195.2 421.5" fill="none" stroke="#2e6ee6" stroke-width="0.9" stroke-linejoin="round"/>
<rect x="196.6" y="418.6" width="2.8" height="2.8" fill="#dfe6f2" stroke="#8a9ab8" stroke-width="0.35" />
<path d="M197.1 420.1 l0.7 0.8 l1.2 -1.6" fill="none" stroke="#2a4aa0" stroke-width="0.4"/>
<text x="201.6" y="421.4" font-size="3.6" text-anchor="start" font-weight="bold" fill="#222" font-family="'Liberation Sans', 'DejaVu Sans', sans-serif"  textLength="19.8" lengthAdjust="spacingAndGlyphs">Trolley Current</text>
<path d="M222.2 421.5 L225.9 418.4 L229.6 421.5" fill="none" stroke="#f06a6a" stroke-width="0.9" stroke-linejoin="round"/>
<rect x="231.6" y="418.6" width="2.8" height="2.8" fill="#dfe6f2" stroke="#8a9ab8" stroke-width="0.35" />
<path d="M232.1 420.1 l0.7 0.8 l1.2 -1.6" fill="none" stroke="#2a4aa0" stroke-width="0.4"/>
<text x="235.4" y="421.4" font-size="3.6" text-anchor="start" font-weight="bold" fill="#222" font-family="'Liberation Sans', 'DejaVu Sans', sans-serif"  textLength="20.6" lengthAdjust="spacingAndGlyphs">Feeder Current</text>
<path d="M257.3 421.5 L260.6 418.4 L263.9 421.5" fill="none" stroke="#20d020" stroke-width="0.9" stroke-linejoin="round"/>
<rect x="30" y="403" width="5" height="3.4" fill="#d0d0d0" stroke="none" stroke-width="1" />
<rect x="35.4" y="403" width="5" height="3.4" fill="#505050" stroke="none" stroke-width="1" />
<rect x="36.2" y="403.6" width="1.6" height="1.4" fill="#30c040" stroke="none" stroke-width="1" />
<rect x="40.8" y="403" width="5" height="3.4" fill="#c8c8c8" stroke="none" stroke-width="1" />
<text x="31" y="405.7" font-size="2.8" text-anchor="start" font-weight="normal" fill="#333" font-family="'Liberation Sans', 'DejaVu Sans', sans-serif" >x</text>
<text x="41.4" y="405.7" font-size="2.6" text-anchor="start" font-weight="normal" fill="#333" font-family="'Liberation Sans', 'DejaVu Sans', sans-serif" >Pt</text>
<rect x="23.4" y="507.6" width="5" height="3.4" fill="#d0d0d0" stroke="none" stroke-width="1" />
<rect x="28.8" y="507.6" width="5" height="3.4" fill="#505050" stroke="none" stroke-width="1" />
<rect x="29.6" y="508.2" width="1.6" height="1.4" fill="#30c040" stroke="none" stroke-width="1" />
<rect x="34.2" y="507.6" width="5" height="3.4" fill="#c8c8c8" stroke="none" stroke-width="1" />
<text x="24.4" y="510.3" font-size="2.8" text-anchor="start" font-weight="normal" fill="#333" font-family="'Liberation Sans', 'DejaVu Sans', sans-serif" >x</text>
<text x="34.8" y="510.3" font-size="2.6" text-anchor="start" font-weight="normal" fill="#333" font-family="'Liberation Sans', 'DejaVu Sans', sans-serif" >Pt</text>
<rect x="165.7" y="407.8" width="103" height="3.6" fill="#f3f3f3" stroke="#e2e2e2" stroke-width="0.4" />
<rect x="165.7" y="407.8" width="3.2" height="3.6" fill="#e6e6e6" stroke="#cfcfcf" stroke-width="0.3" />
<rect x="265.5" y="407.8" width="3.2" height="3.6" fill="#e6e6e6" stroke="#cfcfcf" stroke-width="0.3" />
<rect x="166" y="507.5" width="102" height="3.6" fill="#f3f3f3" stroke="#e2e2e2" stroke-width="0.4" />
<rect x="166" y="507.5" width="3.2" height="3.6" fill="#e6e6e6" stroke="#cfcfcf" stroke-width="0.3" />
<rect x="264.8" y="507.5" width="3.2" height="3.6" fill="#e6e6e6" stroke="#cfcfcf" stroke-width="0.3" />
<line x1="292.5" y1="327" x2="292.5" y2="511" stroke="#8a8a8a" stroke-width="0.8" />
<rect x="303.5" y="330.5" width="2.2" height="4.5" fill="#a0189a" stroke="none" stroke-width="1" />
<text x="306.6" y="334.2" font-size="3.6" text-anchor="start" font-weight="bold" fill="#222" font-family="'Liberation Sans', 'DejaVu Sans', sans-serif"  textLength="44.9" lengthAdjust="spacingAndGlyphs">Relay &amp; CB Operating Status</text>
<line x1="303.5" y1="335.4" x2="352" y2="335.4" stroke="#555" stroke-width="0.4" />
<text x="306" y="347.8" font-size="6.1" text-anchor="start" font-weight="bold" fill="#222" font-family="'Liberation Sans', 'DejaVu Sans', sans-serif"  textLength="17.3" lengthAdjust="spacingAndGlyphs">Trolley</text>
<text x="326.3" y="347.8" font-size="6.1" text-anchor="start" font-weight="bold" fill="#222" font-family="'Liberation Sans', 'DejaVu Sans', sans-serif"  textLength="17.6" lengthAdjust="spacingAndGlyphs">Feeder</text>
<path d="M311.6 350.4 L318.4 350.4 L315 356.2 Z" fill="#fff" stroke="#555" stroke-width="0.6"/>
<path d="M331.6 350.4 L338.4 350.4 L335 356.2 Z" fill="#fff" stroke="#555" stroke-width="0.6"/>
<line x1="315" y1="356.2" x2="315" y2="500.4" stroke="#444" stroke-width="1.4" />
<line x1="335" y1="356.2" x2="335" y2="500.4" stroke="#444" stroke-width="1.4" />
<path d="M312.1 500.4 L318.3 500.4 L315.2 506.2 Z" fill="#fff" stroke="#555" stroke-width="0.6"/>
<path d="M331.9 500.4 L338.1 500.4 L335 506.2 Z" fill="#fff" stroke="#555" stroke-width="0.6"/>
<path d="M363.4 375.2 L341.9 375.2 L330.1 378.3 L340.3 381.4 L330.1 384.6 L338 387.3 L341.9 387.8 L363.4 387.8" fill="none" stroke="#7a7a7a" stroke-width="0.7"/>
<path d="M363.4 396.5 L320.6 396.5 L309.5 399.3 L319.8 402.2 L309.5 405.3 L317.5 407.6 L320.6 408.3 L363.4 408.3" fill="none" stroke="#7a7a7a" stroke-width="0.7"/>
<path d="M335 475.7 L341.3 475.7 Q346.2 475.7 346.2 479.2 Q346.2 482.7 341.8 482.7 Q346.2 482.7 346.2 486.2 Q346.2 489.7 341.3 489.7 L315 489.7" fill="none" stroke="#7a7a7a" stroke-width="0.7"/>
<path d="M363.4 475.3 L356 475.3 Q350.9 475.3 350.9 478.9 Q350.9 482.5 355.3 482.5 Q350.9 482.5 350.9 486.1 Q350.9 489.7 356 489.7 L363.4 489.7" fill="none" stroke="#7a7a7a" stroke-width="0.7"/>
<line x1="348" y1="476" x2="348" y2="489.5" stroke="#7a7a7a" stroke-width="0.6" />
<line x1="349.3" y1="476" x2="349.3" y2="489.5" stroke="#7a7a7a" stroke-width="0.6" />
<circle cx="335" cy="475.7" r="0.8" fill="#333"/>
<circle cx="315" cy="489.7" r="0.8" fill="#333"/>
<rect x="311.5" y="415" width="26.4" height="52.3" fill="#b7cd8e" stroke="#93a96a" stroke-width="0.7" />
<circle cx="324.7" cy="428.1" r="6.4" fill="#c9c9c9" stroke="#b0b0b0" stroke-width="0.5"/>
<text x="324.7" y="444.3" font-size="6.8" text-anchor="middle" font-weight="bold" fill="#222" font-family="'Liberation Sans', 'DejaVu Sans', sans-serif" >52F</text>
<circle cx="324.7" cy="454.3" r="6.5" fill="#2cf02c"/>
<text x="341" y="461" font-size="5" text-anchor="start" font-weight="bold" fill="#111" font-family="'Liberation Sans', 'DejaVu Sans', sans-serif"  textLength="14.6" lengthAdjust="spacingAndGlyphs">Circuit</text>
<text x="341" y="466.6" font-size="5" text-anchor="start" font-weight="bold" fill="#111" font-family="'Liberation Sans', 'DejaVu Sans', sans-serif"  textLength="17.2" lengthAdjust="spacingAndGlyphs">Breaker</text>
<rect x="363.5" y="350.4" width="68.2" height="150.2" fill="#fff" stroke="#555" stroke-width="0.8" />
<line x1="363.5" y1="369.2" x2="431.7" y2="369.2" stroke="#555" stroke-width="0.8" />
<text x="365.5" y="363.3" font-size="9" text-anchor="start" font-weight="bold" fill="#111" font-family="'Liberation Sans', 'DejaVu Sans', sans-serif"  textLength="63.8" lengthAdjust="spacingAndGlyphs">Protective Relay</text>
<circle cx="365.7" cy="375.2" r="2.3" fill="#fff" stroke="#777" stroke-width="0.6"/>
<circle cx="365.7" cy="387.8" r="2.3" fill="#fff" stroke="#777" stroke-width="0.6"/>
<circle cx="365.7" cy="396.5" r="2.3" fill="#fff" stroke="#777" stroke-width="0.6"/>
<circle cx="365.7" cy="408.3" r="2.3" fill="#fff" stroke="#777" stroke-width="0.6"/>
<circle cx="365.7" cy="475.3" r="2.3" fill="#fff" stroke="#777" stroke-width="0.6"/>
<circle cx="365.7" cy="489.7" r="2.3" fill="#fff" stroke="#777" stroke-width="0.6"/>
<path d="M369.4 376.2 L372.7 376.2 L372.7 387 L369.4 387" fill="none" stroke="#888" stroke-width="0.6"/>
<path d="M369.4 397.4 L372.7 397.4 L372.7 407.6 L369.4 407.6" fill="none" stroke="#888" stroke-width="0.6"/>
<path d="M369.4 476 L372.7 476 L372.7 490.2 L369.4 490.2" fill="none" stroke="#888" stroke-width="0.6"/>
<text x="375.4" y="385" font-size="8.2" text-anchor="start" font-weight="bold" fill="#222" font-family="'Liberation Sans', 'DejaVu Sans', sans-serif" >I</text>
<text x="378.2" y="384.8" font-size="3.8" text-anchor="start" font-weight="bold" fill="#222" font-family="'Liberation Sans', 'DejaVu Sans', sans-serif"  textLength="4.4" lengthAdjust="spacingAndGlyphs">TF</text>
<text x="375.4" y="406" font-size="8.2" text-anchor="start" font-weight="bold" fill="#222" font-family="'Liberation Sans', 'DejaVu Sans', sans-serif" >I</text>
<text x="378.2" y="405.8" font-size="3.8" text-anchor="start" font-weight="bold" fill="#222" font-family="'Liberation Sans', 'DejaVu Sans', sans-serif"  textLength="4.6" lengthAdjust="spacingAndGlyphs">AF</text>
<text x="374.8" y="486" font-size="9.6" text-anchor="start" font-weight="bold" fill="#111" font-family="'Liberation Sans', 'DejaVu Sans', sans-serif" >U</text>
<rect x="385.6" y="379.5" width="43.1" height="91.9" fill="#fbfbfb" stroke="#e6e6e6" stroke-width="0.6" />
<text x="390" y="390.4" font-size="5.2" text-anchor="start" font-weight="bold" fill="#222" font-family="'Liberation Sans', 'DejaVu Sans', sans-serif"  textLength="18.8" lengthAdjust="spacingAndGlyphs">50,51(G)</text>
<circle cx="418.7" cy="388.6" r="4.6" fill="url(#ledg)"/>
<text x="390" y="402.83" font-size="5.2" text-anchor="start" font-weight="bold" fill="#222" font-family="'Liberation Sans', 'DejaVu Sans', sans-serif"  textLength="10.9" lengthAdjust="spacingAndGlyphs">51(E)</text>
<circle cx="418.7" cy="401.03" r="5.1" fill="#c8c8c8" stroke="#dedede" stroke-width="0.6"/>
<text x="390" y="415.26" font-size="5.2" text-anchor="start" font-weight="bold" fill="#222" font-family="'Liberation Sans', 'DejaVu Sans', sans-serif"  textLength="22.4" lengthAdjust="spacingAndGlyphs">21(Zone1)</text>
<circle cx="418.7" cy="413.46" r="5.1" fill="#c8c8c8" stroke="#dedede" stroke-width="0.6"/>
<text x="390" y="427.69" font-size="5.2" text-anchor="start" font-weight="bold" fill="#222" font-family="'Liberation Sans', 'DejaVu Sans', sans-serif"  textLength="22.4" lengthAdjust="spacingAndGlyphs">21(Zone2)</text>
<circle cx="418.7" cy="425.89" r="5.1" fill="#c8c8c8" stroke="#dedede" stroke-width="0.6"/>
<text x="390" y="440.12" font-size="5.2" text-anchor="start" font-weight="bold" fill="#222" font-family="'Liberation Sans', 'DejaVu Sans', sans-serif"  textLength="5.5" lengthAdjust="spacingAndGlyphs">79</text>
<circle cx="418.7" cy="438.32" r="5.1" fill="#c8c8c8" stroke="#dedede" stroke-width="0.6"/>
<text x="390" y="452.55" font-size="5.2" text-anchor="start" font-weight="bold" fill="#222" font-family="'Liberation Sans', 'DejaVu Sans', sans-serif"  textLength="5.5" lengthAdjust="spacingAndGlyphs">59</text>
<circle cx="418.7" cy="450.75" r="5.1" fill="#c8c8c8" stroke="#dedede" stroke-width="0.6"/>
<text x="390" y="464.98" font-size="5.2" text-anchor="start" font-weight="bold" fill="#222" font-family="'Liberation Sans', 'DejaVu Sans', sans-serif"  textLength="5.5" lengthAdjust="spacingAndGlyphs">27</text>
<circle cx="418.7" cy="463.18" r="5.1" fill="#c8c8c8" stroke="#dedede" stroke-width="0.6"/>
<text x="385.9" y="481.6" font-size="3" text-anchor="start" font-weight="bold" fill="#333" font-family="'Liberation Sans', 'DejaVu Sans', sans-serif" >Operating time [sec]</text>
<rect x="385.9" y="483.7" width="27.5" height="7.8" fill="#e8e8e8" stroke="none" stroke-width="1" />
<text x="399.6" y="490" font-size="6.2" text-anchor="middle" font-weight="bold" fill="#111" font-family="'Liberation Sans', 'DejaVu Sans', sans-serif" >0.1327s</text>
<rect x="414.9" y="484" width="13.1" height="7.4" fill="#e4e4e4" stroke="#c8c8c8" stroke-width="0.4" />
<text x="421.4" y="489.2" font-size="4" text-anchor="middle" font-weight="bold" fill="#222" font-family="'Liberation Sans', 'DejaVu Sans', sans-serif" >Init.</text>
<rect x="8.2" y="523.8" width="440.3" height="9.3" fill="#2e2e2e" stroke="none" stroke-width="1" />
<text x="9.2" y="529.9" font-size="3.8" text-anchor="start" font-weight="bold" fill="#e8e8e8" font-family="'Liberation Sans', 'DejaVu Sans', sans-serif"  textLength="15.5" lengthAdjust="spacingAndGlyphs">Processing</text>
<rect x="25.3" y="525.6" width="2" height="2" fill="#22ee22" stroke="none" stroke-width="1" />
<rect x="28.05" y="525.6" width="2" height="2" fill="#22ee22" stroke="none" stroke-width="1" />
<rect x="30.8" y="525.6" width="2" height="2" fill="#22ee22" stroke="none" stroke-width="1" />
<rect x="33.55" y="525.6" width="2" height="2" fill="#22ee22" stroke="none" stroke-width="1" />
<rect x="30.6" y="528.9" width="2" height="2" fill="#22ee22" stroke="none" stroke-width="1" />
<text x="51.2" y="529.9" font-size="3.8" text-anchor="start" font-weight="bold" fill="#ccc" font-family="'Liberation Sans', 'DejaVu Sans', sans-serif"  textLength="7.2" lengthAdjust="spacingAndGlyphs">Time</text>
<text x="77.6" y="530.9" font-size="6.8" text-anchor="start" font-weight="bold" fill="#fff" font-family="'Liberation Sans', 'DejaVu Sans', sans-serif"  textLength="14.4" lengthAdjust="spacingAndGlyphs">1 sec</text>
<text x="110.8" y="529.6" font-size="4.3" text-anchor="start" font-weight="bold" fill="#ccc" font-family="'Liberation Sans', 'DejaVu Sans', sans-serif" >Calibration</text>
<circle cx="137" cy="528.2" r="2.3" fill="#1a9a1a" stroke="#8ae08a" stroke-width="0.6"/>
<text x="143.5" y="529.6" font-size="3.5" text-anchor="start" font-weight="bold" fill="#fff" font-family="'Liberation Sans', 'DejaVu Sans', sans-serif" >Feedback RMS:</text>
<text x="172.6" y="529.6" font-size="3.5" text-anchor="start" font-weight="normal" fill="#aaa" font-family="'Liberation Sans', 'DejaVu Sans', sans-serif" >Voltage  35.3 V</text>
<line x1="203.5" y1="524" x2="203.5" y2="532.5" stroke="#777" stroke-width="0.6" />
<text x="205" y="529.6" font-size="3.5" text-anchor="start" font-weight="normal" fill="#aaa" font-family="'Liberation Sans', 'DejaVu Sans', sans-serif" >Trolley Current</text>
<text x="232" y="529.6" font-size="3.5" text-anchor="start" font-weight="normal" fill="#aaa" font-family="'Liberation Sans', 'DejaVu Sans', sans-serif" >1.14 A</text>
<line x1="247.1" y1="524" x2="247.1" y2="532.5" stroke="#777" stroke-width="0.6" />
<text x="248.5" y="529.6" font-size="3.5" text-anchor="start" font-weight="normal" fill="#aaa" font-family="'Liberation Sans', 'DejaVu Sans', sans-serif" >Feeder Current</text>
<text x="275.5" y="529.6" font-size="3.5" text-anchor="start" font-weight="normal" fill="#aaa" font-family="'Liberation Sans', 'DejaVu Sans', sans-serif" >1.101 A</text>
<text x="232" y="543.8" font-size="10.8" text-anchor="middle" font-weight="normal" fill="#111" font-family="'Liberation Serif', 'DejaVu Serif', serif" >(<tspan font-weight="bold">d</tspan>)</text>
</svg>
</body></html>
